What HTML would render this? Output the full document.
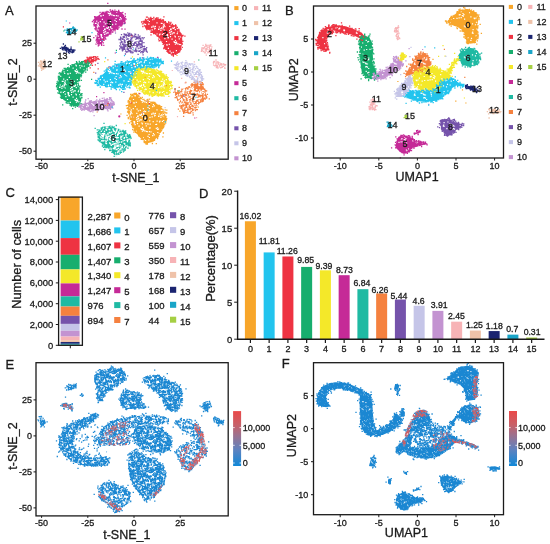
<!DOCTYPE html>
<html><head><meta charset="utf-8"><title>Figure</title><style>
html,body{margin:0;padding:0;background:#fff;width:550px;height:544px;overflow:hidden}
svg{display:block}
text{stroke:#1a1a1a;stroke-width:.3px}
</style></head><body><svg width="550" height="544" viewBox="0 0 550 544" font-family="Liberation Sans, Arial, sans-serif" fill="#1a1a1a"><defs><pattern id="wsp" patternUnits="userSpaceOnUse" width="29" height="31"><g fill="none" stroke-width="1.2" stroke-linecap="square"><path stroke="#fff" d="M6.9 16.9h0M10.7 18.7h0M18.1 2.0h0M0.4 26.0h0M29.4 26.0h0M7.5 7.3h0M-0.1 14.6h0M28.9 14.6h0M24.3 14.8h0M18.5 4.7h0M18.4 26.9h0M15.2 23.0h0M19.5 2.0h0M22.0 18.3h0M8.7 1.0h0M8.7 32.0h0M25.1 14.7h0M20.8 27.2h0M20.7 28.6h0M11.5 24.8h0M12.9 29.0h0M25.5 3.0h0M3.9 6.7h0M28.0 13.5h0M18.2 9.3h0M14.7 12.0h0M10.2 18.1h0M16.9 28.0h0M19.8 28.8h0M24.8 -0.3h0M24.8 30.7h0M19.5 5.1h0M25.0 29.9h0M26.2 17.6h0M20.7 6.5h0M24.1 17.8h0M8.3 2.0h0M24.8 -0.3h0M24.8 30.7h0M2.6 24.8h0M11.9 4.7h0M8.5 23.8h0M25.3 1.4h0M17.8 1.4h0M20.8 10.3h0M25.5 -0.6h0M25.5 30.4h0M14.7 -0.0h0M14.7 31.0h0M9.0 2.4h0M17.4 1.0h0M17.4 32.0h0M5.7 12.6h0M17.7 4.8h0M1.2 26.9h0M9.1 29.7h0M26.0 11.7h0M13.4 16.1h0M18.7 18.5h0M16.2 19.2h0M27.3 15.7h0M12.5 22.3h0M6.9 9.3h0M-0.6 16.2h0M28.4 16.2h0M15.9 0.4h0M15.9 31.4h0M12.0 18.0h0M0.6 19.1h0M29.6 19.1h0M18.3 1.9h0M18.2 14.5h0M19.7 10.9h0"/></g></pattern><pattern id="wsp2" patternUnits="userSpaceOnUse" width="31" height="29"><g fill="none" stroke-width="1.3" stroke-linecap="square"><path stroke="#fff" d="M21.9 21.4h0M0.7 1.8h0M31.7 1.8h0M21.0 27.9h0M7.8 13.2h0M18.4 9.3h0M11.3 9.1h0M11.4 17.3h0M9.3 10.9h0M23.9 0.8h0M23.9 29.8h0M17.6 21.3h0M9.6 6.5h0M24.9 6.9h0M5.8 12.6h0M21.6 3.0h0M10.0 9.7h0M25.8 12.7h0M26.5 4.9h0M10.4 18.9h0M27.4 13.1h0M7.0 3.5h0M16.4 5.5h0M25.0 24.3h0M5.7 8.1h0M25.0 18.6h0M25.0 10.0h0M4.0 8.5h0M24.6 7.9h0M10.7 12.1h0M13.0 11.9h0M28.5 4.5h0M0.1 27.4h0M31.1 27.4h0M27.3 -0.4h0M27.3 28.6h0M13.5 27.6h0M28.7 6.4h0M23.1 24.3h0M20.6 15.1h0M9.0 9.9h0M7.1 2.0h0M18.2 8.3h0M25.1 1.3h0M28.0 20.1h0M28.6 26.0h0M27.9 16.7h0M0.4 21.6h0M31.4 21.6h0M5.3 8.7h0M20.5 15.2h0M12.8 27.2h0M19.0 9.9h0M7.8 25.0h0M14.8 22.7h0M10.9 5.7h0M16.6 23.7h0M5.3 23.0h0M28.6 23.4h0M25.5 0.2h0M25.5 29.2h0M19.5 25.0h0M1.5 7.9h0M8.3 15.3h0M13.1 13.7h0M24.1 0.1h0M24.1 29.1h0M1.7 3.7h0M3.9 2.0h0M-0.8 24.8h0M30.2 24.8h0M2.7 14.6h0M9.8 9.1h0M10.9 18.8h0M18.2 10.5h0M5.9 9.5h0M3.8 16.1h0M22.2 11.0h0M2.5 5.2h0M11.6 17.5h0M24.3 11.0h0M24.8 18.1h0M13.4 10.8h0M15.4 20.4h0M13.0 20.1h0M14.3 7.1h0M16.6 20.2h0M2.2 12.3h0M13.2 25.5h0M29.0 10.9h0M27.8 22.9h0M8.1 13.5h0M3.8 23.6h0M20.5 25.7h0M24.6 19.4h0M22.7 16.4h0M3.2 17.0h0M0.2 4.2h0M31.2 4.2h0M24.0 1.3h0M2.8 2.9h0M27.3 5.2h0M0.7 24.4h0M31.7 24.4h0M3.8 24.5h0M20.9 24.2h0M29.5 16.8h0M24.8 1.1h0M23.8 14.8h0M22.2 3.1h0M23.2 27.1h0M1.9 9.4h0M17.5 24.0h0M7.5 5.2h0M7.7 17.9h0M23.4 11.4h0M11.4 11.5h0M10.9 12.1h0M2.6 14.5h0M-0.8 12.0h0M30.2 12.0h0M23.2 4.7h0M21.4 21.9h0M20.9 15.0h0M15.0 18.6h0M27.8 4.3h0M3.0 21.7h0M28.4 15.0h0M13.7 20.8h0M5.8 7.8h0M6.2 17.0h0M9.8 6.7h0M21.4 27.6h0M9.2 20.5h0M12.8 24.8h0M18.1 7.7h0M6.7 0.7h0M6.7 29.7h0M14.9 11.1h0M5.3 10.5h0M10.0 22.5h0M4.5 -0.3h0M4.5 28.7h0M14.9 17.4h0M14.5 24.2h0M25.5 16.2h0M14.9 20.9h0M26.6 11.6h0M22.7 27.8h0M14.5 6.7h0M7.3 20.8h0M20.9 27.8h0M26.5 7.0h0M5.9 7.5h0M5.8 20.4h0M26.6 26.1h0M7.9 25.1h0M9.7 12.3h0M22.6 2.5h0M2.9 24.2h0M9.0 10.3h0M18.0 19.6h0M0.2 9.7h0M31.2 9.7h0M13.5 14.1h0M6.5 17.0h0M29.6 11.3h0M16.9 3.5h0M8.5 19.3h0M3.5 25.7h0M28.2 2.8h0M29.2 10.9h0M23.9 22.0h0M9.2 19.6h0M20.3 23.4h0M8.2 21.9h0M29.8 19.5h0M16.6 3.3h0M15.3 10.2h0M22.3 19.7h0M17.6 5.3h0M20.0 18.3h0M5.6 25.8h0M20.3 3.6h0M28.9 4.1h0M10.3 20.9h0M18.5 16.1h0M20.1 13.3h0M9.7 5.1h0M2.1 20.8h0M23.4 15.8h0M22.9 10.4h0M8.2 11.1h0M27.0 1.2h0M15.6 7.2h0M23.8 10.3h0M10.3 11.7h0M16.8 22.4h0M10.9 24.6h0M3.5 7.8h0M3.1 3.3h0M24.1 21.1h0M5.7 5.5h0M12.9 21.6h0M25.3 21.7h0M18.3 4.2h0M12.4 5.6h0M16.4 16.5h0M6.3 7.3h0M24.2 0.9h0M24.2 29.9h0M24.9 25.8h0M29.4 11.1h0M17.1 16.9h0M19.6 -0.7h0M19.6 28.3h0M21.3 8.7h0M26.7 14.0h0M18.6 21.1h0M0.1 22.3h0M31.1 22.3h0M20.5 14.3h0M16.2 13.4h0M6.0 15.4h0M1.1 14.5h0M20.0 12.9h0M17.5 27.8h0M27.7 3.9h0M24.6 18.1h0M1.6 10.4h0M7.2 2.3h0M16.7 27.0h0M10.0 25.2h0M21.5 3.9h0M26.6 17.4h0M28.7 20.8h0M22.9 10.0h0M25.0 27.0h0M26.7 12.7h0M23.5 14.1h0M3.4 1.2h0M2.4 5.8h0M5.0 14.4h0M21.7 15.6h0M13.1 18.8h0M9.4 13.5h0M23.5 11.6h0M5.6 26.1h0M22.3 10.6h0M11.5 15.4h0M18.5 6.5h0M0.1 6.1h0M31.1 6.1h0M24.3 4.2h0M14.3 5.7h0M6.5 5.0h0M12.5 4.9h0M0.9 3.2h0M31.9 3.2h0M5.2 14.2h0M1.9 0.7h0M1.9 29.7h0M13.9 11.8h0M21.8 1.5h0M12.5 11.5h0M0.8 -1.0h0M0.8 28.0h0M31.8 -1.0h0M31.8 28.0h0M6.8 2.7h0M14.7 4.8h0M19.3 10.0h0M3.8 1.5h0M22.6 8.0h0M24.4 13.5h0M28.9 8.7h0M7.7 7.7h0M25.3 18.2h0M10.7 2.7h0M21.2 -0.9h0M21.2 28.1h0M18.4 0.1h0M18.4 29.1h0M0.9 2.6h0M31.9 2.6h0M5.3 1.1h0M1.7 19.0h0M27.9 5.8h0M-0.8 13.8h0M30.2 13.8h0M24.9 26.6h0M29.1 1.0h0M29.1 30.0h0M9.4 17.6h0M29.3 2.5h0M9.1 24.6h0M3.6 11.3h0M10.4 19.7h0M28.8 5.1h0M22.9 21.3h0M25.9 16.0h0M28.6 10.5h0M12.9 6.7h0M24.2 13.9h0M8.4 4.9h0M22.3 17.6h0M22.0 11.2h0M15.1 4.5h0M22.0 0.7h0M22.0 29.7h0M14.5 22.0h0M21.0 2.8h0M7.4 24.5h0M19.9 25.5h0M27.0 13.0h0M27.8 21.3h0M10.3 10.7h0M2.2 11.6h0M29.6 3.0h0M17.6 3.2h0M2.5 18.8h0M7.5 1.4h0M4.7 18.7h0M18.2 0.3h0M18.2 29.3h0M7.1 -0.9h0M7.1 28.1h0M6.8 16.3h0M13.0 22.7h0M18.7 22.9h0M16.6 5.5h0M5.5 2.3h0M25.6 3.3h0M0.7 -1.0h0M0.7 28.0h0M31.7 -1.0h0M31.7 28.0h0M6.2 25.9h0M2.7 13.5h0M6.9 24.1h0M19.1 18.6h0M23.6 25.3h0M10.7 17.5h0M13.8 3.2h0M25.9 17.2h0M25.3 6.0h0M16.7 13.5h0M22.6 2.2h0"/></g></pattern><pattern id="wspA" patternUnits="userSpaceOnUse" width="33" height="29"><g fill="none" stroke-width="1.2" stroke-linecap="square"><path stroke="#fff" d="M11.4 14.1h0M2.4 16.0h0M24.3 12.3h0M21.4 17.6h0M7.1 10.2h0M-0.1 9.7h0M32.9 9.7h0M14.2 2.4h0M7.2 4.8h0M30.7 21.1h0M28.9 -0.4h0M28.9 28.6h0M20.2 27.0h0M17.7 12.1h0M31.3 26.2h0M31.3 14.0h0M25.5 11.8h0M-0.1 26.7h0M32.9 26.7h0M9.6 27.1h0M6.1 2.8h0M23.8 8.5h0M17.1 18.5h0M1.3 21.6h0M9.1 12.5h0M11.4 21.5h0M24.6 8.3h0M3.4 8.7h0M13.6 2.2h0M5.1 22.1h0M23.1 -0.7h0M23.1 28.3h0M-0.7 25.4h0M32.3 25.4h0M12.3 4.7h0M10.3 13.4h0M17.4 15.7h0M11.9 24.7h0M9.4 13.4h0M29.3 23.4h0M9.8 7.0h0M26.6 0.3h0M26.6 29.3h0M4.3 15.4h0M17.7 4.8h0M1.7 5.9h0M25.4 13.5h0M-0.7 22.8h0M32.3 22.8h0M-0.7 1.0h0M32.3 1.0h0M6.1 0.4h0M6.1 29.4h0M14.3 9.8h0M1.7 15.8h0M3.1 9.0h0M8.2 23.3h0M13.8 7.6h0M1.5 12.5h0M20.7 19.6h0M30.1 23.4h0M8.2 3.9h0M25.0 22.9h0M16.8 24.1h0M18.2 8.1h0M5.6 0.5h0M5.6 29.5h0M21.2 26.0h0M29.9 13.6h0M22.0 26.9h0M26.9 17.5h0M13.7 15.0h0M5.6 5.3h0M22.6 -0.2h0M22.6 28.8h0M18.1 11.8h0M11.6 13.2h0M26.5 13.1h0M31.7 4.5h0M10.4 15.1h0M13.6 24.7h0M27.3 27.0h0M20.2 0.9h0M20.2 29.9h0M19.0 15.9h0M16.1 8.1h0M23.4 26.4h0M3.4 19.4h0M12.3 14.9h0M29.6 27.8h0M21.2 5.7h0M30.4 5.3h0M12.6 24.0h0M10.4 7.9h0M31.3 27.4h0M10.5 11.4h0M9.3 3.8h0M8.3 -0.6h0M8.3 28.4h0M2.6 6.7h0M6.6 2.3h0M17.4 21.5h0M27.7 18.3h0M27.0 0.2h0M27.0 29.2h0M9.3 27.9h0M2.3 7.8h0M15.9 7.8h0M18.0 1.4h0M7.8 27.8h0M4.8 26.3h0M5.9 -0.2h0M5.9 28.8h0M22.3 18.8h0M4.7 1.6h0M25.1 5.1h0M6.3 23.9h0M28.9 1.4h0M31.7 15.5h0M12.6 3.1h0M12.9 -0.4h0M12.9 28.6h0M9.3 3.8h0M4.8 3.7h0M11.6 26.5h0M2.5 5.6h0M31.0 -0.1h0M31.0 28.9h0M-0.7 7.1h0M32.3 7.1h0M11.7 27.6h0M16.0 20.4h0M10.3 0.6h0M10.3 29.6h0M11.4 21.7h0M25.8 16.5h0M15.3 15.6h0M14.6 15.5h0M27.5 5.8h0M19.6 27.1h0M28.0 5.2h0M31.8 24.4h0M5.5 7.7h0"/></g></pattern><pattern id="bdot" patternUnits="userSpaceOnUse" width="37" height="33"><g fill="none" stroke-width="1.3" stroke-linecap="square"><path stroke="#1B87D2" d="M7.5 1.8h0M-0.8 13.5h0M36.2 13.5h0M32.3 3.8h0M0.5 28.7h0M37.5 28.7h0M29.4 -0.3h0M29.4 32.7h0M25.4 17.3h0M28.3 3.1h0M20.0 14.6h0M5.4 19.8h0M12.0 16.7h0M13.8 10.5h0M13.3 19.8h0M-0.7 30.9h0M36.3 30.9h0M31.9 27.6h0M10.6 -0.8h0M10.6 32.2h0M10.0 4.1h0M18.5 24.2h0M12.6 21.3h0M10.4 31.9h0M16.8 15.8h0M19.7 28.9h0M-0.5 17.4h0M36.5 17.4h0M16.3 20.4h0M2.6 14.0h0M31.4 25.7h0M2.2 28.2h0M14.2 -0.6h0M14.2 32.4h0M13.6 7.1h0M20.3 29.2h0M16.0 28.6h0M26.3 11.9h0M11.1 16.7h0M14.8 12.3h0M24.1 28.9h0M21.6 4.8h0M8.1 12.2h0M22.7 4.6h0M3.0 10.6h0M10.5 1.0h0M10.5 34.0h0M19.9 30.4h0M19.8 24.3h0M30.7 27.6h0M33.8 14.6h0M25.3 4.0h0M32.6 12.5h0M17.6 29.4h0M10.6 6.3h0M30.5 19.8h0M3.1 0.9h0M3.1 33.9h0M13.0 0.2h0M13.0 33.2h0M30.8 6.1h0M10.1 12.8h0M18.9 14.3h0M23.3 21.8h0M16.1 3.2h0M-0.8 22.8h0M36.2 22.8h0M3.1 14.6h0M27.9 -0.3h0M27.9 32.7h0M2.4 0.3h0M2.4 33.3h0M17.8 13.9h0M33.1 27.3h0M12.3 13.8h0M21.6 29.2h0M7.5 12.9h0M3.3 21.2h0M1.0 30.9h0M38.0 30.9h0M19.4 18.9h0M3.2 7.7h0M17.3 28.3h0M19.9 9.4h0M-0.7 21.8h0M36.3 21.8h0M19.6 6.7h0M11.0 29.7h0M4.9 17.5h0M22.9 11.7h0M28.4 30.0h0M31.7 24.4h0M7.5 2.0h0M16.0 10.3h0M7.2 28.8h0M8.0 27.2h0M34.7 4.0h0M33.8 13.1h0M7.8 6.2h0M1.4 16.5h0M14.2 28.1h0M30.8 1.9h0M14.8 12.8h0M6.6 8.3h0M9.7 22.9h0M12.6 3.7h0M8.2 14.6h0M20.9 8.1h0M25.9 7.1h0M24.8 20.1h0M6.5 24.8h0M14.6 17.8h0M22.1 20.7h0M16.4 1.8h0M29.1 28.4h0M18.1 19.1h0M9.9 29.7h0M25.4 7.3h0M30.2 -0.5h0M30.2 32.5h0M12.8 -0.1h0M12.8 32.9h0M17.9 5.9h0M26.5 11.2h0M27.1 19.3h0M4.0 17.4h0M31.5 15.8h0M20.0 28.5h0M16.5 16.3h0M21.6 27.2h0M7.5 3.1h0M28.2 18.2h0M11.2 29.4h0M32.7 17.9h0M-0.4 27.6h0M36.6 27.6h0M27.7 9.6h0M0.4 22.4h0M37.4 22.4h0M27.2 11.6h0M17.7 18.7h0M9.2 23.0h0M20.8 12.7h0M4.1 18.3h0M11.8 23.9h0M6.4 13.0h0M7.3 13.5h0M21.3 3.5h0M2.0 15.9h0M7.5 16.7h0M6.2 3.3h0M19.9 30.5h0M32.1 17.0h0M14.7 2.2h0M10.2 10.4h0M34.8 3.9h0M35.1 15.7h0M16.1 8.7h0M35.6 6.1h0M21.1 16.9h0M7.4 7.4h0M-0.5 26.1h0M36.5 26.1h0M27.1 29.8h0M3.6 23.2h0M27.8 7.4h0M16.9 -0.8h0M16.9 32.2h0M12.1 25.2h0M6.1 22.0h0M10.0 16.8h0M13.8 28.7h0M27.6 16.6h0M25.4 14.1h0M29.8 8.5h0M20.1 19.3h0M14.4 1.5h0M6.3 21.1h0M7.8 25.0h0M18.7 31.5h0M31.4 24.0h0M13.8 1.4h0M20.6 24.6h0M34.1 6.7h0M5.9 -0.6h0M5.9 32.4h0M27.4 16.0h0M27.3 4.9h0M20.1 22.1h0M22.3 5.3h0M5.1 20.6h0M32.7 4.6h0M0.3 2.7h0M37.3 2.7h0M29.1 12.9h0M16.9 -0.2h0M16.9 32.8h0M22.6 8.7h0M25.9 0.1h0M25.9 33.1h0M10.4 23.1h0M6.3 1.1h0M19.2 10.8h0M35.9 3.4h0M29.7 12.8h0M29.8 14.7h0M24.7 10.8h0M8.3 14.9h0M29.6 11.4h0M8.5 13.7h0M3.5 10.4h0M21.2 18.0h0M22.1 9.6h0M0.9 0.9h0M0.9 33.9h0M37.9 0.9h0M37.9 33.9h0M12.5 6.5h0M21.1 8.8h0M28.2 19.8h0M24.5 24.3h0M19.3 14.1h0M11.4 2.1h0M29.4 16.5h0M3.7 30.6h0M21.5 20.6h0M16.2 4.2h0M-0.0 5.5h0M37.0 5.5h0M13.6 -0.0h0M13.6 33.0h0M4.5 16.5h0M17.7 8.2h0M34.2 13.7h0M0.4 15.6h0M37.4 15.6h0M0.2 23.4h0M37.2 23.4h0M32.2 29.9h0M1.8 22.3h0M11.3 15.6h0M11.1 10.1h0M4.9 20.6h0M3.3 31.8h0M1.6 31.8h0M7.1 2.8h0M27.6 17.5h0M28.5 16.8h0M23.3 2.7h0M24.9 16.9h0M35.6 0.2h0M35.6 33.2h0M2.5 22.3h0M34.3 13.9h0M26.3 18.5h0M14.5 15.4h0M22.3 1.0h0M22.3 34.0h0M11.3 24.4h0M9.6 15.6h0M9.5 11.8h0M24.1 24.5h0M35.4 15.7h0M7.5 11.1h0M2.2 7.9h0M21.6 20.2h0M8.9 6.0h0M3.6 5.9h0M18.6 8.4h0M32.7 18.6h0M12.6 14.2h0M1.5 24.2h0M27.8 12.0h0M26.8 9.0h0M8.1 7.5h0M7.3 20.0h0M23.8 24.0h0M3.8 25.3h0M17.7 12.5h0M18.6 14.3h0M7.4 13.0h0M23.9 23.6h0M33.9 6.4h0M33.0 26.4h0M26.4 -0.7h0M26.4 32.3h0M5.1 25.6h0M33.3 4.0h0M22.0 31.3h0M10.8 28.2h0M33.5 14.4h0M5.4 7.1h0M30.7 13.9h0M11.7 14.6h0M34.3 8.4h0M0.7 31.3h0M37.7 31.3h0M11.7 12.7h0M-0.9 9.3h0M36.1 9.3h0M3.2 29.3h0M9.0 7.3h0M34.7 7.6h0M33.3 11.0h0M11.2 7.1h0M20.1 18.5h0M14.7 16.7h0M11.0 27.6h0M34.6 24.9h0M30.3 2.3h0M9.3 6.7h0M5.7 32.0h0M33.5 30.2h0M20.6 3.8h0M15.8 1.9h0M33.5 8.8h0M10.7 31.2h0M7.4 30.4h0M11.5 21.9h0M3.9 29.6h0M14.7 11.4h0M24.2 19.6h0M9.3 4.1h0M21.3 0.8h0M21.3 33.8h0M32.2 11.3h0M6.3 10.8h0M4.2 10.4h0M20.1 13.4h0M12.4 9.6h0M18.0 25.7h0M16.2 25.3h0M17.9 4.0h0M6.3 28.0h0M17.7 12.6h0M19.1 27.9h0M13.9 11.9h0M13.5 0.4h0M13.5 33.4h0M20.2 15.8h0M18.3 14.9h0M17.5 23.6h0M6.9 -0.6h0M6.9 32.4h0M4.2 28.6h0M6.5 26.2h0M9.6 2.6h0M20.0 27.7h0M31.3 28.9h0M-0.8 1.8h0M36.2 1.8h0M14.0 3.5h0M27.9 14.9h0M27.5 26.3h0M-0.0 22.3h0M37.0 22.3h0M32.4 18.1h0M3.0 29.4h0M3.4 2.8h0M30.7 9.3h0M24.5 0.9h0M24.5 33.9h0M7.8 23.6h0M1.4 16.9h0M34.7 7.1h0M26.1 24.5h0M22.9 25.3h0M25.8 0.5h0M25.8 33.5h0M7.1 17.7h0M35.9 7.2h0M21.7 4.2h0M31.3 14.7h0M19.3 22.1h0M5.1 24.1h0M29.6 28.4h0M10.4 7.7h0M6.1 29.7h0M16.2 12.9h0M19.3 23.1h0M11.8 11.1h0M28.4 25.6h0M11.0 2.4h0M34.3 24.1h0M22.0 13.4h0M35.5 14.2h0M8.0 3.3h0M13.0 19.8h0M13.5 31.3h0M24.0 15.1h0M24.4 19.9h0M22.9 16.3h0M19.4 16.2h0M30.8 6.3h0M29.1 9.8h0M31.4 2.4h0M17.9 14.6h0M26.3 6.7h0M9.7 4.4h0M20.8 19.0h0M0.0 5.9h0M37.0 5.9h0M7.4 31.6h0M16.8 18.7h0M10.7 21.8h0M30.1 22.1h0M0.1 14.5h0M37.1 14.5h0M18.1 1.5h0M29.2 10.5h0M10.9 20.6h0M21.6 16.4h0M31.8 17.1h0M12.7 2.1h0M20.5 12.0h0M19.9 11.5h0M0.3 1.2h0M37.3 1.2h0M5.8 3.1h0M31.5 19.2h0M8.8 23.5h0M23.5 2.0h0M27.8 7.6h0M-0.1 4.7h0M36.9 4.7h0M10.6 8.2h0M31.9 27.0h0M21.4 4.9h0M15.9 23.2h0M2.1 30.4h0M31.1 30.7h0M25.8 20.4h0M-0.9 8.8h0M36.1 8.8h0M11.3 4.1h0M6.7 26.3h0M3.5 24.6h0M14.7 29.0h0M28.1 22.7h0M31.3 1.4h0M9.8 12.2h0M15.9 22.1h0M32.5 24.4h0M34.4 23.0h0M13.2 16.8h0M27.7 26.9h0M13.7 11.7h0M22.7 7.5h0M32.7 0.0h0M32.7 33.0h0M24.0 16.0h0M7.2 18.8h0M17.5 31.7h0M32.7 19.4h0M32.2 29.2h0M6.1 27.3h0M30.8 -0.3h0M30.8 32.7h0M28.1 12.9h0M7.6 21.5h0M7.8 25.0h0M21.3 27.3h0M13.2 10.0h0M33.5 21.9h0M14.0 18.5h0M16.1 21.2h0M19.1 9.4h0M-0.8 29.2h0M36.2 29.2h0M28.1 9.2h0M7.2 24.1h0M30.4 21.5h0M7.9 23.8h0M19.4 12.3h0M21.8 14.8h0M24.0 24.8h0M-0.6 3.7h0M36.4 3.7h0M21.1 31.2h0M24.3 19.1h0M31.6 1.0h0M29.3 20.6h0M21.6 10.3h0M22.9 4.1h0M19.4 8.5h0M34.5 26.6h0M17.5 24.9h0M14.2 17.3h0M6.0 28.3h0M28.3 25.1h0M3.1 27.0h0M0.4 18.6h0M37.4 18.6h0M18.0 2.0h0M15.6 29.3h0M23.1 10.4h0M30.1 11.7h0M33.2 13.2h0M2.9 -0.9h0M2.9 32.1h0M2.6 8.4h0M28.5 3.8h0M20.1 28.3h0M21.8 11.5h0M28.0 27.2h0M21.4 20.7h0M11.9 13.4h0M-0.3 -0.9h0M-0.3 32.1h0M36.7 -0.9h0M36.7 32.1h0M0.1 6.5h0M37.1 6.5h0M8.3 26.2h0M7.4 5.6h0M28.3 5.6h0M-0.8 15.0h0M36.2 15.0h0M33.2 27.1h0M7.7 25.9h0M15.4 7.3h0M1.7 23.2h0M20.8 10.0h0M30.8 6.5h0M16.5 2.9h0M13.0 29.2h0M18.5 5.1h0M8.8 21.3h0M10.3 29.3h0M2.2 28.7h0M23.0 27.1h0M13.1 2.3h0M6.4 20.7h0M1.0 3.6h0M38.0 3.6h0M28.9 29.0h0M31.7 27.6h0M20.5 28.9h0M25.8 18.4h0M15.8 0.8h0M15.8 33.8h0M3.3 8.2h0M17.1 4.0h0M35.9 19.0h0M27.4 29.5h0M8.4 29.2h0M35.4 8.8h0M4.6 26.4h0M32.9 26.4h0M15.1 19.9h0M4.2 7.7h0M15.5 24.6h0M3.3 30.6h0M1.1 32.0h0M8.8 27.0h0M30.3 31.5h0M17.4 23.1h0M10.8 27.5h0M4.0 29.2h0M21.9 2.0h0M34.8 10.4h0M2.5 8.5h0M1.0 9.3h0M26.3 -0.4h0M26.3 32.6h0M23.4 28.2h0M30.4 23.6h0M14.2 8.3h0M5.8 18.0h0M7.6 24.4h0M11.9 19.1h0M20.2 20.7h0M5.7 8.5h0M25.5 7.0h0M24.8 31.8h0M14.4 31.7h0M22.7 31.2h0M19.5 24.8h0M25.3 6.4h0M19.2 19.2h0M17.2 21.8h0M33.6 26.2h0M30.1 4.7h0M26.0 20.7h0M34.7 0.1h0M34.7 33.1h0M6.4 -0.8h0M6.4 32.2h0M13.8 23.3h0M21.9 13.1h0M16.2 18.6h0M-0.5 17.6h0M36.5 17.6h0M29.2 10.0h0M26.3 20.0h0M27.5 29.0h0M3.0 31.9h0M22.6 8.6h0M17.2 3.2h0M8.6 27.6h0M26.3 28.6h0M6.0 3.6h0M14.0 16.4h0M26.3 9.8h0M27.3 19.3h0M10.7 26.0h0M2.7 19.5h0M6.9 1.4h0M17.7 17.2h0M22.7 12.4h0M34.4 25.9h0M5.7 0.2h0M5.7 33.2h0M35.5 13.6h0M3.9 5.9h0M25.9 5.8h0M13.8 22.3h0M13.0 21.6h0M35.1 26.2h0M23.2 20.6h0M11.5 21.1h0M24.0 19.4h0M18.2 24.8h0M7.6 23.5h0M-0.8 1.2h0M36.2 1.2h0M9.3 -0.5h0M9.3 32.5h0M3.1 27.0h0M21.5 2.3h0M23.3 0.3h0M23.3 33.3h0M31.4 10.0h0M34.2 29.6h0M5.1 13.3h0M5.6 25.0h0M3.5 2.4h0M4.3 28.3h0M9.1 10.7h0M16.5 18.2h0M15.3 31.3h0M12.6 15.7h0M31.9 8.0h0M6.4 27.6h0M11.7 29.4h0M30.4 12.3h0M12.3 3.3h0M32.3 14.6h0M12.7 5.8h0M8.4 28.8h0M4.8 18.3h0M23.1 17.2h0M18.6 13.1h0M7.1 27.1h0M33.2 18.6h0M9.3 30.1h0M7.5 5.6h0M23.2 27.4h0M21.2 3.6h0M-0.8 5.2h0M36.2 5.2h0M12.7 -0.4h0M12.7 32.6h0M29.3 24.9h0M2.8 28.1h0M14.8 0.4h0M14.8 33.4h0M29.2 30.7h0M1.8 15.0h0M33.4 11.0h0M11.2 25.7h0M16.3 -0.1h0M16.3 32.9h0M31.7 28.3h0M26.2 6.4h0M25.4 19.1h0M17.9 18.7h0M11.3 6.5h0M33.8 12.1h0M3.9 -0.8h0M3.9 32.2h0M18.9 22.3h0M12.6 4.9h0M12.3 27.5h0M10.1 30.1h0M11.3 29.6h0M6.6 14.6h0M4.8 4.9h0M19.3 12.0h0M19.9 7.1h0M11.5 10.6h0M33.2 2.7h0M15.4 28.2h0M21.2 8.4h0M-0.1 3.6h0M36.9 3.6h0M5.1 0.6h0M5.1 33.6h0M16.2 28.3h0M10.4 9.4h0M29.5 2.6h0M0.6 21.9h0M37.6 21.9h0M3.3 17.4h0M5.4 19.9h0M31.5 15.0h0M10.1 20.6h0M25.9 1.9h0M8.9 12.4h0M18.7 9.0h0M24.4 8.4h0M33.5 11.6h0M8.2 2.6h0M4.7 7.1h0M32.7 13.7h0M16.4 31.7h0M35.8 25.3h0M8.9 10.8h0M18.7 8.5h0M12.8 7.0h0M8.9 24.7h0M22.3 14.7h0M17.5 20.2h0M25.3 0.8h0M25.3 33.8h0M31.2 15.3h0M12.7 31.6h0M28.0 11.6h0M0.9 14.4h0M37.9 14.4h0M16.3 12.4h0M3.6 19.0h0M9.4 25.1h0M19.6 9.7h0M30.6 14.8h0M3.1 9.2h0M1.9 14.2h0M33.6 31.0h0M24.1 5.1h0M8.9 6.7h0M13.8 21.1h0M0.8 16.2h0M37.8 16.2h0M15.7 21.8h0M30.6 13.1h0M22.3 9.0h0M16.8 21.0h0M1.9 17.0h0M18.6 6.1h0M9.2 27.2h0M12.9 6.4h0M10.5 17.2h0M14.8 11.6h0M11.9 7.1h0M18.7 19.8h0M3.3 19.5h0M11.4 -0.7h0M11.4 32.3h0M34.7 4.3h0M25.8 11.4h0M4.1 28.9h0M33.6 26.0h0M23.6 -0.7h0M23.6 32.3h0M20.6 22.3h0M24.1 28.4h0M31.7 10.0h0M7.7 18.0h0M21.8 11.7h0M31.8 28.0h0M25.4 17.7h0M25.7 6.4h0M29.9 4.2h0M33.4 20.6h0M10.3 6.3h0M22.2 15.3h0M25.8 3.2h0M32.4 14.2h0M16.3 24.4h0M22.4 14.7h0M10.8 15.4h0M1.2 8.4h0M30.6 4.0h0M3.2 28.0h0M13.8 17.5h0M21.7 23.7h0M11.8 25.4h0M0.0 28.0h0M37.0 28.0h0M11.5 20.6h0M11.2 24.7h0M13.9 19.9h0M11.9 27.5h0M28.7 6.6h0M28.0 31.1h0M8.8 6.3h0M34.4 31.8h0M4.8 25.6h0M34.4 8.7h0M28.9 9.8h0M29.1 16.8h0M17.5 4.1h0M24.1 23.1h0M10.8 1.5h0M3.4 8.6h0M-0.1 24.5h0M36.9 24.5h0M33.2 24.7h0M4.9 12.7h0M35.1 28.1h0M-0.3 27.1h0M36.7 27.1h0M26.3 25.2h0M33.9 14.2h0M1.2 10.3h0M0.5 9.0h0M37.5 9.0h0M21.8 9.1h0M9.2 3.1h0M13.3 17.0h0M21.9 31.1h0M2.6 8.4h0M2.8 30.7h0M23.4 21.7h0M30.1 0.1h0M30.1 33.1h0M33.4 11.0h0M23.3 13.3h0M27.6 10.0h0M10.3 8.2h0M26.8 15.0h0M5.7 11.7h0M21.0 12.3h0M21.9 27.8h0M23.7 26.4h0M11.2 28.7h0M34.8 17.5h0M0.9 2.8h0M37.9 2.8h0M28.0 28.6h0M26.8 16.8h0M20.0 3.8h0M22.1 -0.0h0M22.1 33.0h0M7.6 20.1h0M31.5 21.5h0M13.0 7.8h0M27.1 30.6h0M32.5 13.2h0M27.6 26.8h0M13.9 24.9h0M14.3 6.6h0M0.0 23.9h0M37.0 23.9h0M27.8 1.4h0M2.3 10.5h0M7.7 24.1h0M7.0 19.3h0M20.4 11.5h0M31.6 14.4h0M18.9 22.0h0M15.0 6.1h0M35.3 24.8h0M20.2 16.4h0M22.8 9.7h0M2.7 18.0h0M33.3 3.3h0M-0.7 12.3h0M36.3 12.3h0M-0.1 25.4h0M36.9 25.4h0M10.1 7.0h0M32.9 -0.7h0M32.9 32.3h0M29.8 19.3h0M20.1 25.8h0M30.4 27.5h0M10.7 27.3h0M35.3 19.0h0M0.3 6.2h0M37.3 6.2h0M24.1 14.0h0M34.0 21.2h0M25.9 5.0h0M19.4 23.4h0M33.9 29.8h0M9.8 16.6h0M-0.8 3.0h0M36.2 3.0h0M2.6 6.0h0M27.1 10.7h0M26.2 27.3h0M29.9 1.3h0M25.5 26.3h0M26.0 28.5h0M30.3 20.3h0M32.0 18.0h0M4.0 9.4h0M34.5 11.1h0M17.4 28.8h0M25.4 26.1h0M17.4 16.8h0M2.9 6.6h0M5.9 17.7h0M19.5 2.4h0M23.5 3.4h0M14.3 0.9h0M14.3 33.9h0M17.6 4.8h0M34.8 11.9h0M30.7 14.6h0M12.1 27.7h0M10.2 17.0h0M23.7 -0.2h0M23.7 32.8h0M26.0 1.7h0M16.9 31.4h0M31.6 12.2h0M4.8 8.9h0M28.0 6.0h0M33.0 8.8h0M25.5 22.9h0M9.0 17.1h0M23.2 8.9h0M19.7 20.7h0M35.4 9.4h0M6.4 16.7h0M22.1 16.1h0M33.8 6.7h0M18.8 15.6h0M7.3 15.0h0M16.7 12.4h0M28.6 -0.4h0M28.6 32.6h0M35.9 7.2h0M13.8 31.3h0M3.1 3.0h0M2.4 31.7h0M18.7 14.3h0M3.6 29.2h0M-0.3 22.7h0M36.7 22.7h0M33.8 18.7h0M11.5 5.9h0M11.2 4.9h0M13.6 1.6h0M1.5 29.6h0M31.4 26.9h0M13.0 14.9h0M20.1 26.0h0M11.2 16.9h0M20.3 27.8h0M12.9 0.1h0M12.9 33.1h0M14.9 29.2h0M6.5 20.7h0M4.9 8.9h0M23.1 3.4h0M16.8 19.4h0M14.4 25.0h0M31.3 9.2h0M28.1 24.9h0M22.0 19.5h0M21.0 24.4h0M25.6 8.9h0M24.1 23.5h0M17.1 29.6h0M11.6 18.2h0M21.0 19.9h0M6.8 22.1h0M4.3 17.6h0M16.7 22.9h0M31.7 -0.5h0M31.7 32.5h0M8.5 30.0h0M17.5 16.6h0M1.5 28.4h0M8.5 9.2h0M11.3 7.7h0M10.7 9.5h0M19.7 11.9h0M28.0 30.8h0M34.5 12.4h0M25.3 24.2h0M26.8 13.2h0M7.1 25.0h0M24.3 11.6h0M24.7 2.2h0M29.0 29.6h0M35.9 3.8h0M25.6 25.8h0M5.2 20.1h0M7.0 7.2h0M1.0 9.3h0M31.4 19.4h0M29.5 -1.0h0M29.5 32.0h0M5.6 28.0h0M33.1 21.4h0M12.4 5.8h0M16.2 12.3h0M9.6 22.3h0M23.5 8.5h0M6.4 16.5h0M26.3 22.0h0M23.7 29.6h0M28.0 14.6h0M27.6 21.9h0M12.6 5.5h0M14.0 23.7h0M27.8 10.0h0M20.0 2.5h0M22.1 14.8h0M28.4 28.4h0M1.9 31.8h0M6.3 31.8h0M-0.5 7.3h0M36.5 7.3h0M10.8 4.8h0M33.7 25.0h0M35.8 26.6h0M13.3 25.5h0M13.2 10.9h0M15.8 23.1h0M11.7 18.5h0M21.0 26.2h0M17.4 13.9h0M20.6 15.2h0M27.1 3.5h0M6.6 1.3h0M15.3 28.0h0M22.2 21.0h0M34.6 27.1h0M10.8 7.3h0M19.9 7.6h0M22.1 2.6h0M14.5 23.8h0M9.4 4.9h0M27.7 6.4h0M33.4 20.2h0M32.9 17.6h0M18.1 8.5h0M2.1 31.5h0M8.1 2.7h0M34.5 17.7h0M21.5 30.3h0M27.1 8.6h0M10.5 21.7h0M25.2 7.4h0M9.2 16.8h0M2.2 26.6h0M24.3 5.0h0M21.4 19.5h0M3.3 14.2h0M29.3 15.0h0M26.9 7.7h0M-0.1 22.1h0M36.9 22.1h0M20.7 0.4h0M20.7 33.4h0M13.2 0.1h0M13.2 33.1h0M16.2 5.8h0M9.0 10.1h0M5.3 9.4h0M18.6 4.4h0M20.7 31.3h0M26.7 31.5h0M4.0 21.8h0M8.9 30.9h0M18.3 23.8h0M28.7 4.4h0M3.7 26.8h0M30.3 14.3h0M0.9 0.8h0M0.9 33.8h0M37.9 0.8h0M37.9 33.8h0M29.6 22.9h0M13.8 22.4h0M29.9 0.2h0M29.9 33.2h0M27.6 -0.7h0M27.6 32.3h0M32.2 29.2h0M16.3 20.0h0M4.2 26.2h0M24.4 13.4h0M1.8 5.9h0M14.9 30.4h0M17.4 28.6h0M6.9 8.4h0M8.7 9.5h0M29.4 12.2h0M11.8 22.5h0M16.5 29.0h0M25.7 27.5h0M15.8 13.0h0M16.7 -0.4h0M16.7 32.6h0M34.9 18.7h0M18.3 2.4h0M31.7 20.1h0M15.2 5.5h0M17.4 23.4h0M9.9 8.8h0M18.9 16.4h0M0.3 2.1h0M37.3 2.1h0M13.8 23.4h0M14.1 0.5h0M14.1 33.5h0M9.0 6.4h0M28.3 7.5h0M-0.7 9.5h0M36.3 9.5h0M6.7 0.6h0M6.7 33.6h0M18.2 17.0h0M28.9 22.1h0M20.1 1.8h0M34.3 8.2h0M8.7 5.7h0M21.8 21.6h0M11.7 8.5h0M0.4 19.6h0M37.4 19.6h0M26.3 4.0h0M8.9 24.8h0M26.3 4.5h0M-0.4 23.6h0M36.6 23.6h0M26.5 10.6h0M35.8 14.6h0M23.6 -0.6h0M23.6 32.4h0M30.9 5.8h0M4.8 6.9h0M4.4 29.2h0M20.1 15.7h0M13.6 16.4h0M16.2 23.9h0M15.4 28.6h0M31.3 28.6h0M27.7 5.7h0M15.6 27.7h0M13.2 18.9h0M7.8 27.2h0M12.3 11.9h0M30.2 2.9h0M0.3 14.0h0M37.3 14.0h0M16.5 3.7h0M14.5 25.4h0M32.7 30.4h0M29.4 2.4h0M13.5 14.8h0M1.0 25.8h0"/></g></pattern><pattern id="bdot2" patternUnits="userSpaceOnUse" width="35" height="31"><g fill="none" stroke-width="1.3" stroke-linecap="square"><path stroke="#1B87D2" d="M9.7 24.2h0M23.6 8.3h0M12.0 13.9h0M6.8 0.4h0M6.8 31.4h0M14.8 7.1h0M8.9 24.4h0M26.0 12.7h0M0.9 23.7h0M35.9 23.7h0M9.2 3.1h0M26.3 28.1h0M9.0 16.9h0M31.1 16.1h0M12.2 4.8h0M1.0 27.6h0M36.0 27.6h0M28.4 5.6h0M22.6 6.0h0M26.2 11.7h0M24.4 16.6h0M2.9 17.6h0M22.9 1.4h0M1.3 8.4h0M25.3 -0.7h0M25.3 30.3h0M15.6 26.6h0M24.9 8.5h0M15.6 26.2h0M16.9 15.7h0M25.3 4.6h0M16.1 16.1h0M19.9 21.5h0M9.5 14.7h0M16.1 3.2h0M27.5 29.7h0M19.6 12.7h0M12.9 14.1h0M13.0 8.4h0M33.2 11.4h0M7.5 20.4h0M0.2 11.0h0M35.2 11.0h0M19.6 25.4h0M10.6 1.6h0M33.9 0.4h0M33.9 31.4h0M14.6 15.9h0M-0.4 11.0h0M34.6 11.0h0M8.5 8.8h0M13.1 4.5h0M31.5 15.9h0M25.7 8.6h0M23.3 28.3h0M8.1 29.6h0M10.0 22.2h0M33.0 14.4h0M32.6 12.3h0M15.3 28.7h0M21.1 1.6h0M5.2 16.6h0M11.9 1.8h0M28.5 10.1h0M31.6 11.4h0M6.4 13.1h0M28.9 28.0h0M19.7 7.8h0M18.5 8.1h0M12.6 0.2h0M12.6 31.2h0M0.6 28.9h0M35.6 28.9h0M26.9 7.6h0M21.5 1.3h0M29.0 19.0h0M25.2 13.3h0M15.2 25.3h0M11.1 2.4h0M4.0 28.4h0M9.7 2.0h0M19.8 4.0h0M14.9 24.0h0M8.2 13.1h0M32.6 26.9h0M30.4 1.1h0M-1.0 17.4h0M34.0 17.4h0M5.3 -0.4h0M5.3 30.6h0M4.3 -0.5h0M4.3 30.5h0M1.1 2.4h0M16.6 18.9h0M20.5 25.3h0M3.8 22.5h0M11.2 29.6h0M21.9 21.4h0M4.6 28.3h0M10.1 6.5h0M14.7 24.2h0M11.3 14.6h0M21.2 7.7h0M4.1 12.6h0M24.9 21.0h0M7.4 20.4h0M29.3 21.8h0M6.4 1.3h0M-0.5 22.0h0M34.5 22.0h0M9.6 23.0h0M20.3 19.5h0M12.6 20.7h0M13.4 11.9h0M11.4 22.8h0M30.1 9.0h0M2.6 7.8h0M26.5 11.0h0M0.4 26.2h0M35.4 26.2h0M15.2 2.1h0M26.2 15.7h0M29.7 25.9h0M28.8 27.3h0M13.4 25.1h0M17.3 20.2h0M7.6 19.4h0M2.6 26.7h0M6.2 17.7h0M29.5 25.6h0M29.9 13.2h0M2.5 -0.5h0M2.5 30.5h0M10.7 26.8h0M14.3 13.7h0M19.0 16.9h0M27.3 18.2h0M5.9 16.5h0M3.3 26.5h0M6.2 11.3h0M20.7 10.6h0M31.3 24.6h0M11.6 13.3h0M25.8 15.8h0M22.3 10.4h0M19.9 18.4h0M31.5 10.9h0M28.0 6.6h0M10.2 7.2h0M32.5 3.0h0M10.1 14.5h0M24.9 20.5h0M4.3 12.1h0M25.2 4.4h0M4.3 25.5h0M0.0 2.5h0M35.0 2.5h0M6.6 25.9h0M12.2 13.3h0M18.9 27.6h0M1.4 6.0h0M14.1 19.9h0M4.7 13.5h0M19.9 2.0h0M11.6 1.9h0M31.9 0.3h0M31.9 31.3h0M5.6 19.0h0M8.1 17.8h0M11.9 -0.3h0M11.9 30.7h0M19.9 10.9h0M6.3 14.9h0M27.1 22.2h0M24.7 16.0h0M32.7 12.4h0M19.1 29.6h0M27.6 14.7h0M27.8 23.9h0M10.3 12.4h0M26.5 11.6h0M12.3 16.6h0M2.7 8.1h0M-0.5 7.7h0M34.5 7.7h0M28.2 0.2h0M28.2 31.2h0M10.8 16.0h0M11.0 29.2h0M33.5 9.2h0M4.8 28.5h0M27.8 16.1h0M2.1 0.3h0M2.1 31.3h0M24.1 21.2h0M16.3 10.3h0M9.7 11.5h0M14.6 19.0h0M14.5 10.5h0M7.9 20.5h0M32.8 5.7h0M27.0 20.0h0M8.1 4.2h0M29.3 4.6h0M4.2 2.8h0M28.5 11.7h0M0.0 8.7h0M35.0 8.7h0M18.2 14.7h0M5.2 26.3h0M24.4 8.5h0M11.2 7.9h0M0.8 18.9h0M35.8 18.9h0M9.6 20.5h0M29.3 9.9h0M10.0 11.3h0M16.7 1.5h0M13.6 9.7h0M3.9 25.9h0M24.4 15.1h0M2.6 22.6h0M13.3 27.3h0M22.6 7.4h0M26.3 18.3h0M12.4 24.7h0M11.5 4.5h0M1.5 19.0h0M9.6 4.9h0M1.7 24.0h0M9.8 26.6h0M31.3 25.4h0M7.8 29.2h0M21.8 26.2h0M31.8 9.9h0M13.1 27.8h0M10.2 3.1h0M1.3 17.2h0M10.7 29.3h0M0.4 12.3h0M35.4 12.3h0M24.9 18.8h0M29.2 20.1h0M30.5 -1.0h0M30.5 30.0h0M30.2 18.7h0M14.0 16.4h0M7.7 7.9h0M18.2 13.6h0M13.6 2.6h0M-0.7 10.3h0M34.3 10.3h0M16.8 10.8h0M19.4 24.2h0M32.8 18.7h0M32.8 11.4h0M16.6 10.5h0M33.8 4.0h0M7.9 23.8h0M8.3 2.0h0M12.9 14.4h0M15.9 7.2h0M12.2 8.9h0M6.1 15.7h0M8.0 6.0h0M32.5 27.5h0M13.3 16.4h0M3.4 0.6h0M3.4 31.6h0M18.0 29.3h0M2.7 14.1h0M27.8 0.3h0M27.8 31.3h0M20.5 8.1h0M26.4 25.5h0M30.9 24.2h0M3.1 20.4h0M19.6 9.3h0M7.0 14.6h0M14.8 12.6h0M33.4 7.1h0M30.0 4.5h0M24.1 13.7h0M13.8 14.8h0M4.7 6.8h0M14.4 6.0h0M29.6 21.4h0M22.0 21.5h0M5.7 0.3h0M5.7 31.3h0M2.8 27.4h0M17.1 -0.8h0M17.1 30.2h0M11.3 11.9h0M22.7 26.3h0M15.0 15.0h0M12.4 7.4h0M31.7 28.1h0M15.3 4.3h0M30.5 14.4h0M26.1 12.9h0M2.8 23.1h0M3.7 29.1h0M5.9 10.6h0M0.1 6.8h0M35.1 6.8h0M22.7 2.8h0M4.0 1.9h0M0.5 16.0h0M35.5 16.0h0M7.9 23.3h0M23.7 15.7h0M32.5 -0.9h0M32.5 30.1h0M10.8 24.0h0M24.3 5.8h0M27.5 1.1h0M23.6 28.1h0M22.8 21.6h0M23.1 12.7h0M3.9 11.7h0M10.9 25.2h0M30.8 -1.0h0M30.8 30.0h0M11.7 27.7h0M31.6 0.6h0M31.6 31.6h0M19.2 3.0h0M2.8 13.7h0M24.7 5.6h0M11.3 15.0h0M19.1 3.8h0M6.1 0.4h0M6.1 31.4h0M11.3 -0.4h0M11.3 30.6h0M6.5 23.4h0M22.7 26.7h0M28.1 1.9h0M11.5 25.8h0M22.6 26.5h0M1.1 26.0h0M13.9 24.4h0M20.4 11.0h0M18.4 0.8h0M18.4 31.8h0M32.7 27.1h0M22.7 20.1h0M25.8 13.6h0M8.5 20.1h0M-0.6 26.9h0M34.4 26.9h0M27.9 5.1h0M10.9 8.7h0M19.8 27.9h0M21.7 18.1h0M14.9 5.5h0M9.3 -0.5h0M9.3 30.5h0M31.8 20.2h0M24.0 7.0h0M0.8 0.8h0M0.8 31.8h0M35.8 0.8h0M35.8 31.8h0M0.6 6.3h0M35.6 6.3h0M-0.7 17.9h0M34.3 17.9h0M7.7 2.8h0M0.6 0.4h0M0.6 31.4h0M35.6 0.4h0M35.6 31.4h0M4.7 10.4h0M5.5 7.1h0M21.9 4.0h0M4.8 23.9h0M9.8 19.5h0M10.0 21.6h0M0.3 8.4h0M35.3 8.4h0M30.2 9.1h0M22.3 6.5h0M3.7 13.2h0M16.0 1.1h0M18.5 13.1h0M12.6 23.5h0M31.1 12.6h0M10.7 23.9h0M26.5 15.9h0M21.5 10.6h0M25.4 17.9h0M30.1 9.3h0M2.3 26.8h0M20.5 24.9h0M26.1 23.9h0M12.6 26.8h0M21.6 12.6h0M5.9 3.0h0M8.1 9.9h0M11.6 19.2h0M33.6 17.5h0M23.3 0.3h0M23.3 31.3h0M24.4 16.6h0M27.2 10.8h0M22.5 15.9h0M27.3 13.5h0M28.9 26.9h0M18.5 15.6h0M24.7 16.1h0M34.0 29.0h0M17.4 21.3h0M3.7 28.0h0M21.7 0.8h0M21.7 31.8h0M0.4 26.2h0M35.4 26.2h0M27.4 19.1h0M14.2 7.5h0M16.9 28.1h0M22.1 1.4h0M7.2 2.6h0M30.3 26.3h0M32.4 13.3h0M11.1 1.9h0M8.9 10.7h0M13.6 10.5h0M25.5 26.6h0M13.3 25.3h0M10.2 8.3h0M27.9 2.8h0M2.6 -0.2h0M2.6 30.8h0M16.5 12.7h0M27.0 27.6h0M13.0 25.0h0M4.5 27.5h0M14.5 12.0h0M0.5 2.1h0M35.5 2.1h0M13.7 3.6h0M23.1 -0.1h0M23.1 30.9h0M10.1 23.4h0M20.5 19.2h0M27.2 15.0h0M29.0 4.9h0M23.9 16.4h0M6.9 7.1h0M33.2 19.7h0M17.4 15.5h0M29.7 19.6h0M7.8 29.1h0M29.7 24.2h0M24.8 20.9h0M11.3 -0.7h0M11.3 30.3h0M24.9 5.1h0M28.3 13.2h0M2.1 27.4h0M7.9 13.1h0M3.3 16.2h0M18.8 25.5h0M33.4 27.5h0M23.4 12.4h0M32.9 7.1h0M11.1 17.5h0M12.9 17.6h0M4.1 7.6h0M0.7 13.3h0M35.7 13.3h0M8.4 25.3h0M8.9 5.9h0M25.1 6.0h0M29.4 16.4h0M5.0 21.7h0M-0.1 9.5h0M34.9 9.5h0M19.4 16.9h0M33.3 -0.4h0M33.3 30.6h0M2.1 11.8h0M28.3 13.0h0M17.8 17.6h0M0.4 1.2h0M35.4 1.2h0M31.4 12.3h0M15.5 17.3h0M26.3 27.7h0M2.9 19.6h0M0.1 16.9h0M35.1 16.9h0M28.6 14.8h0M12.9 26.5h0M24.3 28.4h0M19.0 9.6h0M24.3 15.1h0M0.0 4.0h0M35.0 4.0h0M33.6 20.0h0M1.2 23.3h0M26.5 1.5h0M-0.4 5.4h0M34.6 5.4h0M17.7 22.1h0M17.1 10.8h0M16.7 19.6h0M33.3 27.3h0M-0.4 25.0h0M34.6 25.0h0M16.7 11.0h0M31.9 28.6h0M10.5 24.4h0M12.2 1.7h0M16.5 27.9h0M18.7 25.3h0M29.5 24.7h0M10.4 28.2h0M3.0 15.7h0M2.9 11.9h0M31.0 25.2h0M-0.3 17.4h0M34.7 17.4h0M18.2 5.1h0M17.0 28.1h0M11.9 26.5h0M10.6 24.9h0M6.7 29.9h0M4.1 2.5h0M20.1 24.1h0M24.9 12.6h0M25.0 6.3h0M11.5 8.9h0M7.9 1.3h0M7.5 16.8h0M21.3 10.4h0M21.4 10.3h0M28.3 0.4h0M28.3 31.4h0M27.0 27.9h0M20.3 19.8h0M-0.6 4.5h0M34.4 4.5h0M3.3 15.7h0M25.3 16.6h0M17.0 13.4h0M16.1 27.2h0M2.4 20.3h0M3.2 26.1h0M9.2 24.8h0M11.2 19.7h0M17.8 29.6h0M16.5 15.9h0M17.6 7.8h0M32.9 10.6h0M5.3 6.5h0M25.2 28.0h0M20.7 29.6h0M7.8 27.5h0M26.9 6.6h0M3.2 13.1h0M14.6 15.2h0M25.2 7.1h0M8.9 10.3h0M5.6 13.7h0M21.0 8.4h0M4.8 22.6h0M3.0 26.6h0M21.5 7.0h0M0.3 26.2h0M35.3 26.2h0M0.8 23.4h0M35.8 23.4h0M18.7 21.4h0M7.0 22.7h0M8.9 18.3h0M33.8 18.5h0M5.6 7.5h0M14.3 25.7h0M27.9 12.1h0M20.5 11.0h0M17.2 9.8h0M33.1 11.6h0M11.1 19.3h0M7.7 3.5h0M15.6 25.6h0M12.8 8.8h0M10.2 18.7h0M9.4 16.5h0M17.9 1.2h0M11.3 25.5h0M7.4 23.3h0M2.6 15.1h0M14.8 20.2h0M0.2 3.8h0M35.2 3.8h0M14.1 28.5h0M17.6 26.7h0M18.6 -0.4h0M18.6 30.6h0M2.7 26.9h0M9.0 6.8h0M18.4 13.0h0M-0.2 29.0h0M34.8 29.0h0M25.3 7.6h0M8.2 13.7h0M11.2 6.8h0M7.2 8.2h0M10.4 3.4h0M10.8 29.5h0M29.3 19.1h0M33.5 29.1h0M3.2 1.5h0M11.7 16.5h0M-0.1 0.8h0M-0.1 31.8h0M34.9 0.8h0M34.9 31.8h0M24.5 24.6h0M9.2 23.8h0M30.4 2.9h0M23.0 14.7h0M27.0 4.6h0M23.2 0.4h0M23.2 31.4h0M1.2 13.4h0M12.1 13.4h0M7.4 -0.1h0M7.4 30.9h0M14.5 15.4h0M12.5 27.3h0M5.8 28.9h0M6.7 27.1h0M15.0 18.6h0M8.3 25.4h0M7.7 24.4h0M23.1 27.8h0M-0.4 24.9h0M34.6 24.9h0M6.0 25.3h0M3.6 25.1h0M32.3 4.3h0M1.4 25.1h0M12.3 21.0h0M28.7 29.2h0M18.1 26.1h0M31.9 23.9h0M12.9 28.4h0M14.7 27.9h0M13.4 15.0h0M1.2 3.3h0M32.5 14.1h0M25.5 14.7h0M25.4 16.2h0M5.0 9.8h0M22.2 4.9h0M33.0 1.9h0M19.7 27.0h0M25.6 4.5h0M3.7 21.9h0M14.3 3.0h0M4.4 20.6h0M0.9 9.0h0M35.9 9.0h0M32.9 7.8h0M29.8 0.8h0M29.8 31.8h0M7.0 1.5h0M25.6 17.6h0M26.9 25.3h0M25.3 3.3h0M16.0 1.0h0M27.9 11.7h0M16.2 27.7h0M-0.3 18.7h0M34.7 18.7h0M13.5 27.1h0M29.6 6.7h0M15.9 29.4h0M-0.6 28.3h0M34.4 28.3h0M17.0 5.1h0M31.2 6.4h0M21.1 12.1h0M29.7 11.4h0M13.2 26.3h0M25.4 -0.1h0M25.4 30.9h0M4.2 4.1h0M23.7 15.4h0M31.3 14.4h0M1.7 14.8h0M8.7 24.8h0M28.3 26.8h0M3.8 17.5h0M6.9 -0.7h0M6.9 30.3h0M5.2 20.2h0M25.1 6.2h0M20.4 3.8h0M1.9 8.8h0M2.7 13.6h0M23.8 28.7h0M9.1 14.8h0M24.1 9.8h0M10.8 11.5h0M29.2 11.2h0M26.9 4.5h0M10.8 9.0h0M8.0 4.9h0M13.8 25.2h0M23.1 -0.2h0M23.1 30.8h0M11.1 9.4h0M8.5 15.3h0M4.3 24.9h0M14.8 1.3h0M17.7 13.3h0M6.8 9.4h0M23.4 -0.0h0M23.4 31.0h0M21.1 8.0h0M1.1 10.1h0M8.4 13.1h0M15.7 8.7h0M5.7 28.8h0M33.2 22.5h0M32.5 17.6h0M25.9 13.7h0M23.2 26.3h0M24.7 24.7h0M21.4 10.7h0M28.1 27.8h0M8.2 5.1h0M0.3 7.6h0M35.3 7.6h0M6.3 6.2h0M5.8 9.8h0M5.9 29.8h0M2.5 0.4h0M2.5 31.4h0M32.3 11.9h0M26.2 9.9h0M0.5 1.2h0M35.5 1.2h0M32.3 1.5h0M15.6 8.1h0M22.5 11.7h0M28.3 6.6h0M18.9 -0.6h0M18.9 30.4h0M18.6 29.6h0M1.7 27.3h0M13.7 -0.1h0M13.7 30.9h0M24.5 7.9h0M26.9 5.2h0M18.5 23.0h0M5.8 1.8h0M29.4 5.8h0M26.6 14.6h0M6.8 26.7h0M13.0 8.1h0M31.4 -0.3h0M31.4 30.7h0M11.6 -0.8h0M11.6 30.2h0M3.8 24.6h0M20.5 7.6h0M13.9 9.9h0M23.6 13.1h0M15.0 20.7h0M12.2 2.6h0M17.3 26.8h0M8.4 8.4h0M32.0 5.0h0M33.6 9.4h0M7.3 22.4h0M31.2 14.5h0M9.5 4.0h0M0.3 21.8h0M35.3 21.8h0M25.9 9.8h0M16.6 23.7h0M24.4 21.1h0M32.1 7.5h0M-0.9 19.4h0M34.1 19.4h0M11.2 21.1h0M10.7 12.7h0M28.8 25.0h0M20.9 25.0h0M30.3 12.1h0M2.6 29.2h0M2.1 13.8h0M3.6 16.7h0M27.3 1.1h0M17.4 12.5h0M23.4 27.9h0M23.6 1.9h0M12.4 14.4h0M5.7 26.6h0M12.6 11.1h0M7.5 16.6h0M28.2 3.4h0M17.5 9.2h0M2.2 12.3h0M22.3 19.0h0M-0.2 21.8h0M34.8 21.8h0M32.5 22.5h0M24.0 27.9h0M30.3 23.4h0M11.4 8.7h0M30.3 0.8h0M30.3 31.8h0M13.6 26.0h0M10.3 15.4h0M12.2 19.8h0M29.0 1.8h0M14.3 26.5h0M14.4 -0.7h0M14.4 30.3h0M9.5 15.6h0M6.1 26.9h0M16.8 25.6h0M24.1 8.2h0M29.9 2.1h0M32.4 24.3h0M8.6 17.8h0M12.2 14.5h0M33.2 14.1h0M20.3 1.4h0M2.0 14.8h0M14.7 29.0h0M20.0 27.5h0M20.1 28.9h0M11.2 0.8h0M11.2 31.8h0M26.3 20.3h0M6.9 6.7h0M16.5 27.9h0M23.4 13.4h0M20.0 10.8h0M13.8 5.7h0M24.3 0.7h0M24.3 31.7h0M18.4 2.7h0M5.0 23.5h0M30.2 15.8h0M33.7 22.0h0M18.9 18.8h0M0.3 3.0h0M35.3 3.0h0M26.2 11.6h0M33.8 8.0h0M9.9 6.6h0M32.6 16.9h0M9.0 2.0h0M20.4 0.5h0M20.4 31.5h0M30.2 4.9h0M26.7 26.7h0M10.1 18.1h0M24.1 14.1h0M14.4 27.4h0M9.0 17.5h0M0.3 17.6h0M35.3 17.6h0M34.0 12.3h0M25.7 10.1h0M13.2 12.2h0M30.8 10.1h0M1.6 16.9h0M20.4 18.8h0M16.4 9.2h0M25.1 7.7h0M9.1 5.5h0M2.0 6.4h0M23.6 12.3h0M16.0 7.2h0M9.0 21.3h0M32.9 4.3h0M24.1 29.8h0M19.1 27.7h0M6.3 24.3h0M3.8 6.7h0M3.4 0.1h0M3.4 31.1h0M26.5 10.8h0M12.7 22.7h0M8.8 26.6h0M6.5 -0.8h0M6.5 30.2h0M30.5 15.5h0M32.8 26.2h0M33.3 9.2h0M14.5 9.4h0M15.6 17.2h0M30.1 10.2h0M19.4 8.6h0M15.6 1.6h0M19.0 19.1h0M20.7 26.9h0M18.2 8.6h0M33.2 12.5h0M6.8 15.8h0M24.5 8.3h0M8.2 2.6h0M19.5 11.6h0M27.9 5.0h0M21.4 4.7h0M6.9 3.5h0M22.6 22.7h0M15.2 25.6h0M28.1 26.8h0M22.5 13.9h0M14.6 24.7h0M10.3 7.6h0M-0.1 29.0h0M34.9 29.0h0M22.9 25.8h0M1.9 24.0h0M20.8 9.2h0M9.7 21.0h0M32.0 23.1h0M1.5 18.1h0M11.8 7.0h0M1.9 17.9h0M9.4 10.4h0M17.5 27.8h0M9.7 17.8h0M22.6 23.4h0M29.7 7.0h0M30.2 2.3h0M16.1 22.8h0M31.5 10.8h0M23.7 21.7h0M1.7 23.3h0M29.3 4.3h0M11.2 13.4h0M32.8 29.7h0M6.4 12.3h0M4.3 1.6h0M7.5 29.0h0M31.7 6.2h0M21.8 19.8h0M15.7 26.2h0M3.2 8.4h0M4.0 28.2h0M27.9 14.0h0M3.1 26.4h0M27.3 26.9h0M33.0 20.6h0M17.2 24.9h0M4.8 26.0h0M10.7 13.6h0M30.6 0.2h0M30.6 31.2h0M11.8 25.2h0M14.1 28.0h0M25.1 7.1h0M17.2 11.0h0M23.2 22.1h0M17.6 2.3h0M30.1 5.5h0M22.2 25.5h0M16.0 1.6h0M19.2 3.1h0M6.0 6.4h0M6.0 17.9h0M26.3 13.7h0M33.3 2.3h0M11.5 10.0h0M18.8 20.8h0M9.7 13.2h0M13.4 10.6h0M2.0 23.2h0M1.0 13.1h0M36.0 13.1h0M7.9 13.0h0M24.6 24.7h0M30.4 19.4h0M9.9 0.3h0M9.9 31.3h0M5.2 27.4h0M13.3 11.7h0M12.4 10.4h0M6.7 8.7h0M16.5 14.1h0M2.1 3.5h0M0.9 14.5h0M35.9 14.5h0M22.6 27.3h0M14.0 18.8h0M27.5 16.6h0M18.9 4.6h0M23.9 22.5h0M10.6 20.5h0M7.3 3.4h0M11.6 17.0h0M13.6 7.8h0M33.7 21.7h0M9.8 2.2h0M25.0 28.6h0M25.2 21.2h0M33.9 21.5h0M4.3 14.6h0M13.8 17.9h0M5.5 19.4h0M24.7 8.4h0M21.8 10.7h0M23.6 14.5h0M33.6 14.4h0M1.5 2.1h0M24.1 2.9h0M26.7 15.3h0M12.1 12.7h0M29.5 16.7h0M14.6 14.6h0M20.3 14.1h0M24.8 12.7h0M9.9 3.7h0M15.9 5.6h0M6.8 5.4h0M12.5 28.2h0M17.9 8.6h0M16.6 14.2h0M1.8 25.1h0M17.8 -0.3h0M17.8 30.7h0M22.2 7.6h0M-0.6 3.4h0M34.4 3.4h0M5.8 4.5h0M5.4 4.1h0M31.5 4.4h0M17.1 4.5h0M10.9 2.8h0M12.9 8.7h0M25.4 -0.3h0M25.4 30.7h0M6.7 14.4h0M21.6 -0.4h0M21.6 30.6h0M2.3 20.3h0M14.1 15.6h0M24.5 21.5h0M13.5 25.2h0M20.3 7.2h0M6.8 6.2h0M28.4 26.7h0M5.7 18.3h0M2.6 1.9h0M23.8 17.2h0M15.0 13.5h0M15.9 11.7h0M10.0 29.0h0M2.4 18.3h0M6.2 11.3h0M1.5 4.4h0M21.4 1.0h0M21.4 32.0h0M14.6 19.0h0M20.0 3.2h0M14.8 10.1h0M28.1 26.8h0M20.7 24.3h0M14.5 -0.7h0M14.5 30.3h0M25.1 27.6h0M5.7 21.5h0M23.4 21.5h0M31.3 7.1h0M4.2 17.4h0M7.8 -1.0h0M7.8 30.0h0M31.9 14.9h0M28.3 19.0h0M32.0 17.1h0M7.2 -0.2h0M7.2 30.8h0M9.3 3.5h0M27.3 20.2h0M30.3 6.9h0M32.3 25.7h0M22.5 0.5h0M22.5 31.5h0M26.8 11.5h0M4.8 10.1h0M33.2 9.8h0M16.2 28.0h0M24.9 11.5h0M11.7 17.0h0M18.8 22.5h0M22.6 5.7h0M30.6 24.8h0M17.5 4.5h0M15.9 26.7h0M9.5 9.9h0M24.2 23.0h0M29.1 12.3h0M25.6 7.1h0M1.7 21.4h0M8.3 27.2h0M11.4 10.6h0M29.6 0.9h0M29.6 31.9h0M34.0 10.2h0M1.4 10.4h0M4.4 7.8h0M17.6 17.4h0M6.6 -0.1h0M6.6 30.9h0M5.1 3.3h0M9.4 0.0h0M9.4 31.0h0M30.7 4.8h0M0.6 19.2h0M35.6 19.2h0M11.9 3.7h0M16.4 5.7h0M2.7 15.7h0M8.4 10.7h0M17.3 -0.2h0M17.3 30.8h0M21.3 17.6h0M10.6 14.3h0M9.3 26.2h0M32.5 25.9h0M14.4 22.3h0M10.3 24.6h0M33.3 5.4h0M3.0 -0.2h0M3.0 30.8h0M20.0 24.3h0M29.7 24.9h0M3.6 7.8h0M12.9 27.0h0M25.6 6.8h0M4.9 24.7h0M30.6 0.7h0M30.6 31.7h0M11.5 3.5h0M15.1 0.5h0M15.1 31.5h0M13.5 5.3h0M2.0 -0.9h0M2.0 30.1h0M5.3 28.7h0M25.4 10.8h0M13.2 11.6h0M9.6 17.8h0M4.7 18.3h0M17.2 5.8h0M33.5 8.9h0M22.0 22.3h0M25.8 18.0h0M16.1 13.2h0M25.8 1.9h0M19.7 26.0h0M15.8 15.0h0M24.2 24.3h0M11.4 18.6h0M28.5 19.1h0M7.3 -0.1h0M7.3 30.9h0M12.0 20.1h0M1.9 21.1h0M19.4 28.1h0M8.1 0.7h0M8.1 31.7h0M11.5 13.3h0M24.0 9.6h0M27.0 26.4h0M1.1 -0.4h0M1.1 30.6h0M2.3 8.1h0M2.9 24.8h0M33.3 8.3h0M19.9 29.9h0M27.0 8.0h0M16.2 28.4h0M30.5 15.0h0M20.3 2.2h0M13.8 25.0h0M1.4 6.1h0M19.8 0.6h0M19.8 31.6h0M6.3 23.3h0M6.5 15.4h0M32.8 16.3h0M24.1 2.0h0M18.5 16.5h0M16.9 14.9h0M2.3 19.1h0M12.2 21.8h0M8.9 28.3h0M16.2 25.8h0M18.3 8.8h0M15.2 8.7h0M18.6 11.2h0M9.4 -0.1h0M9.4 30.9h0M33.9 15.8h0M19.8 25.5h0M22.1 12.9h0M17.6 24.8h0M2.3 12.7h0M2.9 17.5h0M0.9 13.6h0M35.9 13.6h0M4.6 10.6h0M-0.9 7.3h0M34.1 7.3h0M13.0 24.9h0M7.2 7.0h0M14.7 19.0h0M7.2 7.9h0M2.2 8.3h0M13.7 18.4h0M10.3 16.3h0M27.5 8.7h0M25.1 23.5h0M32.4 22.9h0M22.3 19.8h0M13.3 27.7h0M6.6 11.2h0M4.4 15.8h0M31.6 19.9h0M0.6 27.3h0M35.6 27.3h0M1.9 6.0h0M16.8 0.7h0M16.8 31.7h0M27.7 21.3h0M33.7 20.0h0M15.0 7.1h0M11.1 19.5h0M29.1 5.8h0M18.4 20.1h0M8.1 22.0h0M9.8 10.8h0M7.2 29.5h0M1.4 9.5h0M21.4 15.7h0M7.8 15.7h0M16.5 16.9h0M15.5 5.1h0M24.4 10.2h0M28.2 10.4h0M30.3 7.7h0M22.6 -0.9h0M22.6 30.1h0M10.5 25.0h0M19.3 0.1h0M19.3 31.1h0M20.7 11.7h0M2.4 24.9h0M24.4 29.1h0M4.6 11.2h0M20.1 10.7h0M4.4 11.5h0M15.1 15.3h0M15.5 13.0h0M17.5 21.2h0M8.7 14.9h0M29.5 24.1h0M27.5 28.7h0M17.1 26.0h0M27.7 11.0h0M26.8 15.0h0M19.8 5.0h0M25.8 10.3h0M15.0 16.3h0M26.6 -0.7h0M26.6 30.3h0M30.4 20.7h0M10.2 16.8h0M21.9 10.9h0M31.8 9.6h0M18.4 -0.8h0M18.4 30.2h0M7.4 13.1h0M32.2 29.0h0M15.6 21.7h0M20.0 2.7h0M32.0 27.1h0M32.1 6.6h0M19.1 25.4h0M30.1 26.6h0M1.8 21.2h0M12.1 4.4h0M17.7 2.5h0M10.6 13.4h0M14.0 10.0h0M17.0 15.7h0M5.3 7.2h0M11.6 0.6h0M11.6 31.6h0M18.3 28.0h0M8.6 27.4h0M12.9 14.0h0M27.3 13.7h0M17.4 28.5h0M2.4 13.7h0M10.6 15.4h0M19.3 21.4h0M10.3 28.8h0M33.3 24.1h0M21.2 24.7h0M1.9 19.2h0M15.7 10.1h0M23.9 11.6h0M31.3 3.3h0M9.2 14.7h0M4.8 3.6h0M23.7 8.1h0M4.7 21.8h0M30.0 19.0h0M21.8 8.8h0M31.9 24.3h0M28.2 16.7h0M8.0 14.6h0M13.5 19.3h0M4.9 6.2h0M19.3 4.3h0M5.7 16.8h0M15.6 25.5h0M-0.6 17.2h0M34.4 17.2h0M22.5 13.2h0M21.2 11.6h0M30.5 15.8h0M8.5 13.0h0M29.6 1.0h0M29.6 32.0h0M-0.2 23.2h0M34.8 23.2h0M17.6 8.7h0M8.8 10.7h0M25.4 19.5h0M17.5 11.8h0M14.7 4.4h0M13.2 21.4h0M0.6 29.3h0M35.6 29.3h0M0.6 13.9h0M35.6 13.9h0M10.3 16.6h0M9.2 18.7h0M1.5 27.8h0M32.2 27.0h0M24.4 4.2h0M21.9 17.9h0M27.9 14.3h0M27.5 9.6h0M1.1 4.8h0M-0.3 10.1h0M34.7 10.1h0M4.7 5.1h0M33.4 25.1h0M15.3 1.6h0M28.0 0.1h0M28.0 31.1h0M26.2 13.2h0M12.6 0.5h0M12.6 31.5h0M23.1 27.1h0M15.7 27.2h0M6.5 10.1h0M15.0 5.8h0M-0.4 16.0h0M34.6 16.0h0M0.0 19.7h0M35.0 19.7h0M5.2 10.9h0M28.6 10.5h0M9.3 26.7h0M9.2 29.4h0M1.2 2.1h0M-0.2 19.1h0M34.8 19.1h0M19.4 24.6h0M10.4 26.9h0M9.8 26.8h0M17.4 27.9h0M33.7 24.8h0M5.0 14.3h0M31.9 13.7h0M7.3 14.5h0M4.6 2.4h0M20.6 0.3h0M20.6 31.3h0M14.2 9.8h0M27.9 11.2h0M15.4 19.7h0M5.9 14.8h0M6.8 12.4h0M28.3 29.2h0M33.3 24.8h0M1.5 13.2h0M12.8 11.7h0M16.2 21.0h0M0.2 18.3h0M35.2 18.3h0M2.0 23.2h0M32.7 20.7h0M27.1 -0.6h0M27.1 30.4h0M32.0 8.9h0M21.4 14.9h0M18.2 13.2h0M0.6 10.3h0M35.6 10.3h0M1.0 27.5h0M36.0 27.5h0M27.6 1.8h0M22.4 27.3h0M22.1 20.4h0M16.9 12.0h0M11.7 2.7h0M10.7 6.5h0M15.0 11.6h0M10.8 -0.2h0M10.8 30.8h0M8.0 12.1h0M28.8 11.3h0M1.7 17.4h0M12.0 24.7h0M11.6 10.3h0M17.9 19.4h0M4.5 2.0h0M26.7 7.8h0M32.7 25.1h0M18.6 2.4h0M9.0 0.6h0M9.0 31.6h0M20.4 17.4h0M25.4 11.1h0M31.7 27.1h0M24.1 15.6h0M32.5 15.7h0M0.1 27.6h0M35.1 27.6h0M3.1 11.3h0M12.9 26.6h0M21.0 17.0h0M-0.4 27.5h0M34.6 27.5h0M22.5 13.4h0M8.0 27.3h0M24.7 28.2h0M14.3 29.6h0M2.6 8.9h0M33.0 24.0h0M6.2 10.9h0M7.7 19.6h0M24.2 18.7h0M14.0 2.0h0M11.6 28.7h0M25.8 18.5h0M20.5 12.3h0M0.7 6.4h0M35.7 6.4h0M10.9 0.4h0M10.9 31.4h0M12.4 9.9h0M14.3 12.8h0M27.3 16.2h0M31.4 17.5h0M11.3 13.9h0M23.9 4.7h0M24.8 29.9h0M25.5 21.3h0M29.2 0.4h0M29.2 31.4h0M19.6 11.9h0M6.4 12.1h0M1.6 21.5h0M3.4 11.7h0M3.3 -0.2h0M3.3 30.8h0M8.2 16.9h0M0.7 9.0h0M35.7 9.0h0M14.4 0.6h0M14.4 31.6h0M30.9 20.0h0M1.2 13.9h0M4.3 13.1h0M27.0 6.4h0M29.1 15.1h0M21.9 -0.7h0M21.9 30.3h0M6.1 22.6h0M32.1 15.5h0M8.1 24.1h0M16.0 1.1h0M31.6 4.4h0M26.0 5.4h0M15.9 16.1h0M9.5 17.6h0M-0.4 9.9h0M34.6 9.9h0M21.4 29.1h0M5.1 27.3h0M32.2 19.5h0M1.6 8.3h0M8.0 15.9h0M7.1 29.0h0M33.9 2.5h0M28.7 13.2h0M18.1 14.0h0M12.6 15.7h0M20.5 9.8h0M8.0 11.5h0M6.5 19.5h0M19.3 22.8h0M22.4 19.3h0M8.0 12.9h0M3.6 24.7h0M32.1 20.6h0M17.7 9.8h0M19.0 23.9h0M17.4 18.2h0M2.8 6.8h0M19.3 27.1h0M9.9 15.7h0M11.5 3.5h0M10.2 21.2h0M13.0 13.9h0M18.4 18.6h0M21.6 21.4h0M31.1 20.0h0M19.8 28.1h0M15.5 16.5h0M2.9 19.6h0M20.5 28.8h0M2.5 7.5h0M26.6 24.4h0M23.5 7.3h0M32.3 17.2h0M29.5 25.6h0M23.2 15.8h0M23.1 3.8h0M26.3 28.9h0M21.4 20.0h0M26.0 20.6h0M4.9 25.9h0M27.7 7.4h0M19.4 3.3h0M8.6 11.5h0M17.3 24.2h0M33.0 23.5h0M11.1 10.0h0M3.3 17.0h0M13.3 17.5h0M14.7 20.5h0M26.6 13.0h0M17.3 20.9h0M6.9 19.5h0M3.8 9.5h0M15.5 15.3h0M13.6 27.0h0M9.5 25.0h0M25.4 6.4h0M9.9 22.2h0M19.9 18.8h0M30.1 4.8h0M6.3 -0.3h0M6.3 30.7h0M10.8 19.0h0M9.9 3.9h0M28.5 23.4h0M10.2 2.9h0M26.9 8.6h0M26.7 7.6h0M-0.4 4.3h0M34.6 4.3h0M11.7 6.9h0M21.8 24.3h0M4.4 16.9h0M32.6 12.2h0M25.3 22.1h0M10.3 27.6h0M28.0 14.4h0M7.3 3.6h0M30.1 17.7h0M18.2 12.9h0M0.3 5.6h0M35.3 5.6h0M2.3 27.6h0M32.8 12.9h0M21.8 18.4h0M-0.9 -0.7h0M-0.9 30.3h0M34.1 -0.7h0M34.1 30.3h0M4.7 29.0h0M21.5 11.1h0M27.6 1.2h0M28.4 27.1h0M3.0 8.3h0M-0.6 29.2h0M34.4 29.2h0M21.6 29.7h0M2.9 12.8h0M29.8 1.5h0M11.6 4.5h0M20.6 -0.4h0M20.6 30.6h0M17.2 25.7h0M2.3 13.1h0M33.8 29.9h0M8.7 5.0h0M9.4 29.0h0M4.2 8.1h0M11.0 13.9h0M27.4 16.0h0M27.8 14.8h0M28.9 10.9h0M21.1 11.6h0M14.4 5.6h0M30.1 10.8h0M32.9 20.3h0M3.7 27.7h0M29.6 18.5h0M9.4 26.3h0M10.1 28.1h0M30.7 2.3h0M12.0 -0.5h0M12.0 30.5h0M28.0 7.2h0M14.7 27.9h0M0.5 4.6h0M35.5 4.6h0M24.8 12.0h0M22.6 12.9h0M17.5 20.5h0M25.7 3.5h0M20.5 -0.7h0M20.5 30.3h0M33.5 2.7h0M18.4 6.2h0M-0.3 8.2h0M34.7 8.2h0M31.7 12.5h0M32.2 2.6h0M18.5 18.5h0M14.5 9.1h0M28.8 2.9h0M29.3 27.4h0M28.8 19.9h0M14.3 14.6h0M8.6 8.2h0M18.3 1.7h0M0.0 20.7h0M35.0 20.7h0M33.7 21.9h0M2.9 3.5h0M2.2 18.4h0M26.3 14.2h0M1.8 29.2h0M27.3 5.4h0M30.2 28.6h0M10.5 17.3h0M0.2 10.8h0M35.2 10.8h0M7.0 29.1h0M25.6 7.8h0M26.0 3.8h0M2.2 12.8h0M28.9 28.7h0M10.5 8.8h0M15.4 12.1h0M24.3 14.7h0M8.5 8.6h0M19.5 2.3h0M6.1 5.9h0M6.9 1.3h0M18.4 19.5h0M10.3 29.1h0M10.6 15.4h0M22.5 19.8h0M32.7 1.4h0M2.9 2.1h0M3.6 11.5h0M19.1 23.8h0M30.0 18.4h0M18.7 13.9h0M7.5 6.7h0M12.5 3.7h0M21.9 7.6h0M33.8 10.3h0M26.5 8.1h0M8.0 13.6h0M18.8 -1.0h0M18.8 30.0h0M6.0 0.8h0M6.0 31.8h0M2.9 26.6h0M2.4 29.1h0M6.4 28.3h0M12.1 28.1h0M15.9 11.4h0M0.4 12.4h0M35.4 12.4h0M15.9 28.9h0M18.1 26.2h0M15.7 19.4h0M21.2 3.8h0M20.6 22.1h0M14.6 5.7h0M5.8 13.0h0M33.4 14.4h0M8.4 15.0h0M26.0 26.4h0M4.3 14.4h0M1.8 9.6h0M16.1 5.7h0M4.5 24.6h0M7.5 23.5h0M4.9 5.1h0M6.8 25.1h0M3.1 6.6h0M21.4 13.7h0M30.9 9.0h0M1.6 21.9h0M14.2 16.3h0M6.7 29.0h0M27.3 7.7h0M12.7 3.8h0M-0.9 4.1h0M34.1 4.1h0M14.2 6.5h0M16.9 18.8h0M9.0 18.1h0M23.4 7.2h0M-0.7 11.9h0M34.3 11.9h0M19.8 29.6h0M10.8 0.1h0M10.8 31.1h0M8.6 3.1h0M3.0 28.1h0M22.5 5.3h0M13.5 11.5h0M4.0 8.2h0M0.6 28.7h0M35.6 28.7h0M15.9 16.3h0M29.1 17.5h0M16.5 22.4h0M18.5 10.2h0M26.7 2.8h0M20.3 5.0h0M17.9 5.6h0M18.3 10.8h0M24.0 9.9h0M3.7 18.7h0M14.3 22.6h0M22.3 0.5h0M22.3 31.5h0M20.6 0.6h0M20.6 31.6h0M31.8 17.7h0M20.3 11.2h0M1.8 9.5h0M10.4 5.4h0M-0.8 8.0h0M34.2 8.0h0M17.8 7.3h0M29.5 3.2h0M-0.9 5.1h0M34.1 5.1h0M9.0 13.7h0M10.9 2.7h0M27.7 1.6h0M10.0 0.4h0M10.0 31.4h0M1.8 11.6h0M19.7 0.1h0M19.7 31.1h0M15.6 10.8h0M-0.8 -0.8h0M-0.8 30.2h0M34.2 -0.8h0M34.2 30.2h0M20.8 22.0h0M1.4 16.8h0M31.4 26.9h0M24.9 23.7h0M33.0 18.4h0M6.1 21.1h0M8.5 27.6h0M7.3 26.7h0M22.9 20.2h0M7.5 14.5h0M18.3 -0.3h0M18.3 30.7h0M24.4 23.1h0M-0.3 13.4h0M34.7 13.4h0M22.0 17.2h0M15.1 9.9h0M12.3 2.7h0M33.0 7.8h0M29.6 10.8h0M11.4 1.3h0M17.3 6.5h0M13.0 23.8h0M32.8 1.9h0M25.0 27.7h0M29.8 25.3h0M27.2 15.4h0M1.7 6.2h0M27.9 12.1h0M16.6 21.5h0M14.2 8.2h0M10.0 28.6h0M16.0 23.1h0M23.9 10.8h0M14.1 15.6h0M18.1 18.4h0M7.4 13.7h0M26.1 8.6h0M15.1 23.9h0M22.9 18.0h0M3.4 20.9h0M26.1 3.6h0M6.3 27.7h0M16.1 24.8h0M2.2 27.8h0M20.7 7.0h0M24.2 16.2h0M8.1 -0.3h0M8.1 30.7h0M1.1 10.1h0M29.6 27.4h0M6.3 29.6h0M3.4 11.0h0M27.8 4.5h0M12.1 12.5h0M17.7 11.7h0M8.9 14.1h0M15.8 20.1h0M4.0 1.2h0M27.0 19.6h0M24.8 19.9h0M2.1 4.3h0M32.2 16.0h0M12.4 23.3h0M7.8 30.0h0M24.4 7.3h0M26.4 15.8h0M9.7 4.3h0M5.7 16.1h0M15.0 28.4h0M11.8 17.9h0M29.9 23.8h0M22.9 27.3h0M22.8 25.7h0M23.6 6.5h0M21.3 23.1h0M24.2 13.3h0M0.9 18.1h0M35.9 18.1h0M28.5 27.4h0M21.1 15.2h0M7.7 6.0h0M28.5 0.8h0M28.5 31.8h0M15.3 8.9h0M14.1 -0.1h0M14.1 30.9h0M2.3 22.8h0M25.4 1.8h0M7.0 8.8h0M6.1 12.0h0M28.2 -0.6h0M28.2 30.4h0M19.8 13.9h0M20.8 9.6h0M19.4 9.4h0M17.4 13.5h0M19.4 17.6h0M21.3 12.7h0M12.4 12.2h0M18.4 1.5h0M22.4 20.1h0M7.5 28.0h0M23.4 26.1h0M15.0 29.6h0M8.9 16.5h0M18.7 9.4h0M16.7 29.5h0M0.7 22.9h0M35.7 22.9h0M5.5 16.7h0M24.5 16.0h0M29.0 24.7h0M0.9 7.4h0M35.9 7.4h0M25.7 21.9h0M17.9 1.5h0M6.3 9.9h0M18.1 22.5h0M8.8 20.0h0M22.5 11.5h0M29.9 7.1h0M27.1 7.3h0M26.7 13.9h0M11.4 25.8h0M13.2 24.3h0M17.4 2.0h0M10.6 6.9h0M4.7 0.5h0M4.7 31.5h0M20.4 15.5h0M24.1 11.2h0M1.0 26.6h0M26.2 26.0h0M15.1 8.0h0M32.6 2.5h0M19.2 3.6h0M10.6 29.0h0M30.9 15.7h0M2.8 15.9h0M31.7 26.6h0M2.2 8.1h0M17.1 1.7h0M13.2 17.5h0M9.2 23.6h0M33.3 8.2h0M18.0 22.2h0M5.8 16.2h0M20.0 25.9h0M20.3 27.4h0M25.1 4.2h0M26.5 15.3h0M19.5 15.0h0M20.3 12.9h0M14.8 26.8h0M7.1 11.4h0M12.9 0.1h0M12.9 31.1h0M3.2 14.4h0M-0.4 17.5h0M34.6 17.5h0M8.6 1.2h0M9.9 29.4h0M10.6 26.2h0M21.2 3.0h0M31.8 13.8h0M1.2 27.5h0M21.6 2.8h0M14.1 13.2h0M7.6 19.3h0M29.9 20.5h0M6.8 -0.7h0M6.8 30.3h0M21.6 4.9h0M29.7 29.1h0M29.0 -0.5h0M29.0 30.5h0M18.6 1.8h0M31.8 21.0h0M-0.2 -0.3h0M-0.2 30.7h0M34.8 -0.3h0M34.8 30.7h0M23.3 3.2h0M31.2 2.6h0M14.5 13.2h0M5.8 10.0h0M25.3 4.7h0M23.7 6.2h0M5.0 28.8h0M8.6 0.2h0M8.6 31.2h0M21.6 16.0h0M19.7 29.9h0M10.2 17.4h0M28.4 6.4h0M21.5 9.5h0M33.2 1.4h0M6.8 22.8h0M3.1 20.4h0M12.0 20.1h0M22.5 21.8h0M32.6 5.2h0M2.0 9.6h0M1.7 11.6h0M-0.8 6.8h0M34.2 6.8h0M13.2 1.1h0M25.1 13.0h0M18.5 29.0h0M9.6 19.4h0M8.6 28.9h0M-0.4 11.4h0M34.6 11.4h0M32.7 5.4h0M1.4 12.3h0M10.9 6.2h0M11.0 6.8h0M12.0 22.0h0M8.0 17.9h0M29.6 15.8h0M3.4 7.7h0M4.4 8.8h0M25.3 21.6h0M15.9 1.4h0M20.1 29.4h0M15.7 17.0h0M19.3 14.3h0M33.1 2.2h0M14.8 29.0h0M3.5 28.7h0M19.5 13.9h0M32.1 -1.0h0M32.1 30.0h0M5.0 7.1h0M2.1 10.6h0M19.0 10.8h0M22.8 0.8h0M22.8 31.8h0M1.1 13.8h0M10.9 12.9h0M22.3 17.6h0M1.6 2.4h0M0.8 23.3h0M35.8 23.3h0M32.9 26.0h0M15.7 23.9h0M20.2 2.3h0M2.7 23.5h0M18.1 20.0h0M13.4 8.5h0M7.6 15.6h0M16.3 16.9h0M16.6 22.9h0M3.0 27.8h0M6.8 12.8h0M9.3 0.3h0M9.3 31.3h0M2.3 0.0h0M2.3 31.0h0M17.5 4.2h0M22.5 17.7h0M30.8 7.4h0M10.0 21.8h0M27.7 25.8h0M32.1 26.4h0M0.4 15.6h0M35.4 15.6h0M23.4 28.3h0M16.3 9.1h0M2.7 6.2h0M3.7 14.1h0M4.9 26.0h0M5.1 18.9h0M10.6 9.1h0M6.6 13.1h0M27.5 16.6h0M17.1 6.8h0"/></g></pattern><pattern id="bdot_m" patternUnits="userSpaceOnUse" width="34" height="29"><g fill="none" stroke-width="1.3" stroke-linecap="square"><path stroke="#1B87D2" d="M10.8 24.4h0M2.6 18.8h0M27.0 15.6h0M11.4 6.7h0M23.4 18.8h0M5.6 9.6h0M27.7 1.5h0M30.3 17.8h0M6.9 27.0h0M11.5 18.6h0M16.0 4.0h0M11.8 4.3h0M24.3 27.3h0M2.0 5.8h0M15.0 16.6h0M14.3 19.5h0M-0.3 3.7h0M33.7 3.7h0M5.5 14.0h0M21.9 21.9h0M17.0 25.6h0M-0.4 25.9h0M33.6 25.9h0M12.7 -0.4h0M12.7 28.6h0M19.6 23.0h0M27.8 0.5h0M27.8 29.5h0M-0.1 23.3h0M33.9 23.3h0M22.3 20.2h0M12.4 16.1h0M12.5 8.6h0M14.1 11.6h0M27.6 12.7h0M4.8 22.1h0M24.1 26.5h0M22.6 0.1h0M22.6 29.1h0M4.2 27.3h0M22.6 12.4h0M30.1 2.4h0M28.0 6.2h0M0.9 24.3h0M34.9 24.3h0M28.9 0.2h0M28.9 29.2h0M23.1 27.6h0M29.8 16.4h0M28.5 23.4h0M17.8 26.3h0M6.0 5.7h0M13.0 25.2h0M3.5 9.0h0M16.8 -0.6h0M16.8 28.4h0M17.5 -0.6h0M17.5 28.4h0M3.3 10.7h0M4.6 5.0h0M29.7 9.9h0M15.3 14.1h0M0.9 -0.6h0M0.9 28.4h0M34.9 -0.6h0M34.9 28.4h0M20.9 27.1h0M4.5 17.9h0M26.6 21.4h0M13.9 23.5h0M30.8 19.9h0M25.6 5.5h0M20.3 19.4h0M6.9 20.6h0M4.1 21.9h0M13.2 0.4h0M13.2 29.4h0M10.9 22.4h0M13.1 14.9h0M15.6 1.8h0M16.1 13.0h0M25.1 7.0h0M0.8 23.9h0M34.8 23.9h0M24.4 0.6h0M24.4 29.6h0M6.5 23.4h0M11.0 8.9h0M20.3 25.8h0M22.7 0.8h0M22.7 29.8h0M13.7 -0.5h0M13.7 28.5h0M21.7 17.3h0M23.0 21.2h0M1.3 24.9h0M6.3 13.3h0M8.0 0.7h0M8.0 29.7h0M5.4 13.9h0M24.5 11.5h0M14.3 24.5h0M20.8 19.3h0M20.4 7.8h0M32.2 8.7h0M7.1 26.3h0M15.3 21.7h0M17.0 6.5h0M13.0 10.2h0M14.8 11.8h0M0.3 5.7h0M34.3 5.7h0M23.7 14.3h0M8.3 22.3h0M7.9 25.8h0M-0.6 16.3h0M33.4 16.3h0M14.3 25.9h0M21.8 1.8h0M18.6 24.6h0M25.6 22.9h0M9.2 26.0h0M25.8 10.5h0M27.1 12.2h0M7.4 17.7h0M27.5 22.2h0M27.2 -0.9h0M27.2 28.1h0M26.4 27.5h0M14.6 8.8h0M11.5 10.4h0M12.9 13.8h0M2.8 16.2h0M20.1 10.0h0M8.8 -0.4h0M8.8 28.6h0M26.9 23.3h0M24.0 2.2h0M10.0 21.0h0M26.6 5.0h0M20.3 21.7h0M28.3 3.3h0M26.2 16.6h0M32.6 1.4h0M24.8 27.5h0M27.9 6.8h0M14.6 27.9h0M19.5 13.3h0M13.4 14.2h0M2.7 10.7h0M30.3 25.0h0M6.2 19.7h0M30.7 5.7h0M11.2 16.2h0M9.4 19.5h0M26.3 11.0h0M28.9 -0.2h0M28.9 28.8h0M6.9 19.7h0M3.9 20.4h0M1.7 10.7h0M25.5 18.9h0M13.6 4.7h0M27.5 16.5h0M7.2 24.8h0M24.8 19.6h0M14.6 21.4h0M4.3 6.6h0M22.8 12.6h0M10.0 0.3h0M10.0 29.3h0M6.8 22.2h0M1.6 17.9h0M13.3 11.5h0M12.2 27.3h0M32.8 14.0h0M27.5 14.9h0M28.0 27.9h0M11.0 17.0h0M9.9 20.9h0M8.4 24.5h0M31.9 4.6h0M22.7 1.3h0M0.8 2.5h0M34.8 2.5h0M16.4 24.6h0M2.9 26.1h0M14.9 5.9h0M22.4 23.2h0M15.8 13.3h0M29.0 26.2h0M4.6 18.0h0M32.5 25.9h0M4.5 28.0h0M22.5 26.4h0M13.0 -0.1h0M13.0 28.9h0M25.8 6.5h0M18.1 1.1h0M24.4 16.9h0M9.7 16.4h0M30.6 6.8h0M15.1 8.9h0M28.1 5.5h0M-0.8 19.0h0M33.2 19.0h0M-0.1 7.7h0M33.9 7.7h0M12.2 7.1h0M25.4 2.4h0M3.1 24.5h0M27.4 25.3h0M21.4 7.2h0M8.7 23.6h0M6.3 6.3h0M27.5 24.8h0M8.2 6.1h0M-1.0 6.7h0M33.0 6.7h0M22.7 27.2h0M2.8 4.8h0M18.8 5.9h0M-0.3 14.4h0M33.7 14.4h0M31.4 20.2h0M9.2 6.8h0M17.9 13.2h0M31.9 7.6h0M10.5 9.4h0M25.7 20.2h0M20.1 5.3h0M21.2 16.2h0M27.4 10.1h0M10.6 24.2h0M0.3 26.7h0M34.3 26.7h0M26.2 22.6h0M15.2 8.1h0M10.6 17.5h0M5.0 27.0h0M29.8 10.8h0M27.6 24.9h0M29.9 27.7h0M0.1 24.1h0M34.1 24.1h0M28.8 27.3h0M23.5 5.4h0M21.3 17.1h0M8.0 4.9h0M27.6 19.4h0M5.4 12.0h0M11.4 -0.3h0M11.4 28.7h0M22.3 7.8h0M9.4 26.0h0M19.2 16.3h0M18.3 5.6h0M0.8 15.1h0M34.8 15.1h0M7.5 25.8h0M16.3 10.4h0M31.4 19.0h0M27.3 22.1h0M23.7 23.4h0M12.4 15.4h0M9.7 24.4h0M13.9 11.3h0M23.0 1.4h0M0.8 25.4h0M34.8 25.4h0M5.7 17.4h0M13.5 13.4h0M8.1 18.5h0M1.4 6.9h0M27.5 20.8h0M19.1 7.5h0M0.2 3.7h0M34.2 3.7h0M32.2 -0.9h0M32.2 28.1h0M12.3 19.4h0M14.8 24.1h0M14.5 25.1h0M1.1 22.7h0M13.1 -0.7h0M13.1 28.3h0M7.1 3.8h0M20.4 13.9h0M6.1 4.4h0M13.5 22.6h0M19.2 19.7h0M6.4 17.5h0M0.4 0.1h0M0.4 29.1h0M34.4 0.1h0M34.4 29.1h0M1.6 3.3h0M29.7 27.1h0M18.4 9.0h0M13.1 22.4h0M20.7 13.6h0M22.0 15.3h0M32.2 5.2h0M25.7 1.8h0M31.2 23.9h0M31.5 5.1h0M24.1 9.0h0M15.3 20.0h0M13.6 -0.9h0M13.6 28.1h0M3.0 10.8h0M4.9 26.7h0M20.5 18.6h0M16.1 9.3h0M0.3 11.8h0M34.3 11.8h0M12.6 12.7h0M22.5 6.9h0M7.0 3.6h0M26.7 -0.3h0M26.7 28.7h0M6.1 7.3h0M6.2 11.4h0M18.3 26.3h0M6.4 8.2h0M30.7 3.6h0M31.2 27.7h0M27.0 5.6h0M18.5 22.7h0M17.1 7.4h0M21.4 21.6h0M22.6 5.4h0M2.4 9.0h0M24.2 14.4h0M-0.4 7.9h0M33.6 7.9h0M28.2 1.4h0M7.6 1.7h0M24.0 27.5h0M12.0 8.4h0M3.8 6.4h0M11.8 4.0h0M19.7 11.9h0M2.3 20.5h0M14.6 11.5h0M29.6 8.9h0M27.5 4.1h0M32.2 2.8h0M29.6 -0.3h0M29.6 28.7h0M11.8 16.6h0M21.9 24.5h0M9.6 20.3h0M14.5 0.5h0M14.5 29.5h0M23.1 26.4h0M15.3 11.8h0M18.5 -0.8h0M18.5 28.2h0M21.6 23.5h0M26.3 0.6h0M26.3 29.6h0M22.1 -0.6h0M22.1 28.4h0M21.8 6.2h0M19.4 -0.7h0M19.4 28.3h0M13.9 8.0h0M32.4 21.1h0M12.1 11.8h0M2.0 3.0h0M28.3 22.3h0M23.2 -0.6h0M23.2 28.4h0M11.6 27.6h0M24.3 0.5h0M24.3 29.5h0M16.4 21.9h0M18.0 8.5h0M32.8 13.1h0M12.0 16.0h0M10.5 9.9h0M23.0 0.6h0M23.0 29.6h0M4.8 5.2h0M10.6 13.3h0M3.6 25.9h0M2.9 2.5h0M24.6 10.3h0M8.5 16.7h0M0.4 6.7h0M34.4 6.7h0M16.6 -0.8h0M16.6 28.2h0M14.1 21.4h0M21.6 2.0h0M20.5 23.2h0M31.2 16.8h0M18.0 18.3h0M29.3 24.1h0M30.0 -0.7h0M30.0 28.3h0M13.3 26.8h0M21.5 27.1h0M23.3 19.1h0M25.3 13.8h0M24.2 27.2h0M6.0 17.6h0M20.7 19.0h0M27.3 10.7h0M2.1 8.9h0M31.6 22.0h0M32.5 17.0h0M31.6 10.9h0M19.2 21.8h0M12.3 4.7h0M5.1 15.9h0M9.7 11.4h0M30.0 23.1h0M2.1 16.3h0M17.2 7.2h0M7.1 4.2h0M26.3 26.5h0M14.5 25.0h0M11.1 1.9h0M28.7 11.4h0M12.1 11.8h0M-0.7 4.9h0M33.3 4.9h0M3.2 15.6h0M26.8 0.5h0M26.8 29.5h0M17.0 27.7h0M16.5 5.1h0M11.1 22.7h0M13.8 15.2h0M8.9 26.0h0M18.8 21.4h0M9.4 16.6h0M0.5 16.7h0M34.5 16.7h0M16.6 7.6h0M5.8 19.0h0M23.3 25.3h0M24.3 27.9h0M12.9 0.2h0M12.9 29.2h0M17.7 9.7h0M20.4 15.1h0M-0.9 -0.1h0M-0.9 28.9h0M33.1 -0.1h0M33.1 28.9h0M25.1 9.9h0M11.2 6.8h0M5.7 14.3h0M23.2 13.3h0M16.7 9.9h0M12.1 26.7h0M12.8 0.6h0M12.8 29.6h0M20.6 16.4h0M2.4 15.0h0M27.1 7.7h0M11.5 18.8h0M20.6 26.1h0M9.2 12.4h0M5.9 -0.1h0M5.9 28.9h0M12.7 23.2h0M18.7 2.8h0M30.7 6.7h0M0.8 27.2h0M34.8 27.2h0M9.3 1.5h0M4.4 19.5h0M24.0 13.7h0M15.8 7.9h0M30.8 2.5h0M3.1 24.5h0M29.7 21.3h0M-0.1 26.4h0M33.9 26.4h0M11.6 4.0h0M20.4 1.6h0M15.6 2.1h0M27.2 1.0h0M27.2 30.0h0M27.6 26.8h0M4.2 14.0h0M2.6 7.2h0M2.8 12.4h0M5.2 14.4h0M26.9 16.1h0M-0.6 23.6h0M33.4 23.6h0M31.0 9.0h0M24.9 24.5h0M-0.0 25.5h0M34.0 25.5h0M12.9 -0.8h0M12.9 28.2h0M17.4 24.7h0M2.0 17.1h0M23.9 27.2h0M24.5 10.0h0M15.7 18.1h0M4.5 9.5h0M-0.1 6.8h0M33.9 6.8h0M24.8 1.6h0M8.0 2.5h0M14.0 5.4h0M0.2 27.3h0M34.2 27.3h0M12.3 6.1h0M4.8 4.3h0M11.2 13.5h0M3.0 17.9h0M4.5 20.2h0M7.7 17.3h0M23.6 5.6h0M29.8 18.6h0M10.9 11.4h0M14.8 -0.2h0M14.8 28.8h0M26.6 1.2h0M28.5 15.6h0M27.7 4.4h0M11.0 27.9h0M29.5 17.7h0M17.3 7.2h0M12.6 14.7h0M15.0 14.3h0M23.0 26.6h0M23.5 23.3h0M4.5 15.7h0M12.3 3.6h0M9.9 25.2h0M-0.0 12.8h0M34.0 12.8h0M3.0 15.8h0M5.2 12.5h0M3.7 17.3h0M9.8 8.7h0M7.3 7.3h0M25.7 24.9h0M7.4 3.3h0M19.2 8.8h0M4.3 21.7h0M21.1 10.9h0M31.1 15.1h0M20.8 15.7h0M26.8 27.7h0M5.9 15.5h0M23.6 24.2h0M27.7 1.4h0M5.0 23.5h0M10.6 26.3h0M17.7 15.3h0M11.9 1.0h0M14.4 18.2h0M6.2 7.3h0M19.2 16.9h0M21.0 4.0h0M26.9 12.8h0M-0.6 4.5h0M33.4 4.5h0M1.7 24.0h0M31.5 7.5h0M14.6 18.2h0M20.8 19.1h0M-0.4 -0.3h0M-0.4 28.7h0M33.6 -0.3h0M33.6 28.7h0M0.3 2.6h0M34.3 2.6h0M18.0 9.8h0M6.0 15.3h0M12.1 -0.6h0M12.1 28.4h0M-0.4 26.6h0M33.6 26.6h0M13.4 24.7h0M16.7 0.9h0M16.7 29.9h0M24.3 22.9h0M6.5 18.9h0M26.3 6.6h0M12.2 24.2h0M31.8 5.2h0M16.9 9.6h0M28.8 24.6h0M9.2 15.2h0M13.2 10.1h0M26.7 3.2h0M7.4 20.5h0M17.2 13.2h0M8.0 10.0h0M17.2 25.9h0M29.7 21.7h0M18.5 19.4h0M20.2 27.2h0M26.8 24.2h0M26.0 16.3h0M14.7 13.0h0M31.0 24.8h0M5.7 26.8h0M4.1 11.9h0M1.7 0.7h0M1.7 29.7h0M15.3 23.8h0M7.0 4.5h0M27.0 22.9h0M32.2 24.0h0M9.1 7.0h0M10.5 21.9h0M30.4 11.3h0M-0.3 23.3h0M33.7 23.3h0M11.1 21.6h0M12.6 25.7h0M22.3 19.0h0M19.6 11.0h0M21.1 25.8h0M6.9 20.9h0M23.4 15.5h0M12.8 11.2h0M9.9 26.9h0M4.6 4.1h0M23.2 23.7h0M1.9 8.9h0M30.0 27.4h0M22.8 13.8h0M16.1 23.9h0M-0.9 15.5h0M33.1 15.5h0M23.3 23.6h0M28.1 13.0h0M1.6 28.0h0M14.6 19.9h0M21.3 3.1h0M1.3 14.0h0M31.4 16.5h0M28.2 9.6h0M18.9 23.2h0M10.0 11.4h0M31.3 6.7h0M5.2 12.4h0M10.9 20.1h0M13.7 18.9h0M6.9 22.0h0M31.1 8.2h0M17.1 27.4h0M2.0 3.8h0M10.1 12.5h0M14.2 0.3h0M14.2 29.3h0M10.1 0.8h0M10.1 29.8h0M13.1 9.2h0M14.1 17.4h0M0.2 21.3h0M34.2 21.3h0M20.7 1.9h0M16.6 27.6h0M32.3 26.2h0M6.5 23.9h0M18.5 20.8h0M22.5 22.5h0M15.8 4.9h0M27.8 1.9h0M10.1 24.2h0M10.8 13.5h0M32.3 24.2h0M21.1 21.1h0M10.7 18.3h0M28.9 4.6h0M13.0 15.0h0M6.6 26.9h0M28.9 1.2h0"/></g></pattern><pattern id="bdot_s" patternUnits="userSpaceOnUse" width="31" height="35"><g fill="none" stroke-width="1.3" stroke-linecap="square"><path stroke="#1B87D2" d="M13.9 17.6h0M0.6 28.7h0M31.6 28.7h0M12.7 7.9h0M9.6 5.3h0M18.7 -0.6h0M18.7 34.4h0M14.1 2.0h0M26.3 28.1h0M13.8 23.9h0M6.6 28.2h0M-0.3 6.3h0M30.7 6.3h0M12.5 11.5h0M3.8 3.5h0M11.0 0.3h0M11.0 35.3h0M17.7 6.8h0M16.0 32.6h0M24.4 7.0h0M1.9 22.3h0M0.3 16.3h0M31.3 16.3h0M3.3 20.9h0M14.5 18.0h0M22.3 12.4h0M11.0 11.8h0M3.2 6.6h0M7.5 14.7h0M0.7 30.2h0M31.7 30.2h0M25.0 -0.9h0M25.0 34.1h0M26.5 0.7h0M26.5 35.7h0M22.0 29.9h0M27.7 27.2h0M28.5 21.1h0M10.6 14.5h0M20.5 21.2h0M21.9 2.3h0M10.8 27.5h0M20.6 14.6h0M15.6 6.7h0M21.7 27.1h0M8.0 10.8h0M12.8 26.6h0M0.7 32.9h0M31.7 32.9h0M-0.5 28.3h0M30.5 28.3h0M19.6 13.8h0M26.3 0.5h0M26.3 35.5h0M3.4 22.2h0M7.8 8.3h0M2.6 27.1h0M26.4 19.4h0M1.3 25.7h0M22.6 12.3h0M5.3 11.7h0M8.4 5.6h0M29.5 26.5h0M15.2 11.5h0M3.6 19.8h0M10.8 26.1h0M4.5 15.3h0M16.4 20.9h0M9.7 10.8h0M24.7 24.0h0M17.2 18.7h0M7.7 -0.7h0M7.7 34.3h0M2.6 17.5h0M1.4 1.2h0M23.9 19.7h0M11.4 28.6h0M0.8 12.2h0M31.8 12.2h0M-1.0 28.4h0M30.0 28.4h0M15.7 26.1h0M28.9 13.5h0M2.8 29.0h0M16.4 30.7h0M20.5 9.0h0M0.7 20.3h0M31.7 20.3h0M14.1 12.2h0M21.5 13.4h0M25.2 2.2h0M0.6 12.9h0M31.6 12.9h0M5.3 31.6h0M19.8 33.7h0M9.1 29.7h0M-0.7 30.3h0M30.3 30.3h0M23.7 4.6h0M27.9 3.3h0M11.0 6.3h0M3.8 33.8h0M19.2 31.2h0M11.6 13.4h0M25.7 33.9h0M23.8 30.7h0M26.3 26.7h0M28.2 26.8h0M0.2 6.5h0M31.2 6.5h0M10.4 8.4h0M29.9 30.4h0M16.8 8.4h0M3.2 1.8h0M5.8 9.0h0M26.5 10.8h0M15.2 21.0h0M-0.8 24.7h0M30.2 24.7h0M8.4 16.4h0M10.3 7.9h0M23.6 19.9h0M10.9 22.4h0M3.8 20.8h0M25.3 32.4h0M16.6 8.6h0M23.1 -0.3h0M23.1 34.7h0M10.3 11.3h0M5.4 11.8h0M23.7 19.7h0M5.9 7.4h0M5.3 22.2h0M3.6 8.0h0M12.1 27.8h0M27.6 14.5h0M25.0 7.0h0M7.6 13.1h0M18.6 24.1h0M22.8 8.0h0M3.3 6.5h0M4.6 20.6h0M28.9 29.5h0M23.8 19.4h0M7.9 32.4h0M19.9 -0.2h0M19.9 34.8h0M18.2 6.2h0M5.8 30.6h0M4.7 15.7h0M13.8 12.5h0M29.9 31.5h0M3.7 -0.9h0M3.7 34.1h0M17.3 5.0h0M26.6 13.1h0M14.2 8.7h0M15.8 9.8h0M-0.8 4.0h0M30.2 4.0h0M11.6 15.0h0M25.6 17.4h0M21.9 7.5h0M23.3 19.7h0M27.2 31.3h0M12.0 20.5h0M21.7 32.3h0M4.8 18.1h0M25.6 5.2h0M-0.3 21.1h0M30.7 21.1h0M20.2 1.1h0M14.0 17.5h0M6.9 -0.2h0M6.9 34.8h0M17.5 13.7h0M25.5 32.1h0M8.7 1.0h0M9.5 8.7h0M13.0 -0.0h0M13.0 35.0h0M2.4 14.3h0M2.2 12.3h0M25.9 19.5h0M26.9 10.1h0M20.3 4.5h0M15.9 3.5h0M22.0 16.9h0M17.5 22.5h0M15.9 3.0h0M13.5 30.7h0M20.3 20.6h0M27.7 22.6h0M7.8 23.4h0M25.7 7.9h0M7.4 7.4h0M29.8 10.1h0M23.8 2.2h0M1.1 25.5h0M6.1 16.4h0M19.6 9.6h0M19.0 3.5h0M3.4 1.9h0M20.8 24.8h0M14.8 13.2h0M-1.0 10.8h0M30.0 10.8h0M26.0 33.8h0M24.1 31.4h0M13.1 22.5h0M28.3 5.0h0M17.0 24.4h0M24.5 20.1h0M29.9 28.6h0M-0.1 32.1h0M30.9 32.1h0M16.6 -0.6h0M16.6 34.4h0M18.8 3.9h0M19.4 21.3h0M8.3 27.2h0M21.7 32.9h0M14.4 18.3h0M18.5 26.6h0M22.1 2.6h0M23.9 5.2h0M9.2 3.8h0M23.2 0.8h0M23.2 35.8h0M29.1 11.4h0M6.0 22.7h0M29.6 25.1h0M12.4 12.3h0M20.2 9.0h0M8.4 23.2h0M3.5 21.9h0M23.9 30.7h0M12.3 22.5h0M13.4 21.6h0M12.1 14.5h0M24.8 9.6h0M29.6 17.8h0M7.1 11.4h0M5.5 25.6h0M10.9 2.5h0M12.5 28.4h0M12.2 0.2h0M12.2 35.2h0M12.6 18.4h0M21.9 7.9h0M7.9 17.1h0M21.1 -0.3h0M21.1 34.7h0M15.6 4.8h0M14.1 2.2h0M16.2 23.9h0M5.7 11.3h0M18.5 3.1h0M10.8 14.4h0M24.4 22.8h0M0.4 14.2h0M31.4 14.2h0M17.4 16.2h0M9.8 15.1h0M-0.8 17.9h0M30.2 17.9h0M27.0 11.4h0M13.8 26.3h0M13.3 33.0h0M11.5 29.1h0M28.4 2.7h0M9.9 8.1h0M16.0 33.6h0M19.6 18.5h0M7.8 12.0h0M0.2 30.1h0M31.2 30.1h0M1.1 24.4h0M3.0 18.8h0M25.7 19.6h0M28.4 6.1h0M29.3 -0.4h0M29.3 34.6h0M-0.6 11.4h0M30.4 11.4h0M15.5 -0.8h0M15.5 34.2h0M20.0 23.8h0M1.2 8.9h0M6.5 8.7h0M19.9 7.6h0M21.9 -0.0h0M21.9 35.0h0M15.2 2.8h0M21.5 33.9h0M9.1 33.7h0M28.7 17.5h0M9.9 18.8h0M19.9 8.6h0M29.0 22.9h0M19.7 -0.0h0M19.7 35.0h0M7.2 15.8h0M12.1 26.0h0M-0.1 2.4h0M30.9 2.4h0M3.1 7.9h0M17.8 28.1h0M29.5 21.8h0M12.1 22.2h0M12.2 1.1h0M5.5 15.8h0M19.1 24.7h0M23.1 1.9h0M7.0 5.3h0M14.1 27.9h0M21.6 18.6h0M2.4 14.2h0M20.7 5.7h0M13.7 14.6h0M8.7 14.8h0M16.5 31.7h0M26.0 17.5h0M28.5 21.5h0M21.2 21.4h0M28.9 18.5h0M11.9 27.2h0M15.3 12.2h0M26.2 23.6h0M1.9 18.6h0M18.1 13.3h0M-0.3 2.0h0M30.7 2.0h0M13.9 29.1h0M14.1 15.5h0M27.4 23.6h0M21.3 27.2h0M5.7 23.3h0M1.1 6.1h0M23.4 28.9h0M28.8 6.7h0M15.6 3.8h0M2.5 22.4h0M0.4 0.8h0M0.4 35.8h0M31.4 0.8h0M31.4 35.8h0M22.9 11.0h0M13.9 12.1h0M8.5 17.8h0M28.7 27.7h0M2.2 12.1h0M10.7 24.3h0M28.7 -0.3h0M28.7 34.7h0M1.5 8.0h0M29.2 27.5h0M26.3 10.6h0M1.0 23.1h0M0.2 7.7h0M31.2 7.7h0M7.5 6.5h0M9.9 25.2h0M10.9 28.0h0M13.5 12.9h0M13.6 20.5h0M28.3 7.8h0M7.8 26.3h0M-0.1 32.9h0M30.9 32.9h0M3.5 17.4h0M1.4 11.3h0M6.7 8.8h0M2.8 7.8h0M-0.3 23.7h0M30.7 23.7h0M21.4 8.8h0M10.2 29.7h0M28.6 16.9h0M3.0 17.4h0M20.8 26.3h0M25.1 -0.8h0M25.1 34.2h0M3.7 32.4h0M14.6 20.1h0M17.2 20.9h0M13.6 28.8h0M11.1 8.4h0M7.7 10.8h0M10.5 -0.5h0M10.5 34.5h0M14.6 11.2h0M13.3 20.9h0M10.9 12.3h0M20.9 24.0h0M21.8 26.2h0M12.2 8.2h0M17.9 3.8h0M21.8 30.6h0M22.7 3.7h0M22.0 12.3h0M2.7 33.3h0M12.6 2.7h0M13.4 22.1h0M29.5 3.1h0M25.3 4.8h0M4.0 3.8h0M21.3 26.5h0M23.7 7.2h0M19.9 17.0h0M11.8 16.3h0M28.2 7.3h0M7.5 4.6h0M18.8 1.1h0M16.7 24.1h0M14.0 1.8h0M11.5 25.0h0M20.7 26.1h0M12.0 33.9h0M0.0 20.4h0M31.0 20.4h0M9.7 3.6h0M16.0 22.3h0M6.0 30.3h0M18.2 9.2h0M10.5 21.8h0M24.1 1.1h0M8.0 15.2h0M27.6 19.2h0M13.1 19.1h0M12.0 8.4h0M6.2 4.4h0M-0.7 7.9h0M30.3 7.9h0M17.1 21.2h0M4.9 6.8h0M2.7 18.6h0M4.7 24.8h0M28.9 0.7h0M28.9 35.7h0M27.4 25.7h0M4.9 20.5h0M11.3 10.1h0M10.7 33.4h0M12.3 15.7h0M4.2 30.8h0M9.9 9.4h0M8.1 29.7h0M4.3 13.4h0M19.2 10.0h0M20.4 33.2h0M4.7 30.6h0M16.3 31.0h0M5.3 3.2h0M28.1 7.4h0M27.5 6.9h0M26.8 29.7h0M5.5 31.4h0M16.9 27.9h0M6.8 20.5h0M14.8 6.6h0M10.3 -0.2h0M10.3 34.8h0M8.1 33.3h0M12.8 11.4h0M20.5 23.0h0M12.8 10.8h0M20.8 5.0h0M8.4 32.6h0M9.8 18.6h0M29.6 8.0h0M1.8 22.2h0M20.4 26.9h0M-0.5 20.0h0M30.5 20.0h0M21.4 25.5h0M1.1 33.3h0M4.2 7.9h0M4.5 28.9h0M29.3 19.7h0M2.2 2.9h0M4.4 8.5h0M6.1 33.1h0M15.6 4.9h0M-0.2 12.2h0M30.8 12.2h0M2.5 1.7h0M11.1 22.0h0M24.1 19.4h0M29.7 24.5h0M28.1 16.4h0"/></g></pattern><pattern id="bdot_xs" patternUnits="userSpaceOnUse" width="37" height="31"><g fill="none" stroke-width="1.3" stroke-linecap="square"><path stroke="#1B87D2" d="M12.9 5.9h0M27.8 3.4h0M14.3 12.4h0M12.0 19.0h0M14.3 3.3h0M13.2 2.5h0M20.3 3.1h0M9.7 14.1h0M2.4 5.6h0M14.7 10.2h0M20.5 14.4h0M23.7 5.6h0M20.9 2.6h0M34.4 5.4h0M5.0 29.8h0M18.2 2.4h0M6.2 4.7h0M20.7 7.6h0M20.7 28.5h0M30.8 9.4h0M22.1 21.4h0M33.3 22.7h0M-0.0 28.6h0M37.0 28.6h0M24.4 13.3h0M30.9 25.7h0M13.9 23.0h0M33.1 18.0h0M13.4 3.8h0M25.5 8.6h0M8.0 2.9h0M31.0 25.2h0M7.6 8.2h0M13.0 17.5h0M2.8 4.6h0M26.9 28.8h0M1.3 15.1h0M23.8 10.9h0M30.6 1.3h0M25.1 8.6h0M24.8 20.4h0M-0.1 22.4h0M36.9 22.4h0M11.8 3.8h0M29.0 26.4h0M19.7 11.3h0M21.0 9.4h0M33.4 23.3h0M8.1 1.2h0M7.2 15.6h0M23.5 23.8h0M23.1 14.9h0M11.8 23.9h0M28.7 1.9h0M35.7 13.1h0M9.4 6.6h0M25.4 19.1h0M33.9 5.6h0M17.2 24.0h0M11.1 20.1h0M-0.6 5.2h0M36.4 5.2h0M26.8 28.4h0M20.8 22.1h0M9.8 25.7h0M11.3 0.3h0M11.3 31.3h0M34.5 22.7h0M-0.4 5.0h0M36.6 5.0h0M19.5 29.3h0M15.7 20.3h0M27.0 28.3h0M-0.8 3.0h0M36.2 3.0h0M10.1 20.2h0M26.5 21.3h0M32.9 22.8h0M26.2 11.2h0M13.1 19.5h0M15.0 21.1h0M5.2 15.5h0M10.6 23.1h0M27.2 0.7h0M27.2 31.7h0M23.9 24.7h0M-0.0 14.1h0M37.0 14.1h0M25.8 8.3h0M5.2 6.8h0M33.9 24.8h0M8.2 15.1h0M10.9 6.1h0M23.1 16.8h0M32.2 0.3h0M32.2 31.3h0M0.5 18.8h0M37.5 18.8h0M23.3 10.7h0M27.7 26.9h0M-0.8 1.5h0M36.2 1.5h0"/></g></pattern><pattern id="rdot" patternUnits="userSpaceOnUse" width="33" height="31"><g fill="none" stroke-width="1.3" stroke-linecap="square"><path stroke="#A87A92" d="M3.3 4.6h0M7.2 17.7h0M-0.7 29.2h0M32.3 29.2h0M31.2 2.1h0M2.8 16.5h0M29.2 26.7h0M29.0 22.7h0M16.3 29.3h0M20.5 18.8h0M19.8 13.0h0M3.0 -0.8h0M3.0 30.2h0M21.1 8.0h0M15.9 1.8h0M13.8 29.7h0M4.5 12.9h0M6.4 22.4h0M3.0 16.6h0M22.5 9.9h0M24.3 27.3h0M3.3 20.5h0M23.7 25.6h0M27.1 27.2h0M7.2 24.9h0M13.3 9.9h0M21.9 7.7h0M26.2 19.2h0M27.1 0.6h0M27.1 31.6h0M31.4 23.2h0M1.0 13.9h0M34.0 13.9h0M11.8 6.5h0M5.0 -0.6h0M5.0 30.4h0M18.6 0.1h0M18.6 31.1h0M0.2 23.0h0M33.2 23.0h0M27.3 14.3h0M24.7 7.7h0M6.7 -0.2h0M6.7 30.8h0M12.4 28.0h0M25.5 27.9h0M16.2 12.9h0M1.7 9.0h0M25.4 12.5h0M17.0 12.7h0M10.2 -0.8h0M10.2 30.2h0M31.1 1.8h0M-0.7 19.6h0M32.3 19.6h0M19.0 13.2h0M13.3 13.1h0M15.4 13.7h0M23.9 25.1h0M30.4 9.4h0M4.1 21.7h0M21.8 5.7h0M17.4 26.3h0M7.4 0.4h0M7.4 31.4h0M24.3 17.1h0M31.9 17.7h0M6.8 29.4h0M-0.8 -0.5h0M-0.8 30.5h0M32.2 -0.5h0M32.2 30.5h0M19.2 25.3h0M5.3 6.8h0M17.2 5.8h0M26.4 14.3h0M15.5 28.7h0M14.4 12.5h0M21.4 12.2h0M26.6 3.5h0M18.6 4.9h0M23.6 0.3h0M23.6 31.3h0M11.8 19.0h0M17.1 5.6h0M29.5 -1.0h0M29.5 30.0h0M1.0 17.3h0M34.0 17.3h0M11.7 28.9h0M12.0 29.2h0M23.2 4.8h0M31.7 5.0h0M21.0 27.4h0M-0.2 2.5h0M32.8 2.5h0M12.5 16.5h0M6.8 -0.5h0M6.8 30.5h0M-0.7 0.3h0M-0.7 31.3h0M32.3 0.3h0M32.3 31.3h0M13.4 15.8h0M24.0 4.8h0M28.5 15.0h0M14.8 24.8h0M7.7 15.9h0M4.7 27.5h0M5.8 5.4h0M24.3 11.8h0M-0.5 5.4h0M32.5 5.4h0M22.0 13.3h0M4.6 15.0h0M1.6 -0.6h0M1.6 30.4h0M18.9 4.7h0M14.7 20.9h0M24.2 4.2h0M15.4 29.5h0M27.1 11.1h0M3.9 7.7h0M24.9 3.1h0M6.8 0.2h0M6.8 31.2h0M12.7 29.1h0M18.7 7.2h0M0.7 -0.6h0M0.7 30.4h0M33.7 -0.6h0M33.7 30.4h0M13.6 16.4h0M8.1 19.3h0M30.8 16.6h0M12.3 28.6h0M2.2 14.8h0M29.6 12.7h0M11.1 26.8h0M21.4 22.3h0M14.6 8.1h0M19.0 28.1h0M12.7 12.5h0M29.3 7.6h0M5.5 13.4h0M30.1 15.9h0M9.7 9.2h0M15.2 28.6h0M5.5 19.3h0M-0.7 27.0h0M32.3 27.0h0M17.9 -0.2h0M17.9 30.8h0M11.0 2.3h0M11.0 10.8h0M30.4 6.8h0M3.8 10.4h0M15.1 28.5h0M9.4 10.1h0M8.2 6.3h0M0.7 20.3h0M33.7 20.3h0M9.6 10.7h0M22.6 4.9h0M5.0 2.5h0M29.8 19.5h0M14.3 0.6h0M14.3 31.6h0M18.5 3.0h0M27.7 -0.7h0M27.7 30.3h0M12.5 10.6h0M5.5 27.8h0M5.3 13.7h0M3.9 8.3h0M30.9 14.5h0M3.7 5.5h0M2.3 16.2h0M23.1 7.2h0M2.6 7.0h0M-0.5 24.9h0M32.5 24.9h0M16.8 3.3h0M8.2 0.1h0M8.2 31.1h0M11.1 2.0h0M20.3 22.2h0M8.6 10.9h0M7.0 9.4h0M31.1 3.3h0M3.6 28.9h0M26.5 25.8h0M2.0 15.6h0M4.7 17.7h0M31.4 15.6h0M31.9 13.0h0M19.1 7.2h0M4.4 0.0h0M4.4 31.0h0M1.0 9.0h0M30.8 19.9h0M20.0 3.5h0M6.1 23.1h0M27.1 0.9h0M27.1 31.9h0M31.7 18.7h0M9.1 -0.5h0M9.1 30.5h0M20.5 21.8h0M20.2 9.2h0M28.7 23.7h0M4.3 13.5h0M20.0 23.6h0M29.1 28.8h0M10.1 2.9h0M11.4 4.1h0M30.4 8.1h0M12.9 11.3h0M8.6 12.4h0M4.0 1.2h0M31.9 29.5h0M7.6 11.0h0M17.8 8.4h0M20.8 2.6h0M30.8 26.8h0M10.6 7.5h0M30.9 29.9h0M4.5 3.5h0M12.4 18.1h0M24.5 19.5h0M22.1 24.9h0M28.1 1.6h0M16.2 0.6h0M16.2 31.6h0M14.5 24.6h0M0.4 3.3h0M33.4 3.3h0M10.2 1.4h0M12.6 8.5h0M6.8 0.6h0M6.8 31.6h0M10.5 7.6h0M15.5 4.3h0M-0.9 24.6h0M32.1 24.6h0M11.6 18.3h0M4.9 27.3h0M27.8 26.5h0M5.1 11.8h0M8.7 15.5h0M12.6 28.6h0M13.4 25.0h0M26.2 15.1h0M2.1 17.9h0M0.6 -0.7h0M0.6 30.3h0M33.6 -0.7h0M33.6 30.3h0M0.1 1.1h0M33.1 1.1h0M8.6 20.7h0M27.3 0.1h0M27.3 31.1h0M13.1 18.1h0M9.8 -0.5h0M9.8 30.5h0M11.9 10.2h0M28.8 28.5h0M27.7 7.0h0M28.8 10.9h0M7.4 11.6h0M26.8 21.5h0M25.7 15.7h0M15.3 25.5h0M2.9 8.7h0M24.2 26.7h0M21.4 18.7h0M5.6 17.0h0M30.3 5.7h0M22.8 28.7h0M19.4 9.8h0M24.8 0.1h0M24.8 31.1h0M29.2 20.4h0M0.8 15.9h0M33.8 15.9h0M8.5 18.7h0M2.8 3.8h0M29.5 4.2h0M12.0 6.0h0M21.2 15.3h0M20.4 25.7h0M6.4 18.1h0M27.3 10.8h0M12.2 7.3h0M11.1 18.5h0M30.2 28.8h0M7.3 26.8h0M23.8 10.0h0M20.4 7.8h0M28.1 28.8h0M22.9 17.9h0M19.4 7.4h0M6.9 15.3h0M6.3 22.2h0"/><path stroke="#D85A5C" d="M20.5 10.6h0M23.7 6.6h0M25.8 2.8h0M3.8 16.0h0M5.5 29.1h0M12.1 -0.2h0M12.1 30.8h0M0.6 20.5h0M33.6 20.5h0M0.9 19.3h0M33.9 19.3h0M22.4 22.4h0M25.1 14.5h0M17.4 11.7h0M0.5 9.1h0M33.5 9.1h0M4.8 0.3h0M4.8 31.3h0M11.5 8.4h0M26.6 19.5h0M18.8 8.3h0M-0.5 2.3h0M32.5 2.3h0M8.2 24.5h0M10.0 29.3h0M1.6 25.1h0M25.6 -0.6h0M25.6 30.4h0M23.1 6.9h0M17.1 8.9h0M-0.9 21.4h0M32.1 21.4h0M16.1 24.6h0M31.5 21.7h0M23.9 4.4h0M15.5 9.6h0M11.4 23.1h0M26.0 23.5h0M23.8 22.6h0M5.2 2.2h0M-0.5 15.7h0M32.5 15.7h0M13.5 -0.6h0M13.5 30.4h0M21.1 5.6h0M24.8 1.8h0M16.3 10.2h0M25.2 -0.9h0M25.2 30.1h0M17.0 24.2h0M18.1 1.2h0M11.8 22.6h0M5.8 0.1h0M5.8 31.1h0M17.6 12.7h0M19.2 27.2h0M26.2 3.2h0M12.6 18.9h0M13.3 30.0h0M11.8 25.0h0M19.4 19.8h0M27.8 11.9h0M31.2 7.3h0M15.5 6.7h0M-0.7 21.6h0M32.3 21.6h0M24.5 20.1h0M21.7 16.1h0M20.0 5.1h0M19.1 22.2h0M17.5 26.9h0M26.6 11.4h0M8.4 18.9h0M30.0 17.2h0M5.7 26.8h0M21.5 3.0h0M2.3 18.3h0M25.0 28.8h0M31.2 26.5h0M29.3 18.1h0M29.3 21.5h0M16.1 2.5h0M15.0 30.0h0M25.7 18.1h0M22.1 25.4h0M8.9 21.0h0M10.4 17.7h0M0.9 20.1h0M33.9 20.1h0M28.3 19.0h0M20.7 21.4h0M13.2 0.3h0M13.2 31.3h0M10.6 20.7h0M13.2 10.4h0M26.8 8.5h0M28.7 -0.2h0M28.7 30.8h0M3.9 14.2h0M14.0 7.6h0M24.6 10.9h0M11.4 10.7h0M18.2 16.0h0M8.5 13.8h0M25.6 24.6h0M10.5 14.3h0M19.0 29.4h0M30.7 20.9h0M9.1 9.3h0M3.9 0.0h0M3.9 31.0h0M21.3 13.2h0M7.2 1.2h0M5.1 18.1h0M21.1 10.8h0M27.8 16.0h0M2.8 0.3h0M2.8 31.3h0M-0.8 28.0h0M32.2 28.0h0M15.2 1.4h0M22.2 23.8h0M7.5 7.5h0M26.2 7.3h0M26.1 8.8h0M7.7 20.0h0M1.3 22.7h0M30.5 3.1h0M13.5 0.3h0M13.5 31.3h0M27.0 23.0h0M30.5 26.8h0M0.4 21.5h0M33.4 21.5h0M27.5 17.7h0M7.0 6.7h0M22.1 5.3h0M1.4 27.5h0M13.7 20.1h0M3.8 14.4h0M12.2 28.6h0M4.9 26.9h0M5.1 24.2h0M13.7 2.8h0M25.5 9.1h0M31.2 25.5h0M23.7 25.6h0M17.9 1.0h0M17.9 32.0h0M2.3 2.0h0M8.5 25.5h0M23.2 13.8h0M12.9 22.6h0M11.9 26.9h0M20.5 6.3h0M26.6 3.4h0M21.2 17.9h0M4.0 15.3h0M25.6 17.7h0M3.5 8.5h0M10.9 24.5h0M0.0 26.8h0M33.0 26.8h0M28.3 23.3h0M28.7 1.0h0M16.9 27.2h0M29.3 27.3h0M17.3 6.5h0M4.2 15.6h0M11.2 29.4h0M25.6 8.8h0M21.3 12.4h0M1.7 5.9h0M30.2 17.2h0M22.4 8.7h0M20.9 2.8h0M12.1 1.7h0M29.9 28.3h0M16.5 16.7h0M28.2 19.4h0M10.4 -0.1h0M10.4 30.9h0M3.0 18.3h0M13.1 14.7h0M19.8 13.9h0M8.5 16.6h0M30.5 21.2h0M25.5 29.6h0M24.5 24.6h0M26.7 -0.2h0M26.7 30.8h0M20.6 1.8h0M14.4 4.8h0M20.5 25.5h0M26.2 2.9h0M1.3 26.3h0M29.1 8.6h0M21.7 -0.5h0M21.7 30.5h0M27.2 0.2h0M27.2 31.2h0M16.0 -0.4h0M16.0 30.6h0M14.3 12.3h0M26.0 13.2h0M14.9 18.7h0M26.1 11.9h0M21.4 7.3h0M9.3 1.7h0M16.0 7.1h0M17.9 25.9h0M25.9 4.3h0M21.0 10.5h0M17.8 13.1h0M12.6 0.6h0M12.6 31.6h0M21.7 19.9h0M15.0 24.5h0M25.0 28.9h0M4.3 1.7h0M12.3 21.2h0M23.6 22.2h0M14.3 11.5h0M17.9 27.6h0M25.1 4.8h0M0.9 6.6h0M33.9 6.6h0M14.2 22.8h0M13.5 28.0h0M26.5 16.8h0M10.8 8.9h0M18.6 25.6h0M13.1 25.5h0M6.2 23.0h0M19.8 5.2h0M25.4 8.0h0M0.2 9.2h0M33.2 9.2h0M28.3 8.7h0M10.9 14.3h0M26.3 11.4h0M28.6 12.2h0M13.2 14.0h0M25.1 7.6h0M10.0 19.4h0M24.8 27.8h0M12.6 18.4h0M30.9 1.4h0M26.2 14.2h0M25.6 0.1h0M25.6 31.1h0M3.5 5.7h0M11.4 19.2h0M21.4 13.4h0M23.1 20.1h0M15.7 27.2h0M26.4 13.2h0M19.7 25.9h0M15.6 10.3h0M0.8 7.9h0M33.8 7.9h0M8.5 8.1h0M0.0 4.1h0M33.0 4.1h0M31.8 7.2h0M16.5 0.1h0M16.5 31.1h0M29.1 27.5h0M14.6 1.4h0M4.4 23.3h0M6.0 7.5h0M23.3 28.0h0M-0.1 16.1h0M32.9 16.1h0M31.0 16.0h0M16.4 21.0h0M24.0 11.2h0M17.6 26.2h0M17.3 8.8h0M27.0 19.0h0M6.8 16.2h0M4.4 14.9h0M20.9 1.8h0M18.4 1.4h0M25.6 2.3h0M6.1 0.1h0M6.1 31.1h0M19.8 13.6h0M11.4 28.8h0M0.5 21.4h0M33.5 21.4h0M24.3 22.5h0M16.7 27.4h0M3.4 14.9h0M23.7 30.0h0M4.7 26.2h0M28.5 4.9h0M22.1 11.6h0M29.7 14.1h0M21.1 4.5h0M7.7 9.3h0M30.3 24.2h0M24.1 12.1h0M23.8 14.1h0M26.8 25.4h0M28.8 16.2h0M0.6 -0.8h0M0.6 30.2h0M33.6 -0.8h0M33.6 30.2h0M13.6 5.3h0M29.4 25.1h0M-0.6 28.6h0M32.4 28.6h0M2.1 24.3h0M7.1 19.4h0M23.6 19.2h0M6.9 15.9h0M-0.0 22.0h0M33.0 22.0h0M-0.2 0.8h0M-0.2 31.8h0M32.8 0.8h0M32.8 31.8h0M1.8 24.1h0M8.8 7.8h0M23.8 14.5h0M9.4 0.9h0M9.4 31.9h0M4.3 5.2h0M14.0 16.6h0M0.2 2.2h0M33.2 2.2h0M19.1 7.6h0M2.8 1.4h0M14.7 0.8h0M14.7 31.8h0M13.4 3.9h0M20.5 27.5h0M12.9 9.1h0M14.9 5.3h0M11.1 17.3h0M17.9 3.4h0M3.2 23.0h0M27.1 12.2h0M0.6 9.0h0M33.6 9.0h0M19.1 14.2h0M6.2 2.6h0M16.1 21.6h0M3.0 6.1h0M31.6 26.2h0M24.2 15.1h0M16.2 5.6h0M22.6 6.1h0M9.6 15.8h0"/></g></pattern><pattern id="mdot" patternUnits="userSpaceOnUse" width="31" height="33"><g fill="none" stroke-width="1.3" stroke-linecap="square"><path stroke="#9E7C9E" d="M6.5 17.3h0M13.5 29.6h0M7.2 5.1h0M0.1 19.0h0M31.1 19.0h0M15.3 0.2h0M15.3 33.2h0M12.9 20.7h0M17.7 2.8h0M24.2 20.6h0M8.2 11.0h0M12.6 3.8h0M9.5 20.6h0M1.8 27.0h0M10.0 23.1h0M1.0 25.8h0M16.7 26.3h0M25.7 22.4h0M15.0 5.3h0M23.1 20.2h0M18.4 5.7h0M11.7 23.1h0M3.9 30.9h0M15.4 3.0h0M5.7 -0.3h0M5.7 32.7h0M5.9 24.8h0M12.9 26.7h0M8.0 29.0h0M3.2 6.3h0M3.8 25.3h0M3.6 29.2h0M28.8 12.1h0M17.6 28.1h0M26.8 5.9h0M26.6 22.6h0M11.3 14.7h0M23.1 20.1h0M6.2 31.1h0M25.9 19.5h0M26.7 9.9h0M23.8 13.0h0M-0.5 4.2h0M30.5 4.2h0M15.8 23.1h0M2.5 15.9h0M9.0 18.2h0M20.8 7.8h0M10.1 12.0h0M18.8 21.4h0M10.2 8.4h0M9.2 20.1h0M16.6 15.2h0M8.6 25.9h0M16.6 5.2h0M15.0 31.7h0M24.2 0.3h0M24.2 33.3h0M22.8 4.3h0M11.1 0.1h0M11.1 33.1h0M12.4 5.0h0M18.2 21.5h0M4.8 9.3h0M-0.2 1.6h0M30.8 1.6h0M19.8 22.9h0M17.9 14.6h0M22.4 17.0h0M8.2 29.3h0M9.5 22.0h0M20.9 30.4h0M16.3 18.3h0M13.5 -0.3h0M13.5 32.7h0M14.3 30.7h0M8.9 6.1h0M5.8 0.5h0M5.8 33.5h0M7.6 21.3h0M9.0 11.6h0M16.6 13.2h0M3.4 0.2h0M3.4 33.2h0M17.1 25.3h0M8.5 17.8h0M7.2 14.9h0M19.2 11.8h0M26.9 31.8h0M2.8 22.5h0M8.9 29.7h0M28.8 25.8h0M13.3 30.7h0M2.1 4.6h0M5.4 18.2h0M10.5 14.7h0M19.3 30.8h0M28.0 12.7h0M25.7 22.6h0M23.4 4.4h0M19.4 9.0h0M2.1 24.8h0M6.3 1.3h0M-0.7 16.4h0M30.3 16.4h0M14.5 21.8h0M0.9 4.7h0M31.9 4.7h0M5.9 15.3h0M1.8 4.1h0M0.0 23.3h0M31.0 23.3h0M7.4 0.1h0M7.4 33.1h0M4.5 24.5h0M19.1 10.7h0M0.8 24.7h0M31.8 24.7h0M25.0 11.0h0M27.8 26.2h0M0.4 17.1h0M31.4 17.1h0M24.9 7.8h0M20.4 31.7h0M25.5 14.9h0M4.2 11.3h0M27.3 10.4h0M18.5 28.2h0M15.0 22.2h0M8.6 0.8h0M8.6 33.8h0M-0.4 31.6h0M30.6 31.6h0M16.2 10.4h0M19.8 30.4h0M13.9 8.4h0M19.8 8.8h0M10.6 29.5h0M4.5 28.9h0M7.4 22.2h0M8.4 13.0h0M21.2 4.4h0M15.8 1.6h0M21.7 8.7h0M18.3 14.5h0M17.6 -0.4h0M17.6 32.6h0M0.0 24.7h0M31.0 24.7h0M27.0 26.2h0M6.3 1.7h0M0.2 11.5h0M31.2 11.5h0M14.8 23.3h0M26.5 15.9h0M11.1 21.4h0M20.2 19.0h0M1.9 15.7h0M19.6 2.2h0M-0.7 10.6h0M30.3 10.6h0M15.9 13.8h0M24.6 18.2h0M4.8 1.1h0M18.2 12.9h0M20.6 30.2h0M13.4 -0.1h0M13.4 32.9h0M20.4 16.9h0M16.8 26.8h0M25.8 9.7h0M6.9 9.1h0M11.9 11.0h0M26.8 30.6h0M21.5 28.3h0M15.4 0.2h0M15.4 33.2h0M17.4 3.4h0M5.9 31.0h0M27.5 10.3h0M13.1 6.6h0M5.7 27.7h0M27.1 -0.2h0M27.1 32.8h0M14.5 20.9h0M0.6 12.1h0M31.6 12.1h0M20.5 9.0h0M7.8 1.9h0M16.4 14.9h0M18.1 10.4h0M17.4 20.4h0M20.8 25.2h0M15.1 17.0h0M2.5 23.9h0M14.2 27.1h0M22.1 18.5h0M0.3 17.4h0M31.3 17.4h0M-0.3 31.0h0M30.7 31.0h0M8.7 28.5h0M29.1 26.1h0M25.8 7.5h0M13.2 1.4h0M18.5 15.4h0M6.5 22.7h0M1.3 28.1h0M13.3 6.6h0M7.1 3.9h0M9.4 19.6h0M4.5 31.3h0M27.1 27.5h0M0.4 16.9h0M31.4 16.9h0M1.7 15.4h0M14.8 9.9h0M27.2 5.2h0M22.5 26.1h0M23.7 31.8h0M11.1 17.6h0M6.2 21.9h0M2.3 14.8h0M29.1 18.0h0M4.6 16.3h0M7.1 13.5h0M19.5 23.2h0M26.7 10.5h0M18.2 28.4h0M-0.6 19.9h0M30.4 19.9h0M18.7 5.9h0M28.8 29.1h0M18.0 19.3h0M9.1 30.9h0M19.1 7.9h0M21.3 30.1h0M-0.4 10.5h0M30.6 10.5h0M3.5 31.2h0M9.3 6.9h0M-0.1 31.6h0M30.9 31.6h0M14.4 23.8h0M1.8 9.6h0M9.9 20.3h0M2.2 -0.7h0M2.2 32.3h0M23.4 14.5h0M18.7 3.6h0M13.5 24.9h0M17.2 17.7h0M9.5 29.5h0M20.8 17.4h0M24.0 7.1h0M3.1 24.5h0M26.8 25.2h0M21.1 18.6h0"/><path stroke="#D0605F" d="M12.9 4.2h0M25.5 20.5h0M13.8 18.5h0M21.9 18.1h0M9.3 12.0h0M18.0 22.7h0M24.5 23.0h0M25.4 27.8h0M5.0 21.1h0M1.8 16.1h0M2.2 14.8h0M6.3 2.1h0M19.1 8.7h0M27.3 2.6h0M-0.8 6.3h0M30.2 6.3h0M20.8 7.3h0M20.6 16.1h0M10.3 20.2h0M19.1 27.2h0M9.7 5.0h0M21.5 1.6h0M7.8 15.4h0M18.4 2.3h0M21.4 31.8h0M24.0 2.3h0M29.2 21.4h0M16.5 15.4h0M3.3 22.8h0M11.8 13.5h0M19.5 30.5h0M16.3 1.7h0M17.3 23.9h0M20.9 8.9h0M20.4 4.8h0M13.5 20.2h0M16.8 4.1h0M25.4 25.2h0M26.5 2.3h0M30.0 10.5h0M8.1 22.2h0M20.4 22.1h0M13.7 28.4h0M6.6 19.6h0M21.3 15.5h0M1.4 27.6h0M18.8 8.8h0M20.3 0.1h0M20.3 33.1h0M-0.0 5.9h0M31.0 5.9h0M-0.2 19.1h0M30.8 19.1h0M27.1 16.1h0M19.3 8.1h0M13.0 -0.3h0M13.0 32.7h0M29.4 21.2h0M26.1 3.6h0M8.8 22.4h0M17.6 25.1h0M23.3 29.8h0M29.8 22.1h0M3.6 19.1h0M23.1 0.7h0M23.1 33.7h0M-0.8 16.2h0M30.2 16.2h0M6.0 16.4h0M22.6 31.3h0M11.3 23.7h0M30.0 29.5h0M8.0 8.4h0M10.1 25.1h0M24.1 8.0h0M11.0 31.1h0M20.3 8.6h0M24.0 11.8h0M-0.8 27.0h0M30.2 27.0h0M26.1 28.1h0M3.1 1.5h0M1.2 29.9h0M5.7 12.4h0M25.5 5.3h0M18.7 -0.3h0M18.7 32.7h0M16.7 27.1h0M18.4 -0.7h0M18.4 32.3h0M29.0 30.9h0M-0.5 0.1h0M-0.5 33.1h0M30.5 0.1h0M30.5 33.1h0M11.8 32.0h0M-0.5 17.0h0M30.5 17.0h0M12.0 1.0h0M12.0 34.0h0M18.6 26.1h0M24.7 10.0h0M10.0 4.9h0M29.9 1.7h0M7.4 22.6h0M-0.6 4.2h0M30.4 4.2h0M29.8 19.9h0M14.7 11.0h0M8.2 27.0h0M18.9 -0.2h0M18.9 32.8h0M-0.5 31.4h0M30.5 31.4h0M17.3 20.0h0M0.4 23.0h0M31.4 23.0h0M27.0 29.7h0M22.1 0.1h0M22.1 33.1h0M1.7 22.6h0M25.4 4.8h0"/></g></pattern></defs><path d="M131.6 94.5 135.3 92.7 144.4 100.0 155.3 102.7 163.5 109.1 166.2 118.2 164.4 127.3 158.9 134.5 153.5 141.8 146.2 143.6 138.9 136.4 133.5 129.1 129.8 120.0 128.0 107.3 128.9 98.2Z" fill="#F8A62A"/><path d="M95.1 82.1 101.5 75.7 108.7 68.5 116.0 63.9 125.1 62.1 139.1 59.2 150.9 58.0 160.4 59.2 163.9 62.7 158.0 66.3 148.6 67.5 136.7 69.8 132.0 80.5 129.6 87.6 123.3 88.5 112.4 87.5 103.3 85.7 96.0 83.9Z" fill="#22C4EE"/><path d="M142.5 21.4 149.8 17.7 158.9 18.6 168.0 23.2 177.1 26.8 181.6 34.1 182.5 41.4 180.7 48.6 177.1 54.1 171.6 55.0 167.1 52.3 164.4 46.8 162.5 41.4 157.1 35.9 149.8 30.5 144.4 26.8Z" fill="#EE3342"/><path d="M84.0 60.2 89.8 57.3 95.6 56.5 97.8 58.7 94.2 61.6 88.4 63.1 84.7 62.4Z" fill="#EE3342"/><path d="M56.9 84.8 58.7 75.7 63.3 70.3 69.6 65.7 76.0 63.0 84.2 61.2 88.7 62.5 88.7 65.7 84.2 70.3 80.5 75.7 78.7 82.1 79.6 90.3 81.5 97.5 80.5 103.9 76.0 106.6 70.5 104.8 63.3 99.4 58.7 93.0Z" fill="#17AE6E"/><path d="M136.7 69.8 143.8 68.6 150.9 68.6 160.4 71.0 167.5 78.1 172.2 85.2 169.8 93.5 162.7 95.8 150.9 95.8 141.5 92.3 134.4 85.2 132.0 78.1Z" fill="#F4E829"/><path d="M94.2 18.6 101.5 13.2 112.4 10.5 121.5 12.3 126.0 17.7 125.1 23.2 117.8 27.7 112.4 32.3 105.1 37.7 101.5 44.1 97.8 45.0 96.9 39.5 97.8 32.3 94.2 25.0Z" fill="#C52A97"/><path d="M97.8 132.7 103.3 127.3 110.5 125.5 117.8 129.0 125.0 131.0 130.5 136.4 129.6 145.5 125.0 149.0 119.6 152.7 116.0 156.4 108.7 149.0 99.6 141.8Z" fill="#1FBAA3"/><path d="M175.3 92.7 182.5 89.1 191.6 85.5 197.1 81.8 202.5 82.7 204.4 89.1 207.1 97.3 200.7 101.8 195.3 109.1 189.8 113.6 182.5 111.8 180.7 105.5 177.1 100.0Z" fill="#F5813F"/><path d="M120.9 37.7 124.5 35.0 130.9 34.5 137.3 35.9 141.8 38.6 140.9 43.2 144.5 47.7 147.3 50.5 143.6 52.3 137.3 51.4 131.8 52.3 126.4 52.3 121.8 49.5 120.0 45.0 120.0 41.4Z" fill="#7553AB"/><path d="M174.6 65.1 181.7 62.0 191.1 63.9 198.2 68.6 202.9 78.1 200.6 82.8 193.5 79.3 186.4 75.7 179.3 71.0Z" fill="#C5C5E8"/><path d="M78.2 106.7 82.5 103.8 94.2 100.9 105.8 99.5 111.6 98.7 114.5 103.8 111.6 108.2 102.9 109.6 91.3 110.4 82.5 109.6Z" fill="#C393D1"/><path d="M201.8 49.7 204.7 46.0 207.6 44.2 210.6 45.7 211.3 48.2 209.9 51.9 207.6 53.4 204.7 53.4 202.5 51.9Z" fill="#F7B3B6"/><path d="M212.8 62.2 215.7 61.1 219.4 62.2 223.1 63.7 224.6 65.1 222.4 67.4 217.9 67.7 215.0 65.9 213.2 64.0Z" fill="#F7B3B6"/><path d="M39.6 61.6 43.3 60.9 45.5 64.5 44.0 68.9 41.1 69.6 39.6 66.0Z" fill="#EFC2A9"/><path d="M61.5 47.7 65.1 46.5 70.5 48.6 74.2 50.5 72.4 53.2 67.8 51.4 62.4 50.1Z" fill="#1B2470"/><path d="M66.0 30.0 70.0 28.0 76.0 28.5 77.0 31.0 72.0 32.5 68.0 34.0Z" fill="#19A5C8"/><path d="M81.5 37.5 83.5 37.5 83.5 40.0 81.5 40.0Z" fill="#A5CF43"/><path d="M131.6 94.5 135.3 92.7 144.4 100.0 155.3 102.7 163.5 109.1 166.2 118.2 164.4 127.3 158.9 134.5 153.5 141.8 146.2 143.6 138.9 136.4 133.5 129.1 129.8 120.0 128.0 107.3 128.9 98.2ZM95.1 82.1 101.5 75.7 108.7 68.5 116.0 63.9 125.1 62.1 139.1 59.2 150.9 58.0 160.4 59.2 163.9 62.7 158.0 66.3 148.6 67.5 136.7 69.8 132.0 80.5 129.6 87.6 123.3 88.5 112.4 87.5 103.3 85.7 96.0 83.9ZM142.5 21.4 149.8 17.7 158.9 18.6 168.0 23.2 177.1 26.8 181.6 34.1 182.5 41.4 180.7 48.6 177.1 54.1 171.6 55.0 167.1 52.3 164.4 46.8 162.5 41.4 157.1 35.9 149.8 30.5 144.4 26.8ZM84.0 60.2 89.8 57.3 95.6 56.5 97.8 58.7 94.2 61.6 88.4 63.1 84.7 62.4ZM56.9 84.8 58.7 75.7 63.3 70.3 69.6 65.7 76.0 63.0 84.2 61.2 88.7 62.5 88.7 65.7 84.2 70.3 80.5 75.7 78.7 82.1 79.6 90.3 81.5 97.5 80.5 103.9 76.0 106.6 70.5 104.8 63.3 99.4 58.7 93.0ZM136.7 69.8 143.8 68.6 150.9 68.6 160.4 71.0 167.5 78.1 172.2 85.2 169.8 93.5 162.7 95.8 150.9 95.8 141.5 92.3 134.4 85.2 132.0 78.1ZM94.2 18.6 101.5 13.2 112.4 10.5 121.5 12.3 126.0 17.7 125.1 23.2 117.8 27.7 112.4 32.3 105.1 37.7 101.5 44.1 97.8 45.0 96.9 39.5 97.8 32.3 94.2 25.0ZM78.2 106.7 82.5 103.8 94.2 100.9 105.8 99.5 111.6 98.7 114.5 103.8 111.6 108.2 102.9 109.6 91.3 110.4 82.5 109.6ZM39.6 61.6 43.3 60.9 45.5 64.5 44.0 68.9 41.1 69.6 39.6 66.0ZM61.5 47.7 65.1 46.5 70.5 48.6 74.2 50.5 72.4 53.2 67.8 51.4 62.4 50.1ZM66.0 30.0 70.0 28.0 76.0 28.5 77.0 31.0 72.0 32.5 68.0 34.0ZM81.5 37.5 83.5 37.5 83.5 40.0 81.5 40.0Z" fill="url(#wspA)"/><path d="M97.8 132.7 103.3 127.3 110.5 125.5 117.8 129.0 125.0 131.0 130.5 136.4 129.6 145.5 125.0 149.0 119.6 152.7 116.0 156.4 108.7 149.0 99.6 141.8ZM175.3 92.7 182.5 89.1 191.6 85.5 197.1 81.8 202.5 82.7 204.4 89.1 207.1 97.3 200.7 101.8 195.3 109.1 189.8 113.6 182.5 111.8 180.7 105.5 177.1 100.0ZM120.9 37.7 124.5 35.0 130.9 34.5 137.3 35.9 141.8 38.6 140.9 43.2 144.5 47.7 147.3 50.5 143.6 52.3 137.3 51.4 131.8 52.3 126.4 52.3 121.8 49.5 120.0 45.0 120.0 41.4ZM174.6 65.1 181.7 62.0 191.1 63.9 198.2 68.6 202.9 78.1 200.6 82.8 193.5 79.3 186.4 75.7 179.3 71.0ZM201.8 49.7 204.7 46.0 207.6 44.2 210.6 45.7 211.3 48.2 209.9 51.9 207.6 53.4 204.7 53.4 202.5 51.9ZM212.8 62.2 215.7 61.1 219.4 62.2 223.1 63.7 224.6 65.1 222.4 67.4 217.9 67.7 215.0 65.9 213.2 64.0Z" fill="url(#wsp2)"/><g fill="none" stroke-width="1.3" stroke-linecap="square"><path stroke="#F8A62A" d="M131.4 95.8h0M128.1 102.0h0M137.7 94.9h0M156.2 105.5h0M165.2 109.9h0M147.6 100.9h0M165.7 117.6h0M133.9 132.2h0M147.9 99.4h0M157.9 134.9h0M165.5 119.9h0M128.6 112.4h0M135.0 130.7h0M163.6 113.3h0M158.2 134.0h0M136.4 93.3h0M161.7 129.8h0M147.4 144.0h0M157.7 137.8h0M160.2 106.1h0M128.3 118.7h0M138.9 93.5h0M133.0 125.5h0M152.4 102.4h0M161.2 106.6h0M134.9 129.5h0M165.0 116.7h0M128.1 112.1h0M166.0 116.5h0M136.5 132.8h0M134.8 94.6h0M141.3 139.3h0M127.8 112.0h0M135.6 132.4h0M154.0 102.4h0M147.7 142.0h0M129.2 108.8h0M142.6 137.6h0M153.0 102.2h0M138.9 135.9h0M132.7 125.4h0M146.2 144.0h0M136.0 94.2h0M166.6 118.7h0M130.6 118.9h0M132.4 126.1h0M165.9 121.2h0M161.1 106.6h0M129.2 101.4h0M134.2 93.8h0M158.1 105.4h0M159.2 134.4h0M132.3 94.3h0M138.8 95.8h0M166.4 119.8h0M143.1 138.9h0M138.8 134.9h0M164.7 124.7h0M136.4 132.2h0M159.6 131.6h0M142.3 97.3h0M160.2 132.0h0M135.1 93.7h0M127.1 115.4h0M164.9 112.1h0M134.1 93.7h0M145.6 142.2h0M148.4 100.9h0M158.5 134.0h0M139.6 135.7h0M129.7 116.2h0M133.0 127.6h0M147.4 142.8h0M157.0 106.2h0M165.3 123.2h0M128.1 109.1h0M164.6 121.3h0M134.7 93.3h0M128.3 110.9h0M137.4 95.2h0M129.5 109.9h0M166.7 113.0h0M152.4 143.5h0M129.0 112.6h0M132.7 129.6h0M160.5 130.6h0M144.5 141.0h0M135.2 131.1h0M128.8 113.9h0M154.5 139.3h0M150.6 103.1h0M151.6 102.4h0M130.7 94.3h0M148.8 141.4h0M127.6 105.3h0M127.4 107.8h0M157.5 138.7h0M161.4 130.0h0M147.1 99.8h0M129.4 101.7h0M145.9 143.5h0M136.5 95.0h0M136.6 132.6h0M127.1 108.3h0M159.3 105.6h0M144.0 141.9h0M166.7 118.7h0M154.5 140.4h0M159.4 105.4h0M127.6 112.0h0M165.7 112.8h0M138.0 96.7h0M154.5 102.7h0M128.6 111.5h0M134.1 130.3h0M163.8 123.6h0M154.8 102.6h0M159.5 105.8h0M128.3 117.4h0M128.3 100.7h0M143.9 99.5h0M164.0 115.6h0M131.6 124.5h0M145.3 141.8h0M164.8 118.0h0M139.8 135.9h0M161.2 130.9h0M128.6 105.4h0M165.7 123.0h0M156.5 137.4h0M155.5 103.3h0M158.5 136.0h0M126.4 105.7h0M153.1 139.5h0M163.6 111.9h0M129.6 122.9h0M144.5 142.7h0M162.9 136.9h0M157.6 136.5h0M163.4 133.0h0M147.7 102.7h0M135.1 126.0h0M154.7 102.5h0M136.2 132.3h0M166.8 110.2h0M165.6 117.4h0M163.8 124.9h0M156.3 143.6h0M141.4 137.3h0M152.8 140.6h0M149.6 99.1h0M161.6 106.6h0M134.4 126.8h0"/><path stroke="#22C4EE" d="M156.0 58.4h0M154.4 59.1h0M137.3 69.9h0M163.3 63.6h0M133.6 60.5h0M106.7 70.2h0M139.9 58.0h0M154.8 67.1h0M145.9 67.8h0M157.5 64.5h0M121.1 63.5h0M125.1 89.0h0M112.8 66.2h0M98.3 78.3h0M140.7 58.0h0M131.3 81.3h0M101.2 84.5h0M106.4 69.8h0M107.0 68.1h0M160.5 60.1h0M107.0 69.4h0M123.6 89.4h0M156.0 58.5h0M100.4 76.7h0M96.7 80.8h0M147.7 59.6h0M148.8 59.3h0M137.4 70.0h0M98.4 78.3h0M137.5 59.6h0M115.7 87.3h0M121.8 63.6h0M127.3 60.8h0M137.7 58.8h0M116.4 86.7h0M100.6 75.9h0M130.7 84.0h0M148.3 66.4h0M153.5 57.6h0M130.6 83.9h0M121.6 87.9h0M159.7 65.4h0M136.6 69.7h0M114.4 66.1h0M143.7 59.2h0M101.3 77.8h0M121.1 61.8h0M107.0 85.3h0M122.5 86.5h0M97.3 81.5h0M112.7 87.2h0M135.8 75.2h0M129.5 87.8h0M116.4 89.5h0M134.2 59.2h0M120.5 63.4h0M122.9 87.5h0M143.5 58.1h0M135.7 70.1h0M110.9 86.7h0M132.1 79.4h0M101.4 84.2h0M162.4 63.4h0M97.3 85.2h0M119.7 89.9h0M105.6 86.5h0M122.6 89.4h0M153.4 58.3h0M111.2 89.0h0M131.2 84.9h0M147.0 66.5h0M131.6 82.9h0M115.0 64.0h0M135.5 74.1h0M149.9 67.6h0M97.5 83.3h0M147.1 68.0h0M146.5 59.2h0M139.0 60.0h0M99.0 78.3h0M107.2 69.0h0M131.1 62.0h0M102.0 85.3h0M145.6 69.5h0M123.7 63.7h0M132.2 77.5h0M124.3 88.9h0M155.5 59.3h0M116.7 64.8h0M150.1 67.9h0M107.5 86.7h0M143.8 67.1h0M129.6 87.4h0M114.2 88.0h0M158.1 59.2h0M95.5 83.3h0M133.1 61.6h0M105.9 70.2h0M110.5 67.3h0M125.8 61.9h0M132.5 60.9h0M115.3 88.3h0M130.7 82.8h0M98.6 84.6h0M158.9 66.3h0M97.1 80.6h0M129.6 87.7h0M97.8 85.6h0M140.1 58.7h0M94.8 82.8h0M98.3 84.1h0M95.7 80.3h0M149.0 58.8h0M156.1 66.5h0M163.3 61.3h0M156.8 65.3h0M150.9 58.4h0M128.5 61.6h0M150.5 67.1h0M150.1 66.6h0M157.1 60.0h0M160.8 59.2h0M130.8 84.0h0M150.0 57.8h0M133.0 60.1h0M104.3 71.2h0M121.9 61.6h0M134.5 73.8h0M153.8 67.8h0M135.6 72.9h0M130.1 87.8h0M102.0 75.3h0M111.6 87.0h0M106.1 70.8h0M132.7 77.0h0M152.7 67.7h0M115.4 87.3h0M151.0 57.8h0M141.9 69.0h0M106.7 86.9h0M134.5 75.6h0M98.9 85.4h0M129.2 61.4h0M130.5 85.0h0M158.7 67.5h0M106.8 71.8h0M152.1 57.9h0M139.2 59.4h0M106.5 86.5h0M115.5 88.7h0M156.3 65.7h0M139.6 60.8h0M151.3 67.9h0M131.2 79.2h0M150.3 67.5h0M143.8 57.8h0M149.4 67.6h0M105.4 84.2h0M130.8 79.7h0M158.3 58.1h0M108.8 66.8h0M150.7 57.5h0M147.5 57.1h0M146.7 66.5h0M126.8 76.9h0M163.0 63.0h0M162.5 62.1h0M156.7 65.1h0M146.8 68.2h0M113.8 70.6h0M134.0 58.6h0M130.2 82.3h0M136.2 72.2h0M121.7 91.6h0M158.0 58.8h0M100.3 87.2h0M131.1 58.4h0M129.6 82.5h0M115.2 61.3h0M126.9 65.5h0"/><path stroke="#EE3342" d="M182.8 41.3h0M149.1 28.7h0M153.5 32.9h0M146.9 29.7h0M178.5 52.0h0M168.6 24.7h0M147.8 28.1h0M159.1 36.9h0M147.0 29.1h0M180.8 33.9h0M175.8 54.2h0M180.8 33.8h0M153.8 17.5h0M165.4 21.7h0M148.7 18.1h0M156.1 18.7h0M181.2 49.1h0M165.1 22.6h0M153.7 33.5h0M163.3 42.6h0M173.8 25.6h0M156.5 17.8h0M171.9 55.2h0M146.5 17.1h0M160.7 19.2h0M159.4 40.6h0M180.6 48.7h0M145.5 19.3h0M176.2 27.1h0M142.4 23.9h0M180.1 50.3h0M157.1 34.9h0M179.6 51.5h0M157.3 36.0h0M160.6 19.7h0M173.4 55.0h0M141.6 22.0h0M178.9 29.4h0M175.6 25.0h0M176.0 53.6h0M163.1 44.3h0M176.0 25.7h0M180.2 46.7h0M181.7 36.5h0M182.0 36.3h0M177.3 27.3h0M172.9 26.7h0M173.5 54.3h0M167.1 51.3h0M170.9 22.4h0M176.9 53.1h0M177.9 51.2h0M178.7 30.5h0M172.5 24.3h0M163.3 41.3h0M181.0 45.9h0M179.9 47.9h0M158.7 39.1h0M181.2 42.5h0M175.1 26.2h0M164.9 45.9h0M182.4 44.1h0M163.4 19.8h0M163.3 20.8h0M146.9 27.8h0M182.0 43.4h0M163.7 43.4h0M163.6 21.2h0M180.4 49.0h0M168.7 21.8h0M149.7 19.2h0M178.5 52.3h0M162.6 40.4h0M165.4 45.9h0M180.7 34.2h0M152.5 32.0h0M179.0 31.4h0M177.5 53.1h0M168.8 23.0h0M142.9 26.5h0M154.3 32.9h0M164.1 47.3h0M156.7 18.5h0M150.9 32.2h0M168.7 23.0h0M177.8 52.1h0M183.0 35.5h0M146.9 28.4h0M150.8 17.3h0M179.8 48.5h0M181.6 37.1h0M175.7 54.4h0M181.7 43.6h0M163.9 22.5h0M162.9 22.1h0M169.5 53.4h0M151.3 32.3h0M162.9 21.3h0M143.3 21.5h0M168.9 53.1h0M152.4 18.6h0M179.9 50.7h0M164.3 48.2h0M145.7 27.9h0M165.1 47.0h0M162.5 20.0h0M158.0 17.9h0M164.3 47.4h0M168.1 51.8h0M162.5 42.4h0M181.7 35.5h0M165.6 49.0h0M180.3 34.2h0M148.4 29.2h0M170.6 23.6h0M179.5 51.9h0M160.8 40.0h0M173.4 56.0h0M169.2 23.0h0M159.1 40.8h0M146.7 28.8h0M151.0 34.9h0M168.8 23.0h0M182.2 47.4h0M161.7 38.1h0M178.2 32.2h0M161.4 40.9h0M163.9 16.8h0M184.9 36.1h0M161.0 38.0h0M163.8 48.6h0M147.3 17.2h0M91.6 63.5h0M93.5 56.6h0M95.2 59.9h0M95.7 57.0h0M88.1 58.2h0M84.8 60.7h0M87.1 57.5h0M85.8 62.9h0M87.8 62.2h0M89.6 57.9h0M95.0 56.7h0M86.5 62.7h0M93.4 57.8h0M90.7 62.5h0M96.5 59.8h0M92.7 57.3h0M86.7 63.2h0M95.6 60.9h0M97.5 58.8h0M93.5 60.7h0M96.2 57.5h0M92.4 61.8h0M92.4 61.6h0M89.9 57.2h0M91.3 57.1h0M97.7 56.9h0M88.9 58.1h0M99.0 59.4h0M84.9 61.6h0M93.1 61.8h0M98.3 58.7h0M91.0 61.6h0M90.2 67.8h0M86.5 63.5h0M92.4 65.3h0"/><path stroke="#17AE6E" d="M90.8 65.0h0M79.7 104.8h0M73.0 105.2h0M57.4 89.3h0M87.8 62.0h0M81.0 76.8h0M80.0 86.1h0M71.9 66.7h0M86.9 65.4h0M60.3 93.4h0M60.5 97.1h0M70.6 103.6h0M83.0 72.9h0M59.9 72.6h0M74.2 105.0h0M61.6 97.0h0M83.9 70.2h0M64.9 98.6h0M67.0 103.2h0M59.0 93.4h0M66.2 102.5h0M78.5 85.8h0M62.6 72.9h0M56.8 85.6h0M61.2 97.4h0M79.1 103.5h0M73.0 105.5h0M83.4 61.3h0M79.6 86.7h0M81.5 75.7h0M81.9 97.5h0M73.6 104.9h0M87.7 66.4h0M62.7 98.0h0M79.8 103.0h0M82.7 62.1h0M87.4 67.9h0M82.9 72.1h0M81.7 73.5h0M64.3 98.1h0M58.3 77.9h0M62.9 70.2h0M58.4 76.4h0M59.5 76.6h0M73.8 106.0h0M81.4 93.9h0M78.8 80.4h0M60.6 74.8h0M88.5 65.7h0M79.5 80.7h0M81.3 73.6h0M78.2 85.1h0M59.1 73.5h0M78.2 89.2h0M61.0 97.2h0M67.6 68.0h0M79.3 61.5h0M61.4 98.4h0M63.8 98.7h0M57.4 87.9h0M85.6 69.5h0M73.0 104.3h0M62.2 95.5h0M88.7 66.3h0M81.5 61.6h0M59.1 93.3h0M78.9 88.7h0M81.0 94.5h0M82.0 93.6h0M79.5 103.9h0M62.8 98.3h0M81.7 97.9h0M64.5 99.6h0M79.8 90.2h0M62.7 71.7h0M82.2 71.7h0M78.2 105.3h0M80.2 75.9h0M77.1 63.1h0M77.7 106.4h0M85.5 68.1h0M88.9 66.0h0M72.1 64.7h0M61.8 97.0h0M56.8 83.7h0M77.9 81.1h0M73.5 104.9h0M56.5 86.5h0M76.5 61.6h0M81.2 75.1h0M71.4 106.2h0M70.8 65.6h0M60.7 73.7h0M65.3 68.3h0M87.7 63.0h0M57.9 92.9h0M78.2 88.5h0M79.7 104.2h0M67.9 101.4h0M79.6 78.9h0M81.8 95.4h0M75.4 107.1h0M71.3 105.5h0M62.3 71.6h0M89.4 63.0h0M71.3 105.0h0M87.8 63.0h0M81.4 80.4h0M78.9 88.7h0M76.7 62.3h0M85.6 67.5h0M83.9 71.5h0M72.8 64.8h0M83.0 71.1h0M62.8 97.6h0M68.1 103.1h0M87.8 60.9h0M80.7 94.3h0M70.0 105.1h0M77.2 105.9h0M85.1 70.2h0M57.2 81.9h0M88.5 63.9h0M82.3 72.4h0M81.6 103.8h0M64.2 68.4h0M68.1 64.4h0M80.5 100.6h0M85.7 72.2h0M82.3 61.6h0M77.6 75.4h0M83.8 67.9h0M62.7 104.9h0M83.3 65.5h0M67.6 71.3h0M72.7 108.6h0M86.3 63.3h0M87.3 70.0h0M78.9 88.2h0M62.9 71.0h0"/><path stroke="#F4E829" d="M159.9 72.0h0M139.3 70.5h0M130.2 79.3h0M135.1 75.1h0M143.9 92.4h0M142.3 69.1h0M157.9 94.6h0M143.6 93.1h0M136.1 86.6h0M166.4 74.9h0M136.6 69.3h0M136.4 71.5h0M171.0 81.3h0M153.9 69.9h0M133.7 84.9h0M161.9 96.1h0M140.5 69.9h0M135.4 85.4h0M152.8 96.2h0M137.6 90.3h0M149.7 68.8h0M170.2 81.8h0M144.7 94.1h0M166.1 76.5h0M132.2 76.8h0M158.6 71.1h0M134.9 72.7h0M157.6 70.9h0M166.4 94.3h0M169.7 82.6h0M157.2 95.7h0M168.5 92.8h0M153.3 95.4h0M133.3 81.8h0M167.4 94.3h0M149.3 68.4h0M167.9 92.9h0M169.3 82.2h0M145.2 94.2h0M166.9 76.6h0M161.6 71.6h0M146.1 93.7h0M148.1 70.4h0M156.9 70.2h0M136.7 88.0h0M159.0 71.6h0M168.2 77.7h0M132.6 79.6h0M171.6 86.1h0M149.3 95.5h0M131.2 75.9h0M149.9 69.3h0M135.0 72.2h0M172.5 85.3h0M171.8 88.7h0M138.1 69.7h0M144.9 66.8h0M170.2 83.7h0M172.1 88.1h0M133.8 83.7h0M135.1 73.4h0M138.9 68.8h0M158.4 95.1h0M132.3 81.9h0M134.9 72.3h0M142.8 68.9h0M144.2 93.6h0M145.1 67.7h0M168.4 94.1h0M149.0 68.8h0M135.6 73.8h0M171.4 82.7h0M161.6 95.3h0M150.9 68.8h0M146.8 93.6h0M135.2 75.0h0M169.5 89.1h0M138.1 69.0h0M139.1 68.4h0M170.1 92.7h0M154.5 95.4h0M163.5 73.9h0M169.4 92.2h0M139.0 69.5h0M162.9 95.6h0M133.1 80.8h0M149.7 94.6h0M142.7 69.7h0M147.8 68.2h0M132.5 82.9h0M164.7 75.2h0M160.3 95.6h0M152.1 96.3h0M164.1 96.2h0M154.6 70.2h0M135.1 86.3h0M136.4 85.8h0M156.8 69.5h0M167.2 78.4h0M139.8 69.3h0M148.2 69.2h0M170.4 82.2h0M136.0 71.3h0M159.0 94.8h0M158.5 96.2h0M168.4 93.5h0M141.7 68.8h0M168.8 96.4h0M156.1 91.8h0M144.5 90.9h0M160.8 71.1h0M166.2 94.3h0M145.0 69.1h0M139.6 90.1h0M136.8 87.8h0M136.8 64.6h0M160.8 88.6h0M134.2 75.1h0M157.4 95.7h0"/><path stroke="#C52A97" d="M112.5 10.5h0M120.2 25.3h0M106.9 34.8h0M107.5 35.8h0M125.3 13.9h0M118.7 10.5h0M103.1 12.6h0M117.9 12.2h0M96.0 44.1h0M120.3 13.2h0M94.2 25.9h0M97.8 43.4h0M101.6 44.1h0M114.9 10.1h0M96.4 39.4h0M101.7 42.4h0M112.8 32.0h0M95.0 28.7h0M125.1 23.2h0M112.9 12.4h0M105.3 38.1h0M118.2 11.7h0M117.7 29.4h0M111.9 32.0h0M94.6 25.3h0M108.2 12.2h0M105.2 12.2h0M99.1 42.2h0M102.3 12.5h0M117.0 28.1h0M115.7 28.5h0M93.9 24.5h0M99.1 18.2h0M116.1 11.7h0M95.2 17.8h0M101.7 45.3h0M98.3 45.8h0M110.4 10.0h0M124.3 18.7h0M94.9 17.5h0M103.1 12.3h0M92.4 21.7h0M101.4 43.8h0M115.2 30.9h0M110.9 33.8h0M97.5 37.6h0M95.9 27.6h0M97.3 31.4h0M96.6 42.1h0M96.1 30.0h0M116.5 11.4h0M113.6 11.9h0M123.2 16.2h0M99.4 32.8h0M98.9 45.2h0M93.4 20.3h0M116.7 28.7h0M103.4 12.5h0M121.8 25.5h0M108.0 35.6h0M98.1 31.7h0M105.8 39.2h0M94.2 22.8h0M95.2 17.0h0M104.3 40.0h0M109.4 33.2h0M98.8 45.3h0M94.3 25.4h0M95.3 17.0h0M122.8 12.3h0M97.7 33.9h0M95.3 25.9h0M104.1 37.2h0M98.0 43.5h0M94.3 19.6h0M118.2 25.8h0M96.5 17.1h0M110.2 10.1h0M118.6 12.4h0M97.2 38.5h0M103.4 42.9h0M117.9 28.7h0M121.5 13.1h0M102.2 13.2h0M97.1 37.4h0M97.0 37.9h0M120.9 26.2h0M103.8 40.1h0M109.9 34.0h0M119.2 11.8h0M106.5 12.1h0M107.0 11.4h0M100.1 12.5h0M115.9 29.1h0M100.4 43.3h0M118.9 27.6h0M96.5 19.5h0M125.4 16.3h0M95.0 25.9h0M95.4 29.1h0M98.1 39.2h0M124.9 22.7h0M96.2 40.6h0M126.1 19.1h0M94.2 21.9h0M122.0 29.0h0M94.6 16.6h0M93.8 37.7h0M96.5 28.2h0M98.0 41.6h0M95.9 35.8h0M105.3 14.5h0M107.8 3.4h0M125.0 29.1h0M104.2 35.8h0M101.2 43.1h0M101.9 13.5h0"/><path stroke="#1FBAA3" d="M106.5 147.5h0M99.2 131.4h0M102.2 127.6h0M112.1 126.3h0M102.5 143.9h0M99.0 132.5h0M114.1 126.9h0M99.1 137.9h0M107.0 146.8h0M129.9 137.7h0M99.8 130.4h0M130.1 135.9h0M118.6 129.5h0M122.2 149.0h0M101.3 128.7h0M109.0 126.6h0M127.8 148.2h0M98.3 137.7h0M112.7 151.5h0M121.3 152.3h0M104.7 146.7h0M98.6 140.0h0M102.4 146.1h0M98.5 131.6h0M114.6 154.0h0M125.1 131.6h0M102.9 145.7h0M128.8 145.7h0M118.4 129.9h0M100.4 140.6h0M130.4 145.9h0M129.9 142.3h0M99.9 141.6h0M98.9 129.9h0M129.7 134.7h0M110.7 150.4h0M125.3 130.8h0M121.0 150.3h0M130.1 144.5h0M123.9 131.8h0M111.9 152.3h0M104.7 146.5h0M98.1 134.0h0M97.3 132.7h0M98.2 136.7h0M104.9 128.2h0M130.2 143.5h0M98.0 139.9h0M129.7 136.4h0M116.6 154.2h0M123.9 150.0h0M120.0 152.1h0M103.5 147.3h0M99.4 136.9h0M123.3 151.8h0M130.5 136.7h0M128.5 144.6h0M109.9 148.2h0M105.1 147.5h0M105.3 145.6h0M120.9 131.7h0M106.3 146.5h0M100.3 140.2h0M113.6 152.4h0M99.8 130.9h0M103.0 127.1h0M128.1 148.2h0M102.1 128.8h0M114.2 156.4h0M101.4 129.6h0M110.2 128.0h0M101.9 129.2h0M124.8 148.6h0M118.9 154.3h0M130.0 143.9h0M129.1 141.5h0M129.7 145.6h0M113.7 152.9h0M125.6 147.6h0M125.7 130.8h0M104.9 127.0h0M101.5 128.8h0M114.6 153.5h0M97.9 134.8h0M116.3 125.5h0M131.2 138.2h0M128.9 135.3h0M99.2 140.9h0M113.5 152.7h0M99.0 133.2h0M129.4 144.6h0M102.9 143.9h0M118.2 153.8h0M104.6 127.7h0M120.4 153.1h0M123.1 130.4h0M104.8 149.6h0M95.2 128.3h0M125.3 150.0h0M122.4 134.7h0M97.3 129.9h0M100.8 132.8h0M104.0 123.4h0M105.6 128.2h0M109.7 150.7h0M101.2 128.2h0M124.0 151.0h0"/><path stroke="#F5813F" d="M203.2 101.0h0M184.4 111.0h0M176.4 97.1h0M191.1 85.1h0M205.3 99.2h0M179.7 106.0h0M192.8 110.4h0M199.2 102.6h0M175.6 95.0h0M182.2 108.8h0M186.5 87.9h0M179.8 92.9h0M204.5 98.1h0M192.9 84.4h0M203.3 99.7h0M180.9 108.2h0M189.5 87.0h0M173.9 92.3h0M204.3 98.7h0M193.0 112.9h0M178.7 92.1h0M191.9 85.0h0M186.7 112.4h0M183.5 110.9h0M177.3 98.2h0M200.7 102.2h0M202.5 100.1h0M195.8 107.1h0M181.9 107.1h0M206.6 90.8h0M176.5 96.6h0M177.6 93.0h0M206.6 98.2h0M195.6 83.2h0M187.7 112.5h0M202.6 84.6h0M197.1 82.3h0M185.1 112.6h0M182.0 89.2h0M195.4 110.6h0M195.1 81.2h0M197.4 82.5h0M200.1 81.6h0M175.1 91.1h0M175.7 92.6h0M188.4 87.2h0M206.3 98.0h0M189.1 113.1h0M181.1 106.2h0M194.9 107.5h0M192.5 85.3h0M196.3 105.0h0M194.1 82.4h0M177.7 90.9h0M203.1 87.3h0M177.8 100.1h0M197.4 109.7h0M197.6 83.3h0M206.0 96.0h0M177.7 91.2h0M205.7 91.2h0M201.8 101.2h0M181.7 91.3h0M205.4 90.4h0M191.2 84.8h0M204.2 95.2h0M202.3 100.3h0M181.5 108.0h0M204.2 89.3h0M187.3 111.9h0M202.3 82.7h0M196.1 109.5h0M200.9 83.3h0M203.4 84.2h0M204.6 89.1h0M207.4 94.3h0M182.0 107.1h0M196.1 107.3h0M200.6 101.8h0M192.0 83.7h0M183.6 112.2h0M181.1 107.5h0M175.2 97.6h0M177.7 93.1h0M188.5 113.1h0M190.5 113.0h0M197.0 81.1h0M202.4 101.5h0M175.9 93.9h0M184.4 111.9h0M196.0 109.6h0M182.7 109.8h0M196.0 81.6h0M206.8 97.2h0M190.4 113.0h0M183.7 113.4h0M202.1 82.7h0M179.2 87.3h0M178.4 109.1h0M195.4 110.7h0M183.6 116.4h0M185.8 82.5h0M188.9 108.9h0M203.9 91.6h0M187.4 88.5h0M175.0 89.5h0M193.2 114.9h0M209.3 98.8h0"/><path stroke="#7553AB" d="M128.8 34.0h0M146.1 50.4h0M136.4 51.5h0M143.4 52.2h0M147.3 52.2h0M120.5 47.2h0M139.5 51.3h0M124.7 34.5h0M140.4 40.1h0M142.2 40.9h0M142.2 45.2h0M134.8 50.8h0M139.7 38.2h0M127.0 35.4h0M144.1 37.7h0M138.3 35.0h0M129.7 33.4h0M138.1 54.3h0M126.3 52.2h0M125.5 34.5h0M142.2 43.1h0M124.1 34.0h0M146.6 51.4h0M146.7 47.7h0M130.8 52.5h0M140.4 40.5h0M120.6 37.2h0M134.2 35.8h0M129.8 34.9h0M129.0 36.1h0M140.8 52.6h0M142.2 37.6h0M142.7 52.9h0M138.7 51.2h0M123.8 48.0h0M119.8 45.8h0M140.0 36.1h0M122.5 50.8h0M122.3 39.3h0M119.1 39.5h0M120.5 39.3h0M136.8 50.7h0M141.6 41.0h0M125.9 35.0h0M125.4 54.0h0M123.4 49.3h0M135.6 34.4h0M122.7 48.5h0M141.0 45.2h0M144.5 46.5h0M120.6 38.8h0M146.2 49.9h0M143.0 46.7h0M128.6 34.3h0M142.2 41.9h0M143.1 38.8h0M126.3 34.4h0M141.5 51.7h0M133.0 52.6h0M122.2 49.9h0M120.3 42.8h0M142.5 51.4h0M140.4 44.6h0M131.3 34.2h0M120.8 38.4h0M121.2 48.1h0M136.5 37.6h0M127.8 32.9h0M141.0 41.3h0M119.7 49.0h0M145.4 48.9h0M126.9 52.1h0M141.6 44.0h0M146.0 48.7h0M131.7 34.7h0M140.2 38.5h0M143.1 54.8h0M142.6 57.9h0M134.9 34.2h0M121.5 34.7h0M143.9 42.7h0M139.1 36.7h0M129.9 35.8h0M129.7 51.2h0M132.2 52.9h0"/><path stroke="#C5C5E8" d="M202.0 79.2h0M176.6 63.1h0M183.0 73.6h0M202.5 76.3h0M176.4 68.2h0M201.4 72.3h0M186.9 62.5h0M181.7 63.8h0M182.4 62.2h0M175.7 65.0h0M177.0 67.8h0M191.1 63.6h0M198.4 82.1h0M176.8 69.4h0M195.4 81.3h0M178.5 63.6h0M202.3 78.6h0M178.8 70.8h0M175.4 68.1h0M198.5 82.1h0M182.8 73.9h0M196.7 82.3h0M199.1 69.7h0M201.5 75.0h0M197.9 68.3h0M189.3 63.7h0M192.7 63.9h0M186.4 62.3h0M177.7 70.5h0M192.8 79.2h0M186.6 74.8h0M201.3 78.5h0M176.4 63.8h0M197.0 66.9h0M201.1 80.9h0M201.8 76.7h0M194.2 80.7h0M189.5 76.5h0M199.5 70.8h0M202.5 80.3h0M198.4 72.3h0M186.1 62.7h0M185.6 62.7h0M181.6 63.0h0M201.8 78.8h0M203.6 78.9h0M180.1 72.5h0M181.8 71.9h0M193.2 65.1h0M192.4 78.4h0M175.1 67.6h0M198.7 82.7h0M191.6 79.0h0M185.9 75.4h0M201.2 81.3h0M174.3 64.7h0M187.2 76.3h0M196.4 66.5h0M190.1 77.6h0M200.3 72.1h0M194.1 79.0h0M177.1 66.4h0M195.6 68.7h0M197.2 80.7h0M177.7 68.6h0M194.7 64.5h0M201.5 75.4h0M201.7 79.0h0M202.1 77.9h0M177.9 68.6h0M191.5 79.3h0M200.4 74.3h0M196.1 81.4h0M185.9 60.7h0M177.6 62.0h0M195.2 82.8h0M197.2 80.3h0M200.3 69.8h0M194.4 80.5h0M201.1 83.4h0M181.1 74.7h0"/><path stroke="#C393D1" d="M82.2 109.7h0M110.9 97.9h0M78.6 106.9h0M114.3 104.4h0M113.0 101.7h0M113.9 102.5h0M81.8 110.4h0M84.6 108.4h0M93.6 110.4h0M97.9 110.5h0M89.5 109.2h0M109.6 98.1h0M88.9 108.6h0M88.8 109.6h0M87.8 110.1h0M107.3 109.6h0M106.3 99.5h0M109.1 99.9h0M89.4 110.0h0M96.5 109.8h0M89.4 101.2h0M95.1 109.4h0M108.6 108.5h0M109.2 108.4h0M89.2 102.8h0M79.8 104.2h0M97.0 109.7h0M98.1 110.5h0M103.9 107.3h0M92.3 110.0h0M80.6 109.2h0M85.3 102.0h0M78.8 106.8h0M93.1 108.8h0M95.8 101.2h0M96.8 99.9h0M102.3 98.3h0M107.2 98.7h0M113.8 103.0h0M90.3 111.7h0M107.2 99.7h0M103.2 109.7h0M112.2 107.3h0M105.4 108.1h0M94.7 109.9h0M99.2 101.1h0M110.5 109.3h0M91.0 101.5h0M91.4 111.0h0M113.8 104.9h0M101.5 109.0h0M80.8 105.6h0M84.2 110.0h0M99.8 99.4h0M104.1 98.2h0M89.7 103.9h0M81.1 108.0h0M92.9 111.8h0M89.1 110.8h0M89.6 103.2h0M104.7 99.7h0M90.5 103.5h0M89.7 101.8h0M110.4 108.5h0M85.2 103.5h0M109.6 97.6h0M92.4 109.1h0M91.2 100.7h0M97.7 109.5h0M112.8 108.1h0M83.5 109.0h0M112.1 103.4h0M87.2 103.6h0M98.2 110.2h0M111.1 100.0h0M110.3 99.2h0M96.3 109.4h0M111.4 107.7h0M81.7 104.5h0M99.7 109.2h0M95.3 110.0h0M111.3 100.9h0M99.0 102.4h0M108.0 110.9h0M93.6 110.3h0M85.7 100.0h0M90.2 101.2h0M90.1 105.5h0M88.2 98.6h0"/><path stroke="#F7B3B6" d="M201.9 50.8h0M205.8 44.5h0M210.5 53.4h0M206.3 55.1h0M204.6 47.7h0M202.8 47.9h0M209.5 48.7h0M210.8 49.5h0M203.1 45.3h0M201.9 47.8h0M210.2 49.8h0M208.7 45.9h0M203.7 48.4h0M211.4 49.0h0M210.9 44.9h0M201.7 49.9h0M209.0 52.6h0M201.4 51.4h0M201.8 51.2h0M211.8 46.9h0M209.9 51.8h0M211.4 49.4h0M206.0 45.6h0M210.2 44.9h0M209.9 51.5h0M210.1 46.1h0M205.0 52.6h0M202.0 49.1h0M210.1 45.3h0M209.2 50.8h0M203.7 51.4h0M217.1 67.2h0M216.0 60.0h0M225.6 64.7h0M214.9 65.9h0M223.4 63.8h0M213.6 62.0h0M217.8 62.2h0M218.0 68.0h0M216.8 67.6h0M213.8 62.4h0M224.9 65.5h0M213.6 65.2h0M217.2 67.5h0M224.4 64.4h0M216.4 67.6h0M220.8 67.8h0M214.7 61.7h0M218.8 63.0h0M222.2 67.0h0M222.0 67.4h0M217.2 62.1h0M218.0 61.8h0M213.5 63.2h0M214.2 61.5h0M213.6 65.1h0M223.0 66.2h0M217.9 62.2h0M223.3 66.4h0M220.0 65.1h0M224.7 67.8h0M225.0 68.3h0"/><path stroke="#EFC2A9" d="M39.6 64.2h0M43.1 61.1h0M43.4 66.6h0M44.0 64.6h0M41.6 70.4h0M45.1 67.8h0M41.6 62.1h0M40.8 61.3h0M41.1 62.3h0M43.6 68.9h0M41.5 67.8h0M41.4 67.4h0M38.5 65.8h0M44.4 66.3h0M44.7 61.5h0M43.6 69.1h0M40.7 60.8h0M44.9 65.7h0M40.0 66.2h0M38.5 62.4h0M41.2 61.1h0M42.8 69.0h0M41.8 67.3h0M44.4 59.9h0M42.1 63.3h0"/><path stroke="#1B2470" d="M72.3 52.5h0M67.0 50.8h0M68.5 52.5h0M64.6 46.6h0M60.4 48.3h0M64.8 47.0h0M73.9 51.5h0M63.7 47.3h0M71.1 47.2h0M62.2 48.3h0M73.7 51.3h0M74.9 50.1h0M63.0 47.7h0M61.9 47.1h0M69.5 53.2h0M64.9 47.6h0M62.4 49.4h0M66.5 50.5h0M73.7 49.8h0M66.2 47.5h0M65.4 45.3h0M72.7 50.2h0M66.4 52.1h0M70.2 51.4h0M62.3 48.1h0M71.2 49.0h0M72.1 51.6h0M68.1 49.7h0M63.0 49.8h0M73.4 52.1h0M64.0 53.0h0M64.5 46.4h0M63.4 44.0h0"/><path stroke="#19A5C8" d="M72.8 27.7h0M68.0 32.8h0M73.2 26.8h0M74.6 32.4h0M68.5 29.9h0M73.1 27.7h0M77.1 30.0h0M73.1 32.2h0M72.7 32.4h0M74.8 32.4h0M72.7 28.2h0M67.3 29.0h0M67.2 30.4h0M71.1 33.4h0M64.9 30.1h0M69.0 29.4h0M76.0 31.3h0M75.5 30.1h0M67.1 32.3h0M69.5 33.5h0M73.7 29.1h0M66.4 32.7h0M74.7 32.3h0M67.7 33.9h0M68.6 33.8h0M71.3 29.5h0M71.5 28.6h0M69.9 33.5h0M73.7 27.8h0M71.0 32.7h0"/><path stroke="#A5CF43" d="M83.2 37.2h0M82.9 39.8h0M80.8 39.0h0M81.3 36.8h0M81.0 40.2h0M81.3 38.6h0M81.5 37.8h0M82.1 36.7h0M82.8 39.7h0M79.0 41.8h0"/></g><g fill="none" stroke-width="1.2" stroke-linecap="square"><path stroke="#EE3342" d="M108.1 103.3h0M149.4 103.6h0M134.1 65.6h0M98.2 68.8h0M131.2 102.8h0M95.4 64.8h0"/><path stroke="#F8A62A" d="M120.9 114.0h0M135.1 80.6h0M145.2 77.3h0M107.5 105.1h0M198.2 107.2h0M175.0 88.9h0M177.0 55.5h0M179.9 111.2h0"/><path stroke="#17AE6E" d="M178.9 90.9h0M198.8 60.0h0M127.5 65.2h0M91.6 79.3h0"/><path stroke="#22C4EE" d="M148.0 110.2h0M171.5 61.2h0M147.8 106.0h0M165.4 121.8h0M112.2 107.1h0M156.4 90.3h0M196.0 97.4h0"/><path stroke="#F4E829" d="M130.8 96.0h0M132.5 56.9h0M125.1 123.6h0M104.7 61.6h0M147.8 94.2h0"/><path stroke="#C393D1" d="M105.9 107.6h0M94.1 115.6h0M142.4 112.9h0M147.2 101.1h0M131.3 72.3h0M119.1 77.8h0"/><path stroke="#F5813F" d="M166.3 85.6h0M97.2 112.0h0M107.9 59.9h0M93.8 72.4h0M105.3 105.5h0M108.3 67.9h0"/><path stroke="#C52A97" d="M157.7 57.4h0M139.8 93.6h0M109.9 66.9h0M194.8 118.0h0M103.9 92.7h0M96.6 96.6h0"/><path stroke="#C5C5E8" d="M194.7 80.8h0M192.3 72.2h0M97.6 78.7h0M165.1 107.6h0M110.5 99.9h0"/><path stroke="#F7B3B6" d="M196.6 117.6h0M90.3 59.9h0M172.3 70.5h0M181.7 78.3h0M134.8 124.2h0M177.5 116.7h0M133.6 117.2h0M185.1 82.9h0M194.3 61.9h0M196.4 76.7h0"/><path stroke="#7553AB" d="M175.1 88.8h0M95.7 73.1h0M123.9 92.4h0M183.7 95.9h0M97.9 63.3h0M109.3 104.8h0M116.9 65.9h0"/></g><g fill="none" stroke-width="1.2" stroke-linecap="square"><path stroke="#7553AB" d="M115.5 33.0h0M122.9 47.3h0M124.5 23.6h0"/><path stroke="#22C4EE" d="M92.0 32.7h0M116.4 52.3h0M105.5 57.9h0M102.4 40.5h0M66.3 21.0h0M133.6 49.0h0M124.5 55.6h0M74.6 28.1h0M67.2 32.1h0"/><path stroke="#C52A97" d="M69.7 23.0h0M103.8 45.3h0M115.3 53.0h0"/><path stroke="#17AE6E" d="M63.8 31.0h0M116.4 50.3h0"/><path stroke="#EE3342" d="M131.8 36.0h0M63.4 26.9h0M103.3 39.9h0"/></g><path d="M119.3 116.4h0" stroke="#C52A97" stroke-width="2.2" stroke-linecap="round"/><g fill="none" stroke-width="1.2" stroke-linecap="square"><path stroke="#F4E829" d="M450.7 72.7h0M438.6 56.3h0M464.4 98.0h0M443.0 45.6h0M445.1 56.2h0"/><path stroke="#F5813F" d="M469.3 55.0h0M415.8 67.7h0M407.5 79.2h0M444.4 49.4h0M440.5 82.2h0M464.8 77.3h0"/><path stroke="#F8A62A" d="M410.4 65.1h0M465.9 103.0h0M433.0 59.3h0M444.9 85.2h0M455.8 101.1h0M397.9 81.5h0M462.5 89.8h0M432.1 85.8h0M440.5 83.0h0"/><path stroke="#C5C5E8" d="M466.3 64.3h0M468.1 57.9h0M429.1 98.7h0M415.2 66.2h0M445.9 56.4h0M411.0 47.4h0"/><path stroke="#C393D1" d="M430.0 71.2h0M422.6 49.5h0M428.7 104.4h0M411.9 93.1h0M409.1 48.6h0M421.4 54.7h0M409.9 56.6h0"/><path stroke="#22C4EE" d="M423.8 61.3h0M406.1 103.4h0M434.7 47.9h0M426.3 98.0h0M445.9 85.6h0M425.0 46.9h0M426.8 64.5h0"/></g><path d="M316.5 44.0 318.0 36.0 322.0 30.0 328.0 27.0 335.0 25.5 342.0 25.8 350.0 27.5 357.0 30.5 362.0 33.0 364.5 36.5 363.0 39.5 359.0 38.0 354.0 35.5 348.0 33.5 341.0 32.0 334.0 32.2 329.0 34.5 326.0 38.0 326.0 42.0 328.0 46.0 329.5 49.5 326.0 50.5 321.0 49.5 317.5 47.5Z" fill="#EE3342"/><path d="M360.0 38.0 364.0 35.5 369.0 36.5 371.5 42.0 372.5 50.0 373.0 58.0 374.0 66.0 376.0 72.0 378.0 77.0 372.0 79.0 366.0 78.0 362.0 72.0 360.5 64.0 360.0 55.0 359.5 46.0Z" fill="#17AE6E"/><path d="M372.0 76.0 380.0 72.0 388.0 68.0 393.0 62.0 394.0 57.0 397.0 57.0 400.0 60.0 403.0 63.0 401.0 67.0 396.0 71.0 390.0 75.0 383.0 78.0 376.0 80.0Z" fill="#C393D1"/><path d="M446.0 22.0 452.0 17.0 460.0 10.0 468.0 9.0 475.0 12.0 479.0 16.0 477.0 26.0 478.0 36.0 475.0 43.0 468.0 44.0 466.0 40.0 464.0 32.0 460.0 28.0 452.0 25.0Z" fill="#F8A62A"/><path d="M459.0 54.0 464.0 49.0 472.0 48.0 478.0 51.0 480.0 58.0 477.0 64.0 470.0 67.0 463.0 65.0 459.0 60.0Z" fill="#1FBAA3"/><path d="M405.2 74.0 410.3 67.6 412.8 62.5 416.0 56.0 420.0 53.5 425.0 53.0 429.0 58.0 431.0 65.0 425.0 69.0 417.0 72.0 411.0 75.0 406.0 76.0Z" fill="#F5813F"/><path d="M414.0 72.7 424.3 67.6 433.2 66.4 443.3 70.2 449.7 74.0 451.0 76.5 445.9 79.0 440.8 85.4 435.7 90.5 428.1 90.5 420.4 89.3 415.4 86.7 412.8 80.4Z" fill="#F4E829"/><path d="M447.0 71.0 452.0 64.0 457.0 58.0 459.0 59.0 454.0 66.0 450.0 74.0Z" fill="#F4E829"/><path d="M400.0 55.0 403.0 52.0 405.0 56.0 404.0 60.0 401.0 60.0Z" fill="#F4E829"/><path d="M405.2 94.4 410.3 90.5 420.4 90.5 433.2 90.5 438.3 85.4 443.3 80.4 448.4 77.8 453.5 79.0 458.6 82.9 463.7 84.2 463.7 86.7 456.1 85.4 452.3 88.0 448.4 93.1 443.3 96.9 435.7 100.7 425.5 102.0 415.4 100.7 407.7 98.2Z" fill="#22C4EE"/><path d="M397.5 89.3 402.6 84.2 406.5 79.0 410.3 76.5 412.8 79.0 411.5 84.2 409.0 89.3 405.2 94.4 401.4 96.9 396.3 96.9 395.6 93.1Z" fill="#C5C5E8"/><path d="M396.0 142.0 398.0 138.0 404.0 135.0 410.0 137.0 416.0 141.0 424.0 142.0 426.0 144.0 420.0 146.0 412.0 148.0 408.0 152.0 404.0 154.0 400.0 152.0 396.0 148.0Z" fill="#C52A97"/><path d="M414.0 133.0 419.0 131.5 419.5 133.0 414.5 134.5Z" fill="#C52A97"/><path d="M440.0 120.0 446.0 119.0 453.0 120.0 458.0 123.0 463.0 125.0 460.0 128.0 456.0 130.0 452.0 135.0 448.0 136.0 444.0 133.0 441.0 128.0Z" fill="#7553AB"/><path d="M369.0 109.0 371.0 102.0 374.0 99.0 376.0 104.0 375.0 110.0Z" fill="#F7B3B6"/><path d="M395.0 28.0 397.5 27.0 399.0 29.0 398.5 32.0 398.5 38.0 397.5 39.5 396.8 38.0 396.8 33.0 394.0 32.5 394.5 30.0Z" fill="#F7B3B6"/><path d="M489.0 110.0 495.0 109.5 500.0 111.0 499.0 113.0 490.0 113.0Z" fill="#EFC2A9"/><path d="M465.0 85.0 473.0 87.0 478.0 90.0 477.0 92.0 471.0 90.0 465.0 88.0Z" fill="#1B2470"/><path d="M388.0 123.0 391.0 123.0 391.0 127.0 388.0 127.0Z" fill="#19A5C8"/><path d="M405.0 115.0 407.0 115.0 407.0 117.5 405.0 117.5Z" fill="#A5CF43"/><path d="M316.5 44.0 318.0 36.0 322.0 30.0 328.0 27.0 335.0 25.5 342.0 25.8 350.0 27.5 357.0 30.5 362.0 33.0 364.5 36.5 363.0 39.5 359.0 38.0 354.0 35.5 348.0 33.5 341.0 32.0 334.0 32.2 329.0 34.5 326.0 38.0 326.0 42.0 328.0 46.0 329.5 49.5 326.0 50.5 321.0 49.5 317.5 47.5ZM360.0 38.0 364.0 35.5 369.0 36.5 371.5 42.0 372.5 50.0 373.0 58.0 374.0 66.0 376.0 72.0 378.0 77.0 372.0 79.0 366.0 78.0 362.0 72.0 360.5 64.0 360.0 55.0 359.5 46.0ZM372.0 76.0 380.0 72.0 388.0 68.0 393.0 62.0 394.0 57.0 397.0 57.0 400.0 60.0 403.0 63.0 401.0 67.0 396.0 71.0 390.0 75.0 383.0 78.0 376.0 80.0ZM446.0 22.0 452.0 17.0 460.0 10.0 468.0 9.0 475.0 12.0 479.0 16.0 477.0 26.0 478.0 36.0 475.0 43.0 468.0 44.0 466.0 40.0 464.0 32.0 460.0 28.0 452.0 25.0ZM459.0 54.0 464.0 49.0 472.0 48.0 478.0 51.0 480.0 58.0 477.0 64.0 470.0 67.0 463.0 65.0 459.0 60.0ZM405.2 74.0 410.3 67.6 412.8 62.5 416.0 56.0 420.0 53.5 425.0 53.0 429.0 58.0 431.0 65.0 425.0 69.0 417.0 72.0 411.0 75.0 406.0 76.0ZM414.0 72.7 424.3 67.6 433.2 66.4 443.3 70.2 449.7 74.0 451.0 76.5 445.9 79.0 440.8 85.4 435.7 90.5 428.1 90.5 420.4 89.3 415.4 86.7 412.8 80.4ZM447.0 71.0 452.0 64.0 457.0 58.0 459.0 59.0 454.0 66.0 450.0 74.0ZM400.0 55.0 403.0 52.0 405.0 56.0 404.0 60.0 401.0 60.0ZM405.2 94.4 410.3 90.5 420.4 90.5 433.2 90.5 438.3 85.4 443.3 80.4 448.4 77.8 453.5 79.0 458.6 82.9 463.7 84.2 463.7 86.7 456.1 85.4 452.3 88.0 448.4 93.1 443.3 96.9 435.7 100.7 425.5 102.0 415.4 100.7 407.7 98.2ZM397.5 89.3 402.6 84.2 406.5 79.0 410.3 76.5 412.8 79.0 411.5 84.2 409.0 89.3 405.2 94.4 401.4 96.9 396.3 96.9 395.6 93.1ZM396.0 142.0 398.0 138.0 404.0 135.0 410.0 137.0 416.0 141.0 424.0 142.0 426.0 144.0 420.0 146.0 412.0 148.0 408.0 152.0 404.0 154.0 400.0 152.0 396.0 148.0ZM414.0 133.0 419.0 131.5 419.5 133.0 414.5 134.5ZM440.0 120.0 446.0 119.0 453.0 120.0 458.0 123.0 463.0 125.0 460.0 128.0 456.0 130.0 452.0 135.0 448.0 136.0 444.0 133.0 441.0 128.0ZM489.0 110.0 495.0 109.5 500.0 111.0 499.0 113.0 490.0 113.0ZM465.0 85.0 473.0 87.0 478.0 90.0 477.0 92.0 471.0 90.0 465.0 88.0ZM388.0 123.0 391.0 123.0 391.0 127.0 388.0 127.0ZM405.0 115.0 407.0 115.0 407.0 117.5 405.0 117.5Z" fill="url(#wsp)"/><path d="M369.0 109.0 371.0 102.0 374.0 99.0 376.0 104.0 375.0 110.0ZM395.0 28.0 397.5 27.0 399.0 29.0 398.5 32.0 398.5 38.0 397.5 39.5 396.8 38.0 396.8 33.0 394.0 32.5 394.5 30.0Z" fill="url(#wsp2)"/><g fill="none" stroke-width="1.3" stroke-linecap="square"><path stroke="#EE3342" d="M329.1 25.8h0M328.6 26.0h0M325.6 50.0h0M327.6 36.5h0M326.3 50.3h0M322.5 49.0h0M316.1 43.4h0M347.9 32.3h0M328.6 26.7h0M329.8 52.4h0M354.7 34.4h0M328.7 49.9h0M359.7 32.5h0M325.7 42.1h0M316.2 40.9h0M316.9 40.1h0M322.3 30.4h0M326.9 50.1h0M337.0 26.2h0M327.4 35.2h0M339.1 26.0h0M362.4 40.3h0M365.8 36.6h0M350.9 33.1h0M332.4 33.3h0M359.0 30.9h0M348.7 33.3h0M332.5 27.4h0M325.7 41.5h0M355.4 28.8h0M363.6 37.3h0M348.4 32.3h0M328.7 34.9h0M326.9 35.8h0M333.5 24.6h0M318.8 35.2h0M326.1 27.5h0M337.7 32.6h0M332.4 25.8h0M334.8 24.8h0M342.0 32.7h0M326.4 28.8h0M361.4 33.3h0M342.9 32.3h0M348.6 34.3h0M318.0 49.0h0M343.6 33.2h0M328.2 34.1h0M359.7 39.6h0M316.4 40.7h0M334.6 25.0h0M319.5 33.1h0M325.7 40.3h0M335.2 25.7h0M325.4 26.7h0M336.2 26.2h0M321.0 30.7h0M332.8 25.0h0M319.9 34.3h0M321.0 33.0h0M324.9 42.1h0M316.5 43.5h0M324.0 51.4h0M315.7 39.5h0M326.9 36.2h0M325.0 50.9h0M326.7 36.0h0M327.3 28.0h0M340.3 33.0h0M317.7 37.3h0M349.6 26.1h0M326.1 28.3h0M340.1 32.2h0M356.0 29.2h0M336.1 31.5h0M354.0 36.1h0M361.6 39.8h0M331.7 25.9h0M333.3 26.1h0M328.4 49.3h0M336.3 24.9h0M330.2 33.5h0M342.1 25.3h0M335.9 32.2h0M328.0 49.6h0M338.5 30.9h0M318.9 47.7h0M316.3 45.1h0M317.8 47.7h0M345.3 33.6h0M325.0 38.2h0M327.2 37.2h0M327.4 42.7h0M333.2 32.0h0M340.5 32.6h0M345.9 27.1h0M325.1 28.6h0M364.0 35.6h0M344.7 33.2h0M344.3 27.0h0M359.2 32.9h0M321.5 30.9h0M327.7 44.2h0M345.0 34.1h0M328.3 46.1h0M321.2 50.6h0M325.9 43.6h0M316.3 43.9h0M352.0 28.5h0M326.5 41.2h0M355.5 34.5h0M346.6 34.2h0M321.4 31.6h0M339.9 26.5h0M326.8 37.6h0M331.8 33.9h0M345.1 27.4h0M318.4 45.6h0M323.0 50.4h0M326.6 38.8h0M318.5 45.2h0M319.6 32.4h0M325.9 51.3h0M323.2 28.4h0M317.1 40.3h0M343.9 32.5h0M320.9 48.8h0M351.3 35.7h0M357.1 31.7h0M330.5 27.7h0M337.6 26.3h0M326.9 27.6h0M340.4 26.5h0M322.0 29.8h0M320.0 35.9h0M350.0 33.2h0M336.4 32.8h0M335.9 35.7h0M325.3 33.1h0M346.4 31.8h0M342.7 31.5h0M329.7 53.0h0M341.5 22.8h0M356.9 39.1h0M326.4 44.9h0M320.2 37.0h0M328.9 24.9h0M352.9 35.8h0M326.7 40.4h0M359.2 28.6h0"/><path stroke="#17AE6E" d="M372.4 52.8h0M361.2 37.9h0M370.9 44.7h0M358.5 44.1h0M376.4 76.2h0M365.0 36.4h0M373.3 62.1h0M362.5 71.5h0M371.2 46.9h0M372.6 49.5h0M367.1 77.0h0M369.6 35.9h0M378.3 75.3h0M370.6 44.8h0M377.4 74.5h0M371.0 45.2h0M374.7 74.0h0M373.3 61.7h0M375.8 78.2h0M374.0 62.1h0M362.0 73.6h0M378.6 76.4h0M374.8 66.1h0M374.6 78.9h0M377.0 77.6h0M373.8 66.7h0M361.5 62.1h0M374.9 69.0h0M360.1 59.1h0M377.1 76.7h0M375.9 69.0h0M359.8 61.9h0M360.1 43.4h0M374.1 62.9h0M370.9 56.6h0M368.5 37.6h0M360.4 47.4h0M361.0 60.0h0M372.4 51.5h0M369.3 40.4h0M371.5 46.6h0M358.9 41.5h0M359.6 47.7h0M358.5 59.9h0M358.9 41.9h0M372.4 50.6h0M371.7 43.6h0M365.9 77.4h0M370.8 78.4h0M368.5 36.2h0M361.0 38.7h0M360.1 56.4h0M373.7 67.0h0M377.4 75.6h0M374.5 80.2h0M371.2 78.6h0M361.0 67.2h0M368.7 79.6h0M364.6 34.9h0M361.9 68.3h0M372.4 44.1h0M359.2 54.6h0M360.9 60.0h0M361.9 68.7h0M372.2 62.8h0M371.5 52.6h0M360.0 54.8h0M372.9 49.8h0M362.4 73.0h0M370.8 43.3h0M373.1 53.2h0M373.8 53.9h0M363.4 75.4h0M365.0 77.4h0M359.3 54.9h0M370.1 40.8h0M359.5 43.5h0M372.5 47.5h0M359.4 54.9h0M359.7 52.0h0M363.6 75.1h0M363.6 75.1h0M360.0 36.9h0M360.9 60.1h0M375.1 73.2h0M374.0 78.4h0M372.1 41.1h0M361.9 35.9h0M359.3 40.5h0M359.5 44.8h0M371.5 52.4h0M365.6 37.1h0M374.1 63.5h0M375.6 70.9h0M358.0 57.6h0M360.0 56.8h0M365.7 78.1h0M360.2 48.9h0M357.4 52.0h0M377.7 75.3h0M372.7 65.3h0M375.1 77.3h0M362.3 70.9h0M361.9 36.8h0M374.0 58.9h0M371.5 42.8h0M370.1 41.9h0M364.7 34.2h0M365.6 77.0h0M370.0 34.1h0M368.6 80.7h0M361.2 53.0h0M363.6 53.8h0M361.1 78.8h0M370.3 56.1h0M360.2 37.9h0M370.1 47.0h0"/><path stroke="#C393D1" d="M391.9 74.7h0M398.6 60.0h0M398.4 57.9h0M377.9 78.6h0M376.8 72.0h0M393.3 58.5h0M379.0 72.2h0M400.7 59.0h0M380.9 79.5h0M382.3 70.2h0M380.8 77.4h0M384.7 77.8h0M379.1 72.7h0M392.2 75.6h0M399.2 68.3h0M398.2 58.5h0M372.8 78.0h0M390.9 64.5h0M382.6 78.6h0M399.0 68.1h0M401.4 61.1h0M398.1 57.2h0M396.4 56.5h0M402.4 66.0h0M401.5 62.9h0M386.9 76.5h0M373.9 78.9h0M400.9 58.2h0M385.5 77.3h0M386.2 67.5h0M379.4 73.7h0M394.2 60.6h0M379.5 71.6h0M399.2 68.6h0M387.8 67.1h0M397.5 59.1h0M376.9 78.6h0M373.4 77.4h0M383.8 78.6h0M400.8 59.8h0M382.2 72.8h0M386.1 78.8h0M393.7 56.7h0M381.4 78.4h0M402.2 64.9h0M383.3 77.8h0M393.8 59.6h0M373.2 77.6h0M384.3 70.3h0M395.9 57.1h0M380.1 69.4h0M391.5 64.5h0M402.7 64.4h0M389.8 66.1h0M395.3 71.4h0M374.1 73.2h0M393.1 72.8h0M403.4 63.8h0M373.7 74.6h0M391.3 64.3h0M375.6 76.6h0M374.2 73.9h0M399.6 69.6h0M384.7 77.4h0M377.8 81.1h0M397.5 68.7h0M400.7 68.0h0M393.6 59.5h0M391.1 74.1h0M395.5 56.8h0M401.2 63.1h0M380.6 71.0h0M398.2 70.4h0M374.6 78.1h0M373.6 78.0h0M401.6 61.5h0M389.6 74.8h0M399.6 68.6h0M402.6 64.1h0M403.1 65.1h0M373.2 73.6h0M376.0 77.4h0M391.1 63.8h0M368.9 74.8h0M377.5 77.0h0M396.5 72.6h0M405.9 60.8h0M390.1 77.7h0M377.3 74.3h0"/><path stroke="#F8A62A" d="M473.6 11.0h0M455.3 25.1h0M467.1 9.9h0M475.4 42.4h0M453.2 15.8h0M457.4 28.7h0M475.9 26.1h0M462.0 31.2h0M464.5 34.6h0M459.9 26.5h0M477.0 14.5h0M462.5 30.2h0M445.5 21.0h0M451.9 17.7h0M467.1 43.3h0M468.3 43.5h0M449.7 18.6h0M451.7 18.8h0M465.0 36.9h0M478.2 35.8h0M451.1 17.9h0M477.4 27.0h0M478.8 17.4h0M460.1 9.1h0M463.3 31.1h0M450.7 18.0h0M449.4 24.8h0M456.9 27.9h0M457.5 11.6h0M477.7 28.2h0M478.9 14.9h0M463.3 31.3h0M450.1 23.7h0M449.3 22.6h0M466.6 9.9h0M458.0 13.0h0M451.2 26.2h0M450.1 23.8h0M459.1 12.0h0M460.7 11.1h0M454.4 15.5h0M475.9 39.5h0M459.7 10.4h0M477.9 16.1h0M456.9 13.1h0M477.7 31.6h0M471.5 10.2h0M464.9 8.1h0M446.8 23.0h0M464.0 34.1h0M469.8 42.9h0M479.2 18.2h0M460.2 31.0h0M476.9 15.5h0M455.1 25.3h0M477.9 25.7h0M463.3 31.7h0M450.6 17.7h0M446.1 20.9h0M462.1 10.1h0M451.2 16.4h0M448.7 21.5h0M458.8 10.0h0M479.1 17.8h0M458.4 26.3h0M453.4 16.6h0M469.5 9.5h0M465.3 38.3h0M477.4 40.9h0M478.0 37.9h0M474.8 13.1h0M466.5 42.0h0M478.2 35.6h0M467.4 42.6h0M460.3 28.4h0M459.3 27.2h0M468.5 42.8h0M450.9 24.5h0M472.1 42.0h0M466.7 36.9h0M477.6 27.5h0M451.4 17.9h0M455.4 25.3h0M478.0 37.0h0M479.0 19.7h0M477.9 32.6h0M451.6 16.4h0M476.9 23.3h0M464.4 31.4h0M450.2 19.4h0M475.9 13.2h0M473.0 12.0h0M446.3 21.8h0M468.0 42.5h0M474.6 42.5h0M467.9 43.7h0M477.7 38.7h0M462.0 30.9h0M469.0 41.9h0M473.7 11.8h0M457.1 11.8h0M477.7 26.9h0M447.1 23.0h0M451.2 16.9h0M463.7 7.5h0M467.2 37.2h0M478.0 34.4h0M465.8 9.7h0M463.9 37.0h0M458.2 16.5h0M472.9 28.3h0M481.4 33.3h0M475.5 34.8h0M470.5 13.2h0M480.2 24.3h0M476.0 12.7h0M477.3 36.9h0M476.8 44.2h0M470.8 12.5h0M463.4 17.8h0M457.2 15.4h0"/><path stroke="#1FBAA3" d="M467.7 66.8h0M468.6 48.3h0M459.2 60.2h0M474.9 64.2h0M462.0 51.1h0M475.5 64.7h0M461.5 51.6h0M462.0 51.4h0M478.6 62.9h0M471.4 65.7h0M471.1 48.9h0M474.8 48.8h0M480.5 58.2h0M473.6 49.5h0M465.2 67.0h0M470.0 66.0h0M474.1 48.4h0M460.8 51.9h0M462.1 52.7h0M470.1 67.0h0M478.1 53.3h0M461.2 61.6h0M476.4 64.3h0M462.1 63.3h0M459.1 60.2h0M478.9 54.8h0M473.9 65.6h0M462.4 64.4h0M471.3 49.4h0M458.9 55.3h0M475.5 64.9h0M464.7 49.2h0M480.6 59.5h0M470.3 48.7h0M480.0 57.0h0M480.0 53.8h0M470.5 67.1h0M474.6 65.0h0M459.4 58.9h0M468.1 48.5h0M479.6 58.7h0M462.4 65.8h0M462.6 50.8h0M477.5 64.5h0M479.9 54.9h0M461.8 62.7h0M463.6 64.8h0M480.0 56.7h0M476.3 62.2h0M468.6 48.0h0M462.9 49.4h0M477.7 60.1h0M460.5 60.4h0M459.2 58.2h0M480.3 58.2h0M478.9 61.8h0M469.4 47.3h0M461.7 49.0h0M460.2 54.7h0M475.7 50.7h0M460.9 51.5h0M461.8 63.1h0M477.8 63.3h0M477.8 61.0h0M464.1 54.6h0M465.6 47.4h0M463.2 58.6h0M481.6 53.2h0M474.1 64.2h0M460.3 50.1h0"/><path stroke="#F5813F" d="M413.4 60.4h0M415.6 57.3h0M417.5 71.0h0M427.0 53.9h0M430.8 61.9h0M412.7 58.8h0M428.6 67.5h0M409.0 69.1h0M406.5 73.6h0M427.7 56.2h0M420.4 70.2h0M418.2 71.5h0M415.9 57.8h0M420.8 53.2h0M426.7 56.2h0M418.1 69.8h0M408.6 76.8h0M424.6 68.2h0M407.9 74.5h0M409.8 68.2h0M422.7 69.8h0M418.6 54.0h0M428.5 57.4h0M412.7 60.1h0M430.8 63.6h0M410.4 74.2h0M430.6 62.3h0M415.0 56.1h0M405.8 71.0h0M412.3 73.5h0M423.1 54.0h0M428.9 60.0h0M405.6 76.7h0M421.7 68.4h0M407.2 71.4h0M417.2 55.8h0M410.9 74.2h0M427.7 67.8h0M427.3 55.3h0M416.2 56.7h0M420.9 52.0h0M418.5 53.4h0M410.5 69.6h0M410.6 64.8h0M417.6 70.4h0M410.9 64.2h0M427.3 67.6h0M428.0 55.8h0M419.6 54.4h0M425.1 53.9h0M429.6 57.6h0M415.9 57.7h0M420.4 70.3h0M418.6 55.2h0M425.9 68.6h0M416.6 71.3h0M425.4 53.8h0M421.9 69.8h0M428.0 67.1h0M409.6 68.0h0M429.2 62.7h0M427.7 67.3h0M409.1 74.7h0M422.2 71.7h0M404.1 73.3h0M409.4 74.9h0M430.6 64.5h0M428.7 66.8h0M409.1 70.2h0M411.2 65.0h0M423.0 54.0h0M413.6 73.0h0M423.2 52.4h0M420.5 53.1h0M410.7 72.0h0M416.3 72.4h0M408.9 64.1h0M421.9 57.0h0M412.1 71.8h0M429.0 57.7h0M408.9 72.7h0M406.7 66.5h0"/><path stroke="#F4E829" d="M447.2 72.5h0M425.2 88.9h0M447.2 78.3h0M415.0 72.9h0M434.7 67.3h0M436.0 89.3h0M445.3 72.0h0M438.1 87.2h0M415.7 72.0h0M432.3 90.3h0M428.4 89.6h0M428.5 66.6h0M448.2 79.4h0M444.4 72.5h0M416.3 73.6h0M433.0 90.9h0M433.6 88.1h0M413.1 78.0h0M420.1 89.8h0M417.0 71.8h0M434.6 92.6h0M421.3 68.4h0M422.3 67.9h0M449.0 77.4h0M412.9 78.9h0M448.2 79.0h0M414.3 85.1h0M450.0 77.6h0M442.9 80.6h0M437.2 67.6h0M422.6 91.7h0M429.3 90.3h0M439.4 86.9h0M448.1 78.7h0M434.0 68.6h0M448.3 72.8h0M421.4 68.1h0M420.8 89.1h0M438.7 89.0h0M432.4 66.9h0M416.9 71.5h0M429.7 67.6h0M435.4 65.7h0M423.6 66.1h0M414.9 72.3h0M443.8 70.8h0M432.7 65.7h0M420.5 68.8h0M425.6 89.5h0M448.5 71.4h0M441.0 84.0h0M449.5 77.9h0M440.2 69.3h0M422.2 68.3h0M413.5 77.0h0M412.7 83.3h0M421.8 89.9h0M415.5 71.5h0M423.2 89.3h0M439.6 88.0h0M445.8 79.4h0M444.5 72.7h0M414.5 73.0h0M414.8 87.1h0M441.0 86.7h0M418.3 69.3h0M418.7 69.3h0M446.0 71.0h0M431.0 67.0h0M418.3 88.9h0M421.1 89.7h0M426.6 68.0h0M422.8 89.5h0M444.9 79.5h0M436.9 66.6h0M434.6 66.6h0M430.2 67.9h0M445.5 79.6h0M446.0 78.0h0M414.7 83.8h0M412.4 75.6h0M419.9 88.3h0M448.6 77.4h0M449.5 77.4h0M449.3 77.4h0M423.5 90.2h0M452.2 76.3h0M440.0 71.6h0M415.0 72.0h0M440.2 68.3h0M435.9 91.2h0M415.1 87.4h0M442.0 83.9h0M420.1 90.5h0M415.0 83.4h0M446.6 79.0h0M420.3 87.8h0M413.6 78.5h0M433.5 88.6h0M416.8 72.1h0M420.0 75.2h0M435.9 91.1h0M434.6 91.4h0M424.9 71.9h0M429.1 88.5h0M436.6 71.3h0M437.8 70.9h0M413.5 74.2h0M424.7 67.4h0M453.9 62.9h0M449.8 72.1h0M456.9 63.8h0M449.6 71.1h0M449.4 64.4h0M452.3 65.2h0M453.4 64.1h0M454.4 60.1h0M451.7 63.0h0M453.6 65.6h0M452.1 64.4h0M453.3 67.4h0M448.4 69.1h0M452.4 62.3h0M448.8 70.3h0M452.1 70.6h0M454.0 61.2h0M455.1 61.5h0M449.3 73.2h0M457.0 59.0h0M447.2 69.1h0M452.4 67.7h0M456.8 59.6h0M458.1 60.7h0M454.1 63.6h0M459.7 59.7h0M454.6 61.1h0M451.1 70.4h0M456.4 63.7h0M454.4 67.4h0M451.1 73.4h0M450.9 72.2h0M453.6 62.6h0M448.5 69.9h0M454.8 59.0h0M454.5 59.5h0M458.2 56.7h0M449.7 75.5h0M449.2 73.6h0M452.7 67.5h0M439.9 73.2h0M457.8 58.8h0M449.7 71.6h0M454.6 53.4h0M402.2 59.2h0M405.4 56.8h0M406.1 56.1h0M400.4 59.0h0M404.4 57.1h0M404.8 54.6h0M400.3 55.7h0M403.1 53.4h0M406.2 55.6h0M400.0 60.3h0M401.0 59.8h0M401.4 53.2h0M402.0 60.9h0M403.5 58.8h0M405.8 56.9h0M403.8 55.9h0M405.9 56.7h0M404.0 56.4h0M405.1 57.4h0M401.1 58.3h0M402.2 57.6h0M398.5 58.2h0"/><path stroke="#22C4EE" d="M453.8 85.5h0M457.7 86.6h0M463.8 86.1h0M419.4 102.8h0M457.6 85.6h0M407.1 97.7h0M410.1 90.6h0M450.8 88.9h0M419.5 103.0h0M448.0 93.7h0M433.0 91.0h0M420.1 92.0h0M442.2 97.8h0M416.1 90.8h0M423.5 90.5h0M426.0 102.1h0M409.2 90.2h0M421.9 102.7h0M451.2 78.5h0M443.9 79.2h0M430.6 90.7h0M451.0 77.7h0M437.2 85.7h0M422.9 90.3h0M418.8 91.2h0M441.2 98.7h0M454.7 86.1h0M432.2 101.5h0M444.9 92.8h0M436.5 84.9h0M460.4 85.8h0M439.9 83.7h0M419.0 91.3h0M462.7 86.3h0M436.3 99.7h0M418.6 91.1h0M455.2 80.0h0M432.8 88.9h0M436.8 85.6h0M436.6 86.8h0M411.4 101.1h0M417.0 101.2h0M440.3 83.5h0M437.7 86.7h0M404.8 97.0h0M448.5 93.6h0M444.9 80.2h0M434.2 89.6h0M457.8 83.6h0M447.1 78.8h0M428.2 100.5h0M456.5 81.3h0M450.0 90.7h0M461.1 85.0h0M455.2 80.4h0M448.6 93.0h0M455.0 86.2h0M443.9 94.6h0M458.6 84.7h0M434.4 90.6h0M426.3 90.8h0M417.9 100.3h0M438.7 99.6h0M451.0 89.9h0M440.7 98.8h0M428.8 91.2h0M437.1 99.7h0M440.8 80.4h0M457.7 80.4h0M435.6 101.2h0M430.9 102.2h0M453.9 79.2h0M434.9 90.6h0M433.6 89.3h0M420.3 100.4h0M447.6 79.5h0M431.2 91.4h0M424.0 102.2h0M415.9 90.9h0M432.1 100.9h0M453.3 78.9h0M463.9 84.5h0M426.7 90.2h0M405.8 96.5h0M433.2 102.6h0M413.1 100.1h0M436.6 85.1h0M417.8 101.6h0M448.4 92.1h0M449.3 89.6h0M462.6 87.1h0M447.2 79.3h0M406.8 95.9h0M453.6 79.3h0M413.9 92.1h0M460.0 83.3h0M436.7 87.2h0M407.9 92.6h0M441.2 81.6h0M417.1 101.3h0M454.9 88.0h0M427.7 90.3h0M432.2 101.1h0M430.9 101.1h0M406.0 93.6h0M415.8 90.3h0M409.3 97.3h0M414.1 99.8h0M455.7 81.9h0M443.6 95.5h0M436.8 101.0h0M435.8 88.6h0M463.5 85.0h0M440.1 98.3h0M451.9 78.3h0M449.5 91.8h0M439.9 84.5h0M436.1 100.7h0M425.8 88.8h0M442.4 98.2h0M419.3 90.9h0M463.3 84.4h0M436.5 99.6h0M455.3 80.0h0M443.2 95.5h0M460.0 82.3h0M422.0 102.3h0M421.8 90.4h0M406.0 95.3h0M440.8 83.7h0M435.0 90.0h0M439.0 99.2h0M412.8 90.7h0M442.8 98.9h0M406.8 93.2h0M435.0 92.5h0M431.3 91.9h0M455.4 83.5h0M425.9 92.1h0M456.5 82.3h0M442.3 83.8h0M439.5 82.5h0M428.7 105.2h0M444.5 87.9h0M455.3 76.8h0M461.8 84.5h0M463.9 86.2h0M457.8 83.0h0M460.6 87.9h0M428.0 101.7h0M403.2 96.0h0"/><path stroke="#C5C5E8" d="M404.3 95.5h0M404.9 80.9h0M401.5 96.0h0M394.9 93.8h0M401.0 85.6h0M404.0 95.0h0M409.7 86.2h0M412.7 82.5h0M410.9 79.8h0M408.5 91.0h0M401.2 95.3h0M396.8 89.4h0M409.9 86.8h0M404.3 94.3h0M409.4 77.0h0M395.7 93.1h0M409.1 89.2h0M406.4 79.0h0M399.0 87.8h0M400.8 85.1h0M403.3 83.3h0M411.1 81.5h0M404.9 94.3h0M405.6 78.7h0M410.5 77.1h0M396.0 94.9h0M394.4 91.4h0M397.3 90.5h0M407.0 81.0h0M402.9 83.7h0M402.0 95.6h0M408.1 79.4h0M410.9 87.9h0M412.4 78.1h0M412.4 78.7h0M396.7 93.2h0M406.7 93.4h0M398.2 89.8h0M411.6 85.7h0M399.5 86.2h0M396.4 92.8h0M401.6 83.4h0M396.2 96.3h0M404.1 95.3h0M408.1 77.7h0M402.0 95.3h0M411.8 81.2h0M409.9 76.1h0M411.0 82.6h0M401.6 84.8h0M408.9 76.2h0M407.6 91.2h0M401.9 85.3h0M409.7 77.5h0M395.3 97.9h0M398.0 88.3h0M398.9 91.2h0M410.8 75.1h0M397.5 89.0h0M412.6 83.7h0M400.7 74.6h0M396.7 99.1h0"/><path stroke="#C52A97" d="M422.9 143.1h0M421.4 142.1h0M410.0 136.9h0M395.6 142.4h0M410.3 149.0h0M399.3 137.7h0M405.8 152.9h0M398.8 137.4h0M427.1 144.8h0M397.1 138.8h0M419.0 142.7h0M400.6 138.3h0M412.9 138.6h0M410.2 150.6h0M420.3 141.3h0M411.2 147.1h0M404.3 135.9h0M402.1 152.5h0M425.5 142.2h0M414.1 148.0h0M402.8 137.7h0M412.2 136.5h0M403.7 134.9h0M399.8 137.0h0M411.7 148.5h0M395.9 145.5h0M412.3 139.1h0M425.6 143.6h0M406.9 152.6h0M413.8 148.0h0M407.8 151.7h0M408.3 151.8h0M415.0 141.1h0M423.5 142.5h0M400.9 135.5h0M416.5 145.1h0M426.7 143.8h0M425.4 142.7h0M423.6 141.8h0M421.6 146.5h0M416.6 140.7h0M423.2 141.9h0M416.6 145.6h0M418.8 140.6h0M425.2 142.5h0M408.4 151.1h0M395.6 147.9h0M425.1 143.6h0M409.0 136.2h0M400.3 151.1h0M407.4 153.4h0M419.7 144.8h0M425.2 143.8h0M414.4 139.6h0M407.8 151.3h0M418.4 141.7h0M395.2 144.9h0M397.7 139.1h0M420.5 141.4h0M397.4 146.8h0M401.0 137.0h0M424.0 143.9h0M408.3 135.7h0M409.4 148.9h0M421.4 143.1h0M409.1 150.6h0M410.6 139.1h0M396.2 147.2h0M413.9 140.0h0M409.5 135.9h0M424.4 144.0h0M405.5 137.2h0M406.6 136.4h0M401.7 135.7h0M419.1 142.2h0M412.2 137.9h0M391.6 147.9h0M411.5 150.6h0M402.3 135.3h0M400.4 157.8h0M395.8 136.9h0M404.1 154.8h0M409.3 151.8h0M397.8 144.1h0M416.4 142.2h0M416.7 131.4h0M417.9 132.1h0M418.2 134.6h0M418.0 134.2h0M416.6 130.6h0M419.3 132.0h0M414.5 134.2h0M419.9 130.9h0M419.0 131.3h0M414.3 133.1h0M414.2 133.6h0M420.1 131.8h0M418.2 134.1h0M417.7 130.4h0"/><path stroke="#7553AB" d="M456.0 132.3h0M463.6 125.5h0M454.8 122.5h0M458.5 123.4h0M441.5 128.7h0M440.2 121.2h0M461.8 124.6h0M454.4 120.3h0M460.1 127.8h0M455.2 130.8h0M441.6 129.0h0M439.4 123.6h0M442.2 130.5h0M442.8 119.8h0M444.7 134.4h0M441.4 120.1h0M449.5 119.7h0M454.4 119.5h0M447.8 118.8h0M447.6 136.2h0M449.6 119.2h0M463.7 123.9h0M446.9 119.6h0M459.8 124.4h0M444.6 135.2h0M449.2 118.5h0M454.2 130.9h0M461.9 125.5h0M453.3 133.1h0M458.7 129.7h0M446.8 135.7h0M442.3 131.4h0M454.2 131.8h0M451.5 134.9h0M458.4 122.3h0M458.7 122.9h0M458.2 122.9h0M453.1 119.6h0M457.7 128.9h0M440.7 124.2h0M446.6 119.7h0M442.2 130.7h0M451.9 134.9h0M440.3 125.1h0M444.4 132.9h0M445.4 135.1h0M460.4 126.5h0M462.3 123.4h0M447.7 135.2h0M454.2 131.4h0M461.8 127.3h0M458.5 124.0h0M458.4 128.0h0M444.5 135.4h0M455.7 121.2h0M461.4 124.4h0M446.7 135.5h0M446.6 135.0h0M443.0 119.6h0M444.7 119.3h0M439.5 127.6h0M442.6 120.9h0M454.4 132.7h0M437.8 126.9h0M457.0 128.5h0M455.2 125.3h0M451.5 121.0h0M446.5 134.0h0M448.7 118.0h0"/><path stroke="#F7B3B6" d="M372.6 98.8h0M374.2 100.4h0M370.4 107.3h0M375.9 109.7h0M373.3 108.7h0M369.9 109.6h0M375.1 101.0h0M371.7 102.0h0M369.2 108.8h0M377.2 105.8h0M374.8 109.1h0M370.1 106.8h0M376.3 105.6h0M374.2 108.9h0M371.1 100.0h0M375.2 107.7h0M374.5 110.0h0M368.9 106.8h0M371.3 104.9h0M370.4 104.4h0M369.9 102.2h0M372.9 99.8h0M372.9 99.0h0M370.1 109.7h0M373.9 99.6h0M375.5 106.7h0M372.3 109.6h0M373.0 100.1h0M369.7 106.3h0M372.8 108.4h0M369.8 108.3h0M370.7 108.4h0M398.9 33.6h0M396.0 35.9h0M394.5 31.3h0M397.8 31.3h0M398.0 27.3h0M396.8 36.7h0M397.1 30.5h0M395.8 27.6h0M399.7 38.5h0M396.6 34.6h0M397.6 27.5h0M397.1 30.3h0M397.4 27.9h0M397.3 34.0h0M398.7 27.3h0M398.3 39.2h0M397.5 39.5h0M396.5 28.5h0M398.4 35.9h0M397.1 28.4h0M397.6 38.8h0M395.2 28.7h0M398.9 33.1h0M397.0 38.4h0M399.0 37.7h0M394.7 30.4h0M398.4 25.8h0M397.1 32.1h0M398.4 36.5h0M396.8 36.4h0M397.2 34.1h0M396.3 29.8h0M395.9 30.9h0"/><path stroke="#EFC2A9" d="M494.9 108.9h0M497.1 113.3h0M490.9 112.0h0M491.3 109.8h0M488.6 113.8h0M500.8 111.6h0M492.1 110.3h0M491.8 111.0h0M499.5 109.9h0M489.1 108.8h0M494.7 110.1h0M493.1 113.6h0M497.5 113.1h0M493.7 113.3h0M493.9 113.6h0M489.3 109.3h0M499.9 112.7h0M494.2 110.4h0M490.7 112.7h0M493.1 109.9h0M492.0 112.6h0M488.8 109.6h0M493.8 109.3h0M498.1 112.1h0M495.7 111.9h0M492.6 111.5h0M487.4 111.7h0M489.1 118.0h0"/><path stroke="#1B2470" d="M470.0 88.2h0M468.7 86.6h0M465.8 85.5h0M466.2 85.8h0M472.8 90.0h0M476.9 92.1h0M476.7 92.1h0M474.8 87.2h0M470.5 90.0h0M471.8 86.5h0M473.4 86.2h0M471.9 89.6h0M465.7 86.4h0M467.1 85.3h0M479.4 90.1h0M474.0 90.1h0M470.1 87.4h0M467.0 88.6h0M477.4 87.6h0M473.4 91.0h0M476.5 92.7h0M476.0 88.6h0M466.2 88.5h0M470.8 86.2h0M477.2 91.1h0M467.3 84.7h0M474.4 87.4h0M476.9 92.2h0M472.6 86.3h0M467.1 85.3h0M467.0 86.3h0M477.8 90.1h0M479.4 86.2h0M466.7 88.0h0"/><path stroke="#19A5C8" d="M388.2 122.1h0M388.2 125.7h0M387.4 126.6h0M388.9 123.1h0M390.6 127.3h0M387.7 125.3h0M387.1 122.2h0M388.2 125.3h0M388.7 124.9h0M390.7 122.7h0M388.1 123.9h0M388.6 125.7h0M391.3 127.3h0M391.4 124.8h0M392.1 126.0h0"/><path stroke="#A5CF43" d="M405.3 116.2h0M404.8 117.3h0M404.9 117.5h0M405.9 118.1h0M405.3 117.5h0M406.3 116.3h0M404.2 117.7h0M406.9 118.0h0M405.1 115.3h0M404.6 117.6h0"/></g><path d="M131.6 451.2 135.3 449.4 144.4 456.7 155.3 459.4 163.5 465.8 166.2 474.9 164.4 484.0 158.9 491.2 153.5 498.5 146.2 500.3 138.9 493.1 133.5 485.8 129.8 476.7 128.0 464.0 128.9 454.9ZM142.5 378.1 149.8 374.4 158.9 375.3 168.0 379.9 177.1 383.5 181.6 390.8 182.5 398.1 180.7 405.3 177.1 410.8 171.6 411.7 167.1 409.0 164.4 403.5 162.5 398.1 157.1 392.6 149.8 387.2 144.4 383.5ZM59.6 436.4 63.3 429.0 70.5 423.6 79.6 420.0 88.7 416.4 96.0 412.7 98.7 415.5 94.2 420.0 86.9 425.5 79.6 429.0 74.2 434.5 72.4 441.8 76.0 450.9 83.3 456.4 94.2 458.2 105.1 456.4 110.5 458.2 108.7 463.6 97.8 466.4 83.3 465.5 72.4 461.8 63.3 454.5 58.7 445.5ZM136.7 426.5 143.8 425.3 150.9 425.3 160.4 427.7 167.5 434.8 172.2 441.9 169.8 450.2 162.7 452.5 150.9 452.5 141.5 449.0 134.4 441.9 132.0 434.8ZM94.2 375.3 101.5 369.9 112.4 367.2 121.5 369.0 126.0 374.4 125.1 379.9 117.8 384.4 112.4 389.0 105.1 394.4 101.5 400.8 97.8 401.7 96.9 396.2 97.8 389.0 94.2 381.7ZM120.9 394.4 124.5 391.7 130.9 391.2 137.3 392.6 141.8 395.3 140.9 399.9 144.5 404.4 147.3 407.2 143.6 409.0 137.3 408.1 131.8 409.0 126.4 409.0 121.8 406.2 120.0 401.7 120.0 398.1ZM201.8 406.4 204.7 402.7 207.6 400.9 210.6 402.4 211.3 404.9 209.9 408.6 207.6 410.1 204.7 410.1 202.5 408.6ZM212.8 418.9 215.7 417.8 219.4 418.9 223.1 420.4 224.6 421.8 222.4 424.1 217.9 424.4 215.0 422.6 213.2 420.7ZM39.6 418.3 43.3 417.6 45.5 421.2 44.0 425.6 41.1 426.3 39.6 422.7ZM61.5 404.4 65.1 403.2 70.5 405.3 74.2 407.2 72.4 409.9 67.8 408.1 62.4 406.8ZM66.0 386.7 70.0 384.7 76.0 385.2 77.0 387.7 72.0 389.2 68.0 390.7ZM81.5 394.2 83.5 394.2 83.5 396.7 81.5 396.7Z" fill="url(#bdot)"/><path d="M95.3 440.7 100.0 431.7 105.4 425.4 113.0 420.7 123.3 417.8 143.6 415.3 164.0 416.5 169.0 420.4 161.4 424.2 143.6 424.2 128.3 428.0 115.6 435.6 108.0 443.3 100.4 445.8Z" fill="url(#bdot_m)"/><path d="M97.8 489.4 103.3 484.0 110.5 482.2 117.8 485.7 125.0 487.7 130.5 493.1 129.6 502.2 125.0 505.7 119.6 509.4 116.0 513.1 108.7 505.7 99.6 498.5Z" fill="url(#bdot_m)"/><path d="M175.3 449.4 182.5 445.8 191.6 442.2 197.1 438.5 202.5 439.4 204.4 445.8 207.1 454.0 200.7 458.5 195.3 465.8 189.8 470.3 182.5 468.5 180.7 462.2 177.1 456.7Z" fill="url(#bdot_s)"/><path d="M174.6 421.8 181.7 418.7 191.1 420.6 198.2 425.3 202.9 434.8 200.6 439.5 193.5 436.0 186.4 432.4 179.3 427.7Z" fill="url(#bdot_s)"/><path d="M74.2 434.5 79.6 429.0 86.9 425.5 94.2 422.7 100.0 428.7 104.0 438.7 108.0 448.7 105.1 456.4 94.2 458.2 83.3 456.4 76.0 450.9 72.4 441.8Z" fill="url(#bdot_xs)"/><path d="M100.0 445.7 108.0 443.3 115.6 435.6 128.3 428.0 132.0 434.7 130.0 444.7 120.0 445.7Z" fill="url(#bdot_s)"/><path fill="none" stroke-width="1.3" stroke-linecap="square" stroke="#1B87D2" d="M164.0 467.5h0M160.0 462.6h0M135.5 488.1h0M163.0 468.1h0M136.6 449.2h0M130.0 453.2h0M165.8 476.6h0M153.4 497.1h0M142.8 456.5h0M142.8 497.5h0M129.8 474.2h0M139.7 494.7h0M163.8 470.8h0M130.5 475.9h0M138.0 452.5h0M148.5 498.4h0M160.6 490.7h0M129.5 471.1h0M133.8 486.0h0M159.0 491.2h0M156.3 460.4h0M142.2 453.8h0M157.1 459.0h0M128.8 463.3h0M157.5 461.8h0M144.6 500.5h0M146.4 500.8h0M144.4 456.4h0M129.4 457.6h0M146.8 502.1h0M141.6 452.9h0M127.9 455.0h0M148.1 458.4h0M164.9 476.8h0M143.2 496.0h0M164.1 484.5h0M129.8 470.3h0M135.8 449.3h0M159.9 463.9h0M129.2 469.4h0M162.7 463.8h0M140.0 453.3h0M163.3 466.0h0M142.7 456.0h0M127.1 460.1h0M148.8 458.4h0M145.3 499.4h0M138.5 453.0h0M155.4 495.2h0M143.7 455.0h0M140.9 454.6h0M145.7 458.6h0M142.8 495.4h0M139.9 492.2h0M154.4 495.6h0M145.6 457.3h0M148.5 457.7h0M163.1 466.0h0M138.3 491.0h0M166.0 472.9h0M129.1 463.9h0M134.6 486.2h0M165.8 476.2h0M136.2 489.0h0M154.3 497.3h0M150.1 499.8h0M160.7 486.9h0M144.1 499.9h0M135.0 449.9h0M150.4 458.8h0M153.3 458.1h0M152.6 457.8h0M128.6 468.4h0M165.4 471.2h0M129.1 454.0h0M132.0 479.9h0M165.2 473.4h0M165.3 474.7h0M155.0 494.9h0M131.1 474.0h0M137.9 450.1h0M130.6 479.7h0M163.7 483.9h0M143.4 459.8h0M138.9 454.8h0M139.7 453.7h0M153.7 458.2h0M154.8 501.1h0M155.1 458.4h0M158.5 492.6h0M132.4 484.2h0M145.9 454.6h0M133.3 492.3h0M160.9 489.9h0M146.5 461.9h0M95.1 438.8h0M134.3 415.7h0M95.6 440.6h0M143.7 415.0h0M112.6 439.1h0M99.8 444.6h0M117.3 435.0h0M105.6 443.7h0M107.9 423.1h0M157.1 424.4h0M102.1 426.4h0M131.8 426.4h0M150.1 424.2h0M122.0 416.1h0M120.6 433.6h0M104.0 427.1h0M110.3 442.0h0M100.4 446.1h0M166.2 418.6h0M130.6 427.7h0M149.8 417.3h0M154.3 415.4h0M168.3 420.1h0M132.2 415.7h0M137.7 425.7h0M123.8 431.0h0M145.2 423.9h0M167.2 421.8h0M160.3 423.2h0M110.4 421.6h0M119.2 433.1h0M105.5 426.3h0M168.4 421.4h0M116.9 419.6h0M132.4 416.5h0M159.0 424.4h0M156.6 415.2h0M163.9 417.2h0M130.0 417.0h0M162.4 423.6h0M135.2 416.8h0M153.0 424.2h0M112.2 422.9h0M143.9 415.4h0M146.6 416.6h0M129.3 426.3h0M140.1 423.6h0M95.0 441.1h0M108.5 441.6h0M101.5 429.4h0M164.0 418.4h0M152.7 423.3h0M124.5 429.5h0M116.2 421.7h0M118.5 420.5h0M93.7 440.5h0M106.9 444.0h0M110.7 440.2h0M165.6 417.6h0M123.6 417.1h0M112.9 437.4h0M149.3 416.8h0M126.6 428.4h0M122.2 432.8h0M127.3 418.5h0M157.1 416.4h0M124.8 429.8h0M120.6 434.4h0M103.8 428.4h0M96.0 435.3h0M134.0 416.8h0M124.7 430.7h0M159.1 415.9h0M112.6 421.2h0M155.7 424.1h0M154.7 416.0h0M117.3 419.0h0M111.1 422.5h0M123.5 417.8h0M135.6 427.0h0M163.6 422.5h0M104.7 428.6h0M133.0 427.5h0M168.2 418.9h0M124.5 429.7h0M156.2 416.5h0M103.7 427.4h0M97.0 438.0h0M134.2 427.2h0M152.4 414.8h0M122.0 431.5h0M111.7 421.7h0M110.9 440.0h0M121.2 418.7h0M99.9 433.3h0M100.2 444.5h0M117.0 434.4h0M116.2 420.8h0M129.6 417.6h0M115.3 436.0h0M167.9 423.5h0M158.1 425.6h0M149.5 417.6h0M107.9 440.2h0M160.2 421.3h0M143.6 431.1h0M111.1 443.3h0M109.6 445.3h0M145.9 419.1h0M145.9 413.4h0M138.9 424.0h0M142.5 414.0h0M121.0 420.1h0M135.3 415.9h0M152.5 427.5h0M135.7 416.0h0M181.3 400.1h0M181.0 400.9h0M163.8 376.4h0M166.0 408.9h0M144.0 379.5h0M181.4 389.1h0M164.0 401.1h0M153.4 391.1h0M157.8 375.4h0M182.3 393.4h0M168.8 408.1h0M168.6 380.3h0M177.0 411.0h0M152.1 388.5h0M179.4 386.5h0M159.6 395.2h0M180.7 402.1h0M158.1 376.0h0M160.1 394.7h0M173.0 410.1h0M163.7 403.1h0M163.2 401.3h0M182.1 402.4h0M159.4 397.3h0M152.8 389.1h0M153.7 390.0h0M179.5 408.1h0M176.1 408.7h0M182.5 400.1h0M169.5 409.0h0M175.3 382.2h0M162.4 378.0h0M148.8 388.0h0M157.1 393.1h0M181.5 391.8h0M165.5 402.8h0M159.2 394.4h0M162.8 400.1h0M149.8 386.5h0M158.4 375.4h0M150.0 386.8h0M179.2 387.6h0M153.9 391.2h0M142.4 382.1h0M164.5 401.4h0M180.6 400.9h0M171.6 383.0h0M159.0 375.9h0M165.3 377.9h0M163.5 402.6h0M182.5 393.4h0M171.7 383.2h0M182.4 393.9h0M169.3 408.3h0M181.6 396.0h0M164.9 405.3h0M177.9 409.0h0M160.0 395.3h0M181.7 391.2h0M181.9 405.5h0M144.7 380.2h0M166.1 381.6h0M163.9 400.7h0M164.4 405.8h0M166.1 409.6h0M157.6 375.2h0M175.2 411.7h0M160.7 396.7h0M182.4 398.6h0M167.1 407.5h0M180.3 388.7h0M150.0 375.6h0M180.4 384.8h0M186.0 388.9h0M168.6 381.0h0M166.2 405.4h0M171.5 411.1h0M182.4 393.4h0M167.3 373.6h0M154.7 370.2h0M146.1 377.1h0M159.4 375.5h0M92.4 465.7h0M74.3 436.8h0M60.9 449.5h0M83.6 456.4h0M93.1 420.3h0M91.8 415.2h0M99.2 458.5h0M68.8 458.1h0M98.1 415.0h0M85.0 426.2h0M95.8 418.5h0M72.4 440.2h0M61.2 450.1h0M73.5 436.8h0M92.7 414.3h0M107.4 465.2h0M90.7 414.8h0M107.5 464.7h0M66.8 425.7h0M80.4 464.7h0M77.6 420.6h0M77.1 431.7h0M85.7 457.9h0M75.0 434.7h0M84.2 417.7h0M65.8 455.5h0M80.1 430.0h0M84.8 466.2h0M106.8 465.1h0M88.6 457.6h0M88.1 458.4h0M58.9 444.3h0M77.4 452.5h0M109.7 457.9h0M70.9 461.2h0M75.7 445.2h0M74.9 434.1h0M74.7 461.2h0M83.6 418.5h0M76.1 452.9h0M72.7 421.0h0M80.7 464.0h0M73.5 463.3h0M70.9 461.1h0M73.8 441.1h0M75.8 421.0h0M74.9 446.1h0M87.1 426.1h0M98.5 415.2h0M78.2 453.9h0M86.0 418.8h0M84.4 466.2h0M94.1 413.8h0M94.2 457.9h0M75.7 449.2h0M80.1 428.6h0M102.1 465.3h0M98.0 417.1h0M106.1 456.7h0M58.9 435.9h0M93.6 421.7h0M80.4 452.7h0M89.9 422.7h0M59.4 439.4h0M91.8 422.2h0M72.6 446.7h0M84.7 465.1h0M95.5 465.9h0M60.5 448.1h0M104.1 465.4h0M63.5 427.5h0M105.0 465.7h0M109.3 462.3h0M77.0 434.2h0M95.6 413.4h0M67.2 426.9h0M107.6 463.9h0M63.1 428.9h0M74.9 450.1h0M56.5 440.8h0M87.4 417.6h0M93.7 466.0h0M93.5 420.1h0M101.4 456.9h0M90.9 421.4h0M64.2 455.1h0M58.9 437.3h0M100.5 457.0h0M97.3 414.3h0M87.7 427.2h0M79.0 419.6h0M85.4 456.1h0M59.4 447.3h0M83.9 455.7h0M74.1 438.3h0M75.4 433.0h0M66.9 459.5h0M101.7 464.6h0M59.6 436.4h0M71.3 459.5h0M77.8 452.2h0M77.8 451.5h0M72.5 441.4h0M74.9 449.3h0M87.8 465.7h0M86.8 455.9h0M84.0 419.6h0M78.8 464.4h0M75.1 432.5h0M83.3 427.3h0M67.1 423.6h0M90.0 465.3h0M90.1 423.1h0M87.6 456.6h0M89.6 423.4h0M91.5 466.1h0M70.9 424.9h0M92.4 414.3h0M64.6 427.1h0M90.8 458.2h0M86.8 465.2h0M84.8 465.2h0M59.7 451.1h0M109.1 462.9h0M65.7 456.3h0M61.4 448.3h0M62.0 427.6h0M72.3 433.0h0M78.0 468.3h0M79.5 447.8h0M88.8 413.4h0M71.0 424.0h0M93.7 458.5h0M58.7 452.2h0M71.9 423.4h0M86.0 422.8h0M101.3 466.3h0M89.0 420.0h0M103.9 464.1h0M75.6 462.1h0M67.2 424.7h0M75.5 451.7h0M57.3 456.5h0M64.8 454.1h0M96.2 457.6h0M170.1 438.9h0M167.2 434.6h0M139.8 426.9h0M154.0 426.8h0M134.7 431.3h0M163.4 430.7h0M137.1 444.7h0M164.8 432.9h0M167.5 433.6h0M134.7 430.0h0M162.0 427.1h0M169.3 435.8h0M141.8 448.6h0M135.9 429.7h0M137.3 425.5h0M172.1 441.0h0M156.7 451.9h0M143.3 449.0h0M171.6 444.7h0M169.8 439.4h0M170.1 437.0h0M143.2 451.1h0M139.8 448.3h0M160.9 450.3h0M151.4 427.2h0M161.6 428.4h0M170.5 450.7h0M146.1 451.1h0M163.2 452.6h0M162.4 429.5h0M148.1 425.9h0M160.1 453.6h0M168.5 435.5h0M152.4 427.4h0M153.0 453.5h0M161.2 452.1h0M132.6 433.9h0M171.7 446.9h0M162.9 427.7h0M152.4 425.8h0M155.2 428.1h0M135.8 428.7h0M160.5 454.8h0M134.5 443.3h0M139.5 427.0h0M160.6 451.2h0M165.9 433.6h0M136.5 426.8h0M134.6 430.0h0M161.2 428.5h0M137.2 427.1h0M167.9 435.4h0M163.7 451.8h0M164.9 432.7h0M132.3 437.1h0M166.1 432.4h0M167.8 449.6h0M148.6 423.8h0M148.8 424.1h0M141.9 447.1h0M138.6 424.0h0M164.4 451.8h0M137.8 427.6h0M146.5 425.5h0M160.6 428.7h0M141.8 422.0h0M142.2 426.8h0M171.7 438.1h0M163.8 442.7h0M170.9 436.5h0M132.8 441.2h0M169.0 443.0h0M159.8 422.9h0M150.6 454.5h0M109.4 369.6h0M101.4 400.4h0M98.4 402.3h0M97.0 394.7h0M97.5 394.4h0M97.0 388.2h0M112.7 367.0h0M103.5 371.3h0M116.9 386.4h0M95.2 378.0h0M95.0 380.1h0M111.8 389.6h0M117.2 385.7h0M124.1 371.9h0M102.3 399.3h0M102.7 400.7h0M122.1 382.4h0M117.7 384.3h0M120.9 369.8h0M97.3 393.7h0M124.7 373.3h0M121.7 382.1h0M97.6 386.4h0M124.7 380.4h0M127.7 375.9h0M96.4 393.9h0M117.6 369.7h0M104.9 395.3h0M113.0 389.6h0M123.1 381.9h0M120.7 368.1h0M120.9 368.5h0M104.9 396.2h0M96.7 387.7h0M95.5 379.9h0M118.2 383.3h0M114.6 386.0h0M111.0 367.9h0M97.5 398.1h0M110.5 389.5h0M126.1 378.3h0M100.5 400.0h0M121.1 381.0h0M113.2 367.8h0M103.1 397.1h0M125.3 375.5h0M112.1 390.1h0M98.1 402.6h0M116.9 386.7h0M126.2 379.8h0M101.0 400.5h0M123.9 377.3h0M98.6 390.4h0M103.7 396.8h0M121.7 370.9h0M97.7 392.9h0M97.2 373.9h0M116.7 385.6h0M100.5 370.0h0M120.4 383.5h0M98.2 370.7h0M100.3 372.8h0M118.2 385.1h0M111.4 366.2h0M111.4 381.7h0M96.6 398.0h0M112.4 367.0h0M99.4 369.6h0M121.6 368.9h0M99.9 398.2h0M96.1 372.1h0M97.0 386.3h0M95.6 389.1h0M109.0 480.3h0M108.7 504.5h0M100.7 498.6h0M117.6 487.1h0M101.2 485.5h0M117.1 511.1h0M116.3 485.0h0M120.7 509.5h0M115.8 512.3h0M117.9 510.7h0M100.1 497.3h0M127.8 501.9h0M114.0 485.4h0M107.1 482.8h0M116.3 511.5h0M110.6 481.9h0M101.8 486.0h0M123.0 486.0h0M130.2 492.8h0M102.7 484.5h0M121.2 509.1h0M104.7 483.0h0M126.4 487.7h0M110.9 482.7h0M107.7 507.2h0M113.9 483.5h0M130.7 501.1h0M119.5 511.5h0M104.6 482.9h0M109.9 507.0h0M119.8 508.2h0M121.1 487.3h0M101.8 500.5h0M116.8 511.5h0M118.1 485.4h0M115.3 485.2h0M115.9 484.6h0M114.8 512.7h0M107.0 482.3h0M114.2 481.7h0M114.7 484.2h0M118.3 511.1h0M121.1 486.3h0M97.8 488.0h0M124.3 505.5h0M98.8 496.5h0M129.2 492.1h0M113.5 511.2h0M122.8 505.5h0M118.0 511.1h0M111.2 508.1h0M130.1 496.3h0M109.0 483.0h0M109.1 506.0h0M103.5 483.5h0M130.7 501.7h0M122.5 487.5h0M98.0 486.2h0M128.0 485.3h0M122.1 510.6h0M127.1 489.6h0M94.2 494.3h0M125.5 504.3h0M116.5 511.1h0M103.4 501.0h0M101.7 495.2h0M178.1 459.4h0M185.7 444.6h0M188.8 443.9h0M195.2 439.3h0M179.5 447.0h0M181.2 463.2h0M203.1 439.0h0M187.3 444.7h0M194.2 465.2h0M180.7 445.8h0M205.0 451.5h0M206.5 450.8h0M181.8 468.4h0M181.6 447.8h0M206.3 456.0h0M188.0 442.8h0M186.0 468.8h0M205.8 449.9h0M204.9 454.8h0M191.0 440.7h0M189.4 470.5h0M184.3 445.5h0M203.3 444.6h0M181.7 461.8h0M182.0 466.7h0M191.4 468.3h0M190.7 469.0h0M176.7 451.7h0M191.0 467.1h0M190.8 468.1h0M203.5 451.0h0M196.6 438.0h0M206.1 451.4h0M185.0 469.7h0M204.7 444.9h0M193.1 441.9h0M188.9 471.6h0M187.2 469.7h0M179.9 461.0h0M207.3 451.3h0M182.6 462.3h0M205.4 448.5h0M175.4 452.8h0M186.4 442.7h0M193.0 467.4h0M189.4 470.2h0M191.6 469.7h0M189.9 470.7h0M186.7 443.1h0M183.1 444.8h0M183.4 465.2h0M202.7 437.8h0M203.1 457.7h0M191.6 442.9h0M194.1 441.4h0M181.4 460.9h0M203.0 438.7h0M189.0 470.8h0M182.4 463.9h0M207.0 448.0h0M192.3 468.3h0M189.0 471.3h0M174.8 451.7h0M200.1 465.3h0M208.7 441.8h0M193.9 438.2h0M195.3 462.2h0M134.3 408.5h0M142.8 395.7h0M126.2 391.5h0M134.9 409.1h0M139.7 397.8h0M125.6 391.7h0M138.1 394.5h0M120.2 397.9h0M136.1 393.1h0M139.1 392.7h0M125.6 409.2h0M118.9 399.2h0M141.7 396.2h0M134.6 407.5h0M123.5 390.2h0M120.7 398.9h0M121.3 396.2h0M144.0 403.9h0M137.5 392.2h0M121.1 405.4h0M141.2 399.4h0M126.5 409.6h0M122.9 392.5h0M139.0 408.5h0M123.2 404.9h0M135.8 408.7h0M129.1 391.0h0M129.5 391.4h0M121.4 403.9h0M139.1 393.2h0M148.5 407.1h0M123.6 393.1h0M143.8 403.6h0M135.8 393.0h0M123.0 407.7h0M137.7 406.9h0M126.2 390.7h0M127.1 390.1h0M127.7 390.5h0M134.1 391.7h0M125.9 391.6h0M141.4 394.1h0M133.2 392.0h0M119.9 400.4h0M126.9 409.1h0M121.5 394.2h0M123.3 391.5h0M138.7 404.7h0M143.8 407.8h0M140.7 403.1h0M122.6 398.8h0M125.6 389.0h0M175.6 423.8h0M201.6 438.9h0M196.4 425.1h0M201.8 432.2h0M201.4 437.2h0M176.3 421.6h0M198.5 439.3h0M191.9 421.2h0M199.9 439.4h0M197.5 436.7h0M182.3 430.0h0M199.7 438.6h0M192.4 434.7h0M174.8 422.9h0M176.0 420.6h0M183.5 430.6h0M180.4 428.0h0M178.1 425.0h0M200.4 427.7h0M191.0 419.8h0M200.0 431.0h0M202.7 432.4h0M200.1 430.5h0M198.2 424.7h0M196.6 422.4h0M198.2 424.4h0M175.9 421.2h0M189.2 419.4h0M183.0 429.0h0M199.9 431.2h0M189.7 419.7h0M190.6 435.8h0M187.2 419.4h0M180.5 419.2h0M184.4 420.1h0M186.7 434.1h0M181.4 418.3h0M200.0 429.7h0M177.0 424.0h0M198.1 439.3h0M194.9 423.9h0M177.2 422.0h0M200.9 436.9h0M180.6 419.5h0M192.2 435.9h0M199.0 439.4h0M188.5 422.7h0M182.7 433.8h0M195.2 420.5h0M194.1 436.5h0M173.2 427.2h0M205.2 410.9h0M201.3 406.9h0M206.1 401.9h0M204.9 402.7h0M207.7 411.5h0M207.5 410.5h0M203.2 403.8h0M209.4 401.8h0M211.4 406.5h0M202.6 406.3h0M203.3 405.4h0M209.0 404.2h0M209.5 401.3h0M206.2 410.5h0M200.0 405.8h0M204.2 402.7h0M203.5 411.5h0M201.7 415.8h0M203.2 406.8h0M223.3 422.9h0M218.3 425.8h0M217.2 419.4h0M221.9 423.1h0M213.7 419.1h0M223.7 420.3h0M220.6 422.2h0M216.2 417.8h0M218.9 418.8h0M222.9 422.4h0M217.7 418.4h0M223.1 421.7h0M213.6 418.2h0M214.9 417.0h0M214.9 417.7h0M218.8 425.4h0M222.9 424.6h0M214.4 421.9h0M218.7 425.0h0M44.2 423.3h0M41.6 426.2h0M40.8 424.0h0M43.1 425.1h0M41.2 416.5h0M45.3 422.8h0M40.1 416.9h0M39.2 416.6h0M44.3 426.8h0M38.6 420.8h0M41.6 423.8h0M41.5 416.8h0M38.0 419.9h0M39.5 416.7h0M40.8 426.9h0M47.1 421.8h0M70.4 404.6h0M71.4 409.4h0M66.9 404.1h0M63.7 408.3h0M66.6 403.5h0M68.3 409.1h0M70.1 407.7h0M62.4 404.2h0M72.2 403.6h0M69.8 405.0h0M71.8 410.6h0M72.2 410.8h0M63.9 403.7h0M65.3 403.3h0M62.3 406.0h0M60.8 405.7h0M72.1 404.7h0M70.8 408.4h0M65.5 397.1h0M64.2 409.0h0M71.7 408.0h0M72.2 385.5h0M65.3 387.8h0M66.8 385.9h0M74.0 384.4h0M76.0 385.7h0M66.6 390.0h0M68.7 384.5h0M75.6 384.7h0M67.9 386.5h0M69.7 385.1h0M70.6 384.9h0M76.0 387.9h0M71.2 389.6h0M75.8 386.3h0M73.0 388.6h0M75.5 385.3h0M76.3 383.8h0M74.5 386.3h0M82.2 396.4h0M81.8 393.6h0M81.5 394.7h0M82.9 395.3h0M80.3 395.4h0"/><path d="M316.5 400.7 318.0 392.7 322.0 386.7 328.0 383.7 335.0 382.2 342.0 382.5 350.0 384.2 357.0 387.2 362.0 389.7 364.5 393.2 363.0 396.2 359.0 394.7 354.0 392.2 348.0 390.2 341.0 388.7 334.0 388.9 329.0 391.2 326.0 394.7 326.0 398.7 328.0 402.7 329.5 406.2 326.0 407.2 321.0 406.2 317.5 404.2ZM360.0 394.7 364.0 392.2 369.0 393.2 371.5 398.7 372.5 406.7 373.0 414.7 374.0 422.7 376.0 428.7 378.0 433.7 372.0 435.7 366.0 434.7 362.0 428.7 360.5 420.7 360.0 411.7 359.5 402.7ZM372.0 432.7 380.0 428.7 388.0 424.7 393.0 418.7 394.0 413.7 397.0 413.7 400.0 416.7 403.0 419.7 401.0 423.7 396.0 427.7 390.0 431.7 383.0 434.7 376.0 436.7ZM446.0 378.7 452.0 373.7 460.0 366.7 468.0 365.7 475.0 368.7 479.0 372.7 477.0 382.7 478.0 392.7 475.0 399.7 468.0 400.7 466.0 396.7 464.0 388.7 460.0 384.7 452.0 381.7ZM459.0 410.7 464.0 405.7 472.0 404.7 478.0 407.7 480.0 414.7 477.0 420.7 470.0 423.7 463.0 421.7 459.0 416.7ZM405.2 430.7 410.3 424.3 412.8 419.2 416.0 412.7 420.0 410.2 425.0 409.7 429.0 414.7 431.0 421.7 425.0 425.7 417.0 428.7 411.0 431.7 406.0 432.7ZM447.0 427.7 452.0 420.7 457.0 414.7 459.0 415.7 454.0 422.7 450.0 430.7ZM400.0 411.7 403.0 408.7 405.0 412.7 404.0 416.7 401.0 416.7ZM405.2 451.1 410.3 447.2 420.4 447.2 433.2 447.2 438.3 442.1 443.3 437.1 448.4 434.5 453.5 435.7 458.6 439.6 463.7 440.9 463.7 443.4 456.1 442.1 452.3 444.7 448.4 449.8 443.3 453.6 435.7 457.4 425.5 458.7 415.4 457.4 407.7 454.9ZM397.5 446.0 402.6 440.9 406.5 435.7 410.3 433.2 412.8 435.7 411.5 440.9 409.0 446.0 405.2 451.1 401.4 453.6 396.3 453.6 395.6 449.8ZM396.0 498.7 398.0 494.7 404.0 491.7 410.0 493.7 416.0 497.7 424.0 498.7 426.0 500.7 420.0 502.7 412.0 504.7 408.0 508.7 404.0 510.7 400.0 508.7 396.0 504.7ZM414.0 489.7 419.0 488.2 419.5 489.7 414.5 491.2ZM440.0 476.7 446.0 475.7 453.0 476.7 458.0 479.7 463.0 481.7 460.0 484.7 456.0 486.7 452.0 491.7 448.0 492.7 444.0 489.7 441.0 484.7ZM369.0 465.7 371.0 458.7 374.0 455.7 376.0 460.7 375.0 466.7ZM395.0 384.7 397.5 383.7 399.0 385.7 398.5 388.7 398.5 394.7 397.5 396.2 396.8 394.7 396.8 389.7 394.0 389.2 394.5 386.7ZM489.0 466.7 495.0 466.2 500.0 467.7 499.0 469.7 490.0 469.7ZM465.0 441.7 473.0 443.7 478.0 446.7 477.0 448.7 471.0 446.7 465.0 444.7ZM388.0 479.7 391.0 479.7 391.0 483.7 388.0 483.7ZM405.0 471.7 407.0 471.7 407.0 474.2 405.0 474.2Z" fill="url(#bdot2)"/><path d="M414.0 429.4 424.3 424.3 433.2 423.1 443.3 426.9 449.7 430.7 451.0 433.2 445.9 435.7 440.8 442.1 435.7 447.2 428.1 447.2 420.4 446.0 415.4 443.4 412.8 437.1Z" fill="url(#bdot_m)"/><path fill="none" stroke-width="1.3" stroke-linecap="square" stroke="#1B87D2" d="M317.1 401.2h0M345.6 383.3h0M318.7 406.0h0M344.9 384.2h0M326.5 402.0h0M317.1 395.3h0M348.1 382.9h0M321.6 387.7h0M343.2 388.3h0M328.1 402.6h0M330.0 406.1h0M331.3 383.3h0M327.0 394.3h0M349.1 388.8h0M345.5 384.0h0M329.1 405.2h0M323.1 405.6h0M335.4 388.6h0M335.4 387.7h0M325.9 395.8h0M355.5 385.9h0M339.8 381.8h0M317.0 393.8h0M317.8 400.4h0M319.7 390.7h0M323.7 385.2h0M350.3 384.3h0M328.2 399.3h0M352.8 391.5h0M326.3 398.5h0M329.9 383.6h0M330.8 391.4h0M337.9 381.7h0M334.0 388.4h0M362.6 390.0h0M316.4 401.2h0M355.0 392.9h0M344.2 382.8h0M351.3 390.9h0M357.2 392.2h0M328.5 393.3h0M345.1 390.0h0M334.6 389.5h0M342.8 388.6h0M328.3 402.8h0M349.0 384.9h0M356.7 392.5h0M325.5 399.2h0M331.4 388.9h0M328.2 404.7h0M334.5 389.8h0M328.7 405.9h0M362.9 392.3h0M344.2 388.7h0M363.9 393.1h0M351.1 391.3h0M361.6 396.4h0M334.0 388.7h0M361.9 395.7h0M347.8 389.6h0M347.4 390.3h0M316.1 398.6h0M360.7 388.0h0M317.1 403.9h0M334.1 389.8h0M327.3 408.4h0M343.4 389.8h0M348.2 383.2h0M325.6 406.1h0M340.1 382.6h0M326.4 395.0h0M323.7 406.2h0M327.0 406.2h0M319.2 405.3h0M348.6 383.1h0M347.8 383.5h0M321.7 406.7h0M331.2 389.2h0M359.2 395.2h0M327.1 383.5h0M361.1 389.7h0M331.4 393.0h0M364.3 395.2h0M345.9 389.8h0M327.9 392.5h0M321.3 404.0h0M325.4 405.8h0M341.0 386.2h0M317.4 396.1h0M337.3 385.0h0M317.3 403.6h0M341.5 382.6h0M349.7 387.4h0M375.9 427.6h0M371.2 403.8h0M372.0 405.1h0M359.2 399.2h0M372.2 404.1h0M369.9 397.0h0M371.5 408.0h0M360.9 424.5h0M364.3 391.4h0M360.6 421.3h0M360.3 408.9h0M364.4 431.1h0M372.0 399.3h0M373.3 420.9h0M361.1 422.8h0M365.6 392.6h0M359.7 394.5h0M361.8 429.2h0M361.1 393.1h0M362.2 431.4h0M372.2 410.9h0M374.6 423.9h0M361.4 423.4h0M378.1 431.8h0M361.3 428.3h0M371.5 410.3h0M373.0 412.8h0M374.5 434.4h0M370.6 436.3h0M373.0 401.6h0M371.1 397.5h0M375.2 429.0h0M377.2 435.1h0M359.7 402.8h0M360.2 424.4h0M376.9 432.1h0M372.1 404.6h0M361.2 422.0h0M372.5 421.0h0M360.5 411.4h0M371.5 400.2h0M370.3 396.1h0M360.6 411.2h0M371.4 394.7h0M367.7 434.4h0M371.4 435.6h0M370.2 435.3h0M362.2 426.3h0M357.7 400.7h0M360.7 422.1h0M360.3 418.1h0M360.9 399.5h0M366.3 392.4h0M360.5 423.9h0M377.3 431.1h0M359.9 414.2h0M367.8 434.2h0M372.8 401.5h0M360.1 412.7h0M360.6 420.7h0M371.4 405.9h0M370.3 394.9h0M374.5 427.8h0M359.5 426.7h0M371.1 392.2h0M374.2 404.4h0M364.7 432.0h0M361.0 392.8h0M356.0 412.4h0M368.2 434.9h0M376.1 419.1h0M362.3 398.0h0M379.6 425.7h0M380.5 427.4h0M377.0 436.5h0M386.8 430.9h0M403.3 418.5h0M394.7 414.2h0M390.2 421.3h0M383.4 426.5h0M382.2 427.8h0M394.8 428.6h0M387.1 424.6h0M400.0 424.1h0M398.1 426.4h0M398.3 426.4h0M386.7 425.0h0M390.1 426.6h0M392.7 416.9h0M389.5 431.5h0M372.3 431.3h0M391.0 421.0h0M375.4 435.7h0M394.2 430.9h0M392.5 430.4h0M379.3 433.9h0M401.2 423.2h0M371.9 432.9h0M374.6 432.5h0M376.0 433.3h0M394.4 413.4h0M379.7 429.0h0M374.7 431.7h0M374.1 432.2h0M390.1 423.4h0M380.8 426.9h0M380.2 436.1h0M384.4 433.3h0M402.4 420.2h0M380.1 435.3h0M391.4 421.5h0M372.4 433.1h0M376.6 431.4h0M396.5 412.8h0M388.1 433.0h0M374.9 436.3h0M390.0 421.2h0M397.4 425.8h0M382.6 434.3h0M402.2 423.4h0M399.8 426.4h0M400.7 422.5h0M378.8 435.3h0M385.9 430.6h0M391.8 423.7h0M371.7 434.4h0M397.9 427.9h0M385.6 425.3h0M398.9 416.2h0M474.4 399.2h0M468.2 400.4h0M466.8 401.1h0M466.7 396.9h0M463.0 392.3h0M465.8 399.4h0M467.5 367.9h0M448.7 377.0h0M450.3 381.8h0M477.8 387.7h0M465.4 388.2h0M456.9 369.0h0M475.0 368.6h0M451.0 374.9h0M462.2 367.1h0M477.9 395.0h0M456.1 370.8h0M472.5 367.2h0M458.6 367.9h0M467.0 365.2h0M470.0 365.9h0M478.7 379.4h0M451.3 373.2h0M479.0 390.2h0M469.8 365.3h0M467.4 399.0h0M476.9 382.3h0M464.2 390.5h0M471.8 366.2h0M477.6 380.3h0M477.9 381.3h0M454.6 373.7h0M450.9 373.3h0M471.2 366.9h0M466.9 398.3h0M464.4 389.5h0M448.7 378.6h0M452.0 372.6h0M457.0 368.8h0M466.2 398.0h0M476.2 391.0h0M475.9 386.4h0M471.4 367.7h0M453.8 372.0h0M462.7 391.6h0M450.6 380.9h0M474.3 398.6h0M457.1 384.8h0M465.9 388.6h0M445.0 379.1h0M460.1 383.7h0M457.1 369.9h0M468.9 366.9h0M477.2 388.5h0M464.4 391.1h0M444.2 379.3h0M477.2 370.0h0M475.9 397.3h0M455.1 382.9h0M475.7 384.7h0M467.3 364.2h0M447.7 379.5h0M448.0 376.9h0M466.8 397.7h0M478.5 383.7h0M452.4 373.4h0M460.6 367.6h0M465.7 395.7h0M481.1 395.1h0M473.1 369.3h0M469.7 403.2h0M461.2 367.4h0M470.2 367.8h0M477.2 373.6h0M468.2 363.4h0M473.4 405.9h0M470.9 404.5h0M476.2 405.9h0M460.1 415.1h0M457.8 412.5h0M458.6 412.3h0M476.3 406.1h0M460.4 416.1h0M476.2 405.1h0M475.2 421.9h0M457.7 412.0h0M468.3 405.4h0M466.2 422.8h0M479.1 419.0h0M475.6 420.2h0M469.6 424.4h0M466.3 422.6h0M476.9 407.9h0M461.9 407.5h0M465.1 405.6h0M460.9 416.9h0M469.5 405.0h0M465.6 422.7h0M475.1 407.6h0M460.8 408.9h0M457.9 411.6h0M459.0 415.0h0M458.3 416.5h0M480.5 413.9h0M459.1 416.7h0M479.4 414.4h0M478.3 419.0h0M459.7 418.1h0M460.4 417.5h0M461.8 420.5h0M479.6 415.5h0M471.6 421.4h0M480.4 407.4h0M480.0 406.8h0M475.2 418.2h0M479.9 410.9h0M476.8 421.4h0M478.1 407.5h0M407.7 429.1h0M419.0 427.1h0M408.0 431.7h0M412.1 419.7h0M419.2 412.0h0M408.2 430.7h0M431.2 422.3h0M406.8 432.3h0M419.4 408.4h0M416.1 412.4h0M428.5 418.2h0M410.4 424.6h0M414.5 413.4h0M429.0 414.3h0M416.4 429.8h0M429.6 417.1h0M419.7 429.0h0M418.2 411.6h0M405.5 429.8h0M428.7 425.9h0M415.2 413.5h0M426.9 411.7h0M415.1 428.4h0M404.2 430.0h0M431.5 421.4h0M411.9 431.9h0M409.3 431.0h0M408.9 426.5h0M406.1 433.5h0M427.8 415.7h0M410.9 422.8h0M408.7 426.5h0M408.6 432.7h0M412.0 419.9h0M420.2 428.7h0M412.9 430.2h0M430.5 419.6h0M414.5 416.7h0M424.9 425.3h0M417.0 428.2h0M421.0 426.2h0M417.7 429.6h0M423.0 410.3h0M409.4 425.4h0M422.1 427.4h0M423.6 431.7h0M408.8 430.5h0M419.6 408.6h0M407.1 432.2h0M432.1 414.0h0M431.2 419.3h0M436.1 446.7h0M426.6 424.6h0M416.7 428.6h0M412.6 430.2h0M429.9 423.1h0M435.3 423.1h0M429.0 423.3h0M445.2 426.7h0M442.9 428.7h0M448.3 431.9h0M416.7 442.5h0M417.9 426.7h0M441.1 426.5h0M450.2 435.0h0M420.1 445.8h0M420.5 426.6h0M413.8 435.6h0M431.7 446.2h0M439.6 443.9h0M416.9 428.7h0M420.2 426.6h0M417.7 444.6h0M448.2 434.4h0M417.8 446.3h0M433.4 425.0h0M418.1 444.5h0M426.9 426.0h0M427.2 423.7h0M445.2 427.2h0M413.2 435.4h0M425.4 446.9h0M441.2 426.3h0M426.1 424.3h0M413.5 434.7h0M428.0 424.2h0M413.6 441.4h0M423.0 445.9h0M425.4 446.6h0M426.0 424.6h0M426.5 424.4h0M437.7 423.7h0M442.0 427.9h0M425.9 446.8h0M423.5 425.1h0M442.7 440.3h0M412.5 437.5h0M417.6 444.3h0M437.4 424.0h0M447.0 433.7h0M428.6 447.4h0M425.0 425.3h0M432.8 423.2h0M413.2 430.5h0M414.0 430.5h0M437.7 444.1h0M443.5 427.1h0M422.8 446.0h0M415.6 441.0h0M443.2 442.9h0M444.0 426.4h0M443.4 439.5h0M426.1 448.0h0M425.9 425.5h0M412.7 429.5h0M442.4 436.7h0M414.9 435.1h0M445.3 427.9h0M452.2 424.4h0M447.5 426.0h0M456.7 414.7h0M449.7 427.7h0M452.6 424.9h0M455.2 418.5h0M452.7 425.4h0M448.0 428.1h0M451.4 421.6h0M455.8 416.6h0M453.1 424.7h0M459.3 417.5h0M457.8 418.0h0M451.0 429.8h0M451.0 429.6h0M453.7 423.3h0M455.5 417.3h0M458.6 419.8h0M454.4 423.9h0M449.6 422.6h0M456.0 416.9h0M451.2 423.0h0M452.6 423.1h0M456.1 417.4h0M448.5 428.6h0M453.8 425.3h0M450.3 421.4h0M454.3 431.5h0M400.8 416.7h0M399.8 414.5h0M403.7 413.9h0M402.2 409.0h0M401.7 409.2h0M401.4 410.9h0M403.9 409.4h0M403.3 408.7h0M401.2 415.2h0M400.5 414.8h0M404.2 415.2h0M399.8 411.7h0M397.8 419.2h0M404.0 415.7h0M414.1 455.5h0M410.4 446.8h0M427.9 457.5h0M431.6 457.5h0M451.5 434.1h0M446.3 436.1h0M446.6 435.4h0M459.4 440.4h0M439.7 454.9h0M446.8 434.2h0M461.8 440.0h0M412.4 447.8h0M421.0 457.8h0M456.7 436.7h0M448.8 449.4h0M450.4 446.5h0M426.5 459.2h0M419.6 446.2h0M452.4 444.8h0M460.8 439.9h0M449.9 448.0h0M423.7 448.1h0M407.3 448.2h0M428.9 447.3h0M454.2 436.7h0M414.3 457.1h0M413.8 447.6h0M456.6 439.0h0M458.9 442.7h0M447.7 435.8h0M461.3 443.4h0M431.4 446.8h0M461.9 441.0h0M450.9 435.8h0M423.1 457.3h0M421.8 457.1h0M456.7 437.9h0M425.2 458.9h0M463.6 440.7h0M452.8 444.0h0M464.3 442.1h0M462.3 440.3h0M436.7 445.1h0M407.3 448.4h0M428.5 446.6h0M435.6 444.7h0M425.9 446.3h0M408.7 446.7h0M433.3 446.9h0M438.7 455.7h0M459.1 439.6h0M456.5 441.5h0M439.8 441.4h0M408.4 449.8h0M439.6 454.3h0M407.4 448.5h0M442.6 437.7h0M454.2 442.6h0M439.2 442.1h0M464.6 442.1h0M408.2 453.9h0M409.6 448.9h0M450.9 444.5h0M438.4 453.6h0M442.6 437.6h0M433.3 447.7h0M412.5 447.4h0M439.3 455.5h0M428.9 447.7h0M422.0 448.1h0M449.4 434.6h0M459.0 439.5h0M453.4 437.2h0M450.4 448.6h0M435.1 444.9h0M415.3 456.4h0M414.5 446.4h0M434.3 458.5h0M413.0 447.6h0M449.7 448.0h0M445.8 436.5h0M461.0 435.6h0M453.1 447.9h0M409.9 445.0h0M408.9 449.5h0M417.1 457.6h0M413.8 459.6h0M427.4 444.8h0M413.2 459.0h0M459.9 441.7h0M463.7 439.7h0M455.5 442.2h0M447.8 435.5h0M428.0 457.9h0M405.8 449.4h0M410.9 433.1h0M405.3 451.8h0M396.0 451.9h0M410.5 443.7h0M410.4 444.2h0M408.5 444.9h0M410.5 433.0h0M396.1 447.8h0M400.2 453.7h0M400.0 444.2h0M406.2 448.9h0M409.7 447.7h0M403.4 441.0h0M411.5 436.6h0M409.6 445.9h0M410.0 445.0h0M399.8 441.5h0M408.0 448.8h0M406.6 449.4h0M399.1 454.7h0M411.3 442.9h0M409.3 434.8h0M407.0 435.6h0M408.8 434.5h0M409.0 434.2h0M407.3 448.7h0M410.5 442.4h0M403.4 440.1h0M410.7 443.6h0M403.5 442.0h0M398.0 453.1h0M399.8 453.5h0M407.3 445.5h0M396.9 447.1h0M402.5 444.2h0M399.6 453.8h0M399.3 444.2h0M404.0 451.4h0M420.7 502.5h0M407.0 509.6h0M420.1 497.8h0M405.5 509.7h0M417.5 497.8h0M398.4 495.3h0M398.6 493.7h0M413.1 503.3h0M397.4 496.1h0M397.5 508.2h0M409.1 494.0h0M398.3 506.7h0M396.5 495.1h0M397.7 507.0h0M402.5 491.8h0M420.5 499.5h0M418.7 503.2h0M414.5 504.8h0M412.2 495.4h0M403.5 492.9h0M402.6 492.6h0M420.4 501.9h0M398.5 494.6h0M416.6 497.7h0M400.6 509.1h0M412.0 505.9h0M423.4 498.4h0M420.8 497.8h0M408.0 508.9h0M400.5 508.2h0M421.6 498.4h0M405.1 491.9h0M394.8 499.6h0M412.7 505.0h0M412.3 495.5h0M405.3 492.3h0M402.6 492.0h0M395.1 502.5h0M401.8 509.0h0M426.5 501.7h0M409.2 506.0h0M396.1 503.2h0M402.4 491.4h0M396.1 505.0h0M419.4 497.9h0M421.9 503.7h0M422.7 494.7h0M418.7 505.0h0M422.3 498.0h0M412.0 505.8h0M413.5 497.9h0M417.5 497.0h0M418.8 487.9h0M413.5 491.0h0M419.8 489.6h0M418.1 488.9h0M416.7 489.0h0M413.4 489.9h0M418.3 488.9h0M416.9 488.1h0M421.0 486.5h0M456.5 478.3h0M447.1 475.0h0M452.2 490.1h0M443.6 489.6h0M445.6 491.4h0M448.7 492.5h0M447.8 476.7h0M448.0 490.9h0M447.8 475.7h0M463.9 481.8h0M442.4 485.0h0M452.5 490.3h0M441.4 483.0h0M441.6 481.6h0M442.6 476.0h0M441.5 485.1h0M440.1 476.4h0M457.8 484.5h0M447.7 476.4h0M441.8 481.6h0M462.1 483.9h0M454.7 479.4h0M444.9 489.3h0M458.5 479.1h0M447.1 475.8h0M448.8 492.3h0M440.7 480.8h0M444.3 475.0h0M451.3 476.1h0M455.1 487.2h0M461.2 480.2h0M439.7 476.1h0M444.7 491.6h0M438.7 482.6h0M454.0 488.3h0M453.1 490.4h0M441.3 480.2h0M454.9 491.5h0M456.6 486.2h0M455.1 476.3h0M464.2 479.4h0M444.9 488.6h0M442.2 479.6h0M373.1 467.1h0M375.0 460.8h0M376.2 462.3h0M373.7 462.5h0M371.3 458.3h0M370.2 465.7h0M371.7 464.7h0M371.9 465.7h0M371.0 458.0h0M375.0 458.0h0M374.1 455.3h0M373.6 456.7h0M371.0 465.2h0M370.9 458.4h0M375.7 458.5h0M372.6 467.8h0M375.5 467.0h0M372.9 457.4h0M372.9 457.3h0M397.0 390.8h0M397.4 394.1h0M396.8 394.4h0M399.5 395.3h0M398.9 390.7h0M398.5 385.4h0M398.2 393.1h0M399.6 388.6h0M397.4 384.5h0M398.4 386.0h0M395.7 384.7h0M399.8 389.3h0M395.0 389.1h0M399.4 390.0h0M398.2 391.3h0M395.5 390.3h0M400.2 385.5h0M397.4 393.3h0M398.2 386.9h0M396.8 385.7h0M390.8 389.0h0M495.2 469.5h0M495.1 469.8h0M496.2 469.8h0M493.0 470.2h0M499.5 466.8h0M499.0 468.3h0M490.5 469.5h0M499.7 468.8h0M499.2 469.0h0M491.9 469.7h0M493.5 468.7h0M494.3 470.9h0M488.1 466.8h0M496.0 471.0h0M491.9 467.2h0M490.0 470.4h0M493.1 471.0h0M466.3 445.8h0M465.9 442.6h0M477.0 447.7h0M472.4 447.9h0M466.5 445.2h0M465.1 442.4h0M468.5 443.1h0M471.3 447.1h0M468.4 442.8h0M466.8 441.9h0M471.2 447.1h0M477.9 446.5h0M475.5 447.5h0M472.6 444.7h0M475.1 448.8h0M478.0 447.0h0M465.7 443.1h0M467.5 443.2h0M474.3 445.3h0M468.7 449.0h0M478.6 450.1h0M462.2 444.0h0M390.8 480.3h0M389.8 483.8h0M389.8 483.0h0M386.1 482.2h0M391.3 478.6h0M390.3 479.5h0M389.0 479.5h0M387.9 477.2h0M390.3 483.5h0M404.5 473.0h0M407.6 471.7h0M403.8 471.9h0M403.8 471.4h0M406.5 474.4h0"/><path d="M61.5 404.4 65.1 403.2 70.5 405.3 74.2 407.2 72.4 409.9 67.8 408.1 62.4 406.8ZM195.0 422.7 200.0 426.7 204.0 434.7 205.0 442.7 207.0 451.7 203.0 457.7 197.0 464.7 190.0 470.7 184.0 468.7 188.0 464.7 195.0 456.7 200.0 450.7 200.0 442.7 198.0 434.7 194.0 428.7ZM180.0 451.7 185.0 446.7 190.0 444.7 188.0 451.7 184.0 456.7 186.0 464.7 182.0 466.7 180.0 460.7ZM98.0 494.7 104.0 500.7 112.0 506.7 118.0 512.7 122.0 508.7 114.0 502.7 106.0 496.7 100.0 491.7ZM150.0 494.7 158.0 489.7 163.0 482.7 160.0 490.7 154.0 497.7ZM410.0 420.7 413.0 414.7 417.0 410.7 422.0 409.2 427.0 410.7 430.0 414.7 426.0 417.2 420.0 416.7 415.0 419.7 412.0 423.7ZM401.0 444.7 404.0 436.7 407.0 428.7 410.0 421.7 413.0 422.7 410.0 430.7 407.0 438.7 405.0 446.7ZM471.0 405.7 478.0 407.7 480.0 414.7 477.0 420.7 471.0 422.7 473.0 414.7ZM452.0 438.7 458.0 439.7 465.0 441.7 473.0 443.7 478.0 446.7 477.0 448.7 470.0 446.7 460.0 443.7 452.0 442.7ZM474.0 376.7 478.0 374.7 477.0 386.7 478.0 396.7 474.0 398.7 472.0 386.7Z" fill="url(#rdot)"/><path d="M433.0 434.7 442.0 430.7 450.0 432.7 452.0 440.7 448.0 448.7 440.0 451.7 434.0 448.7 432.0 441.7ZM100.0 440.7 104.0 432.7 110.0 426.7 118.0 422.7 128.0 420.7 132.0 422.7 126.0 426.7 118.0 429.7 112.0 434.7 108.0 442.7ZM98.0 444.7 108.0 442.7 116.0 435.7 128.0 428.7 131.0 436.7 128.0 444.7 115.0 445.7Z" fill="url(#mdot)"/><text x="145.3" y="120.5" font-size="9" text-anchor="middle">0</text><text x="122.6" y="71.8" font-size="9" text-anchor="middle">1</text><text x="165.3" y="37.3" font-size="9" text-anchor="middle">2</text><text x="71.6" y="85.9" font-size="9" text-anchor="middle">3</text><text x="152.3" y="88.5" font-size="9" text-anchor="middle">4</text><text x="109.6" y="25.5" font-size="9" text-anchor="middle">5</text><text x="113.3" y="141.4" font-size="9" text-anchor="middle">6</text><text x="193.5" y="99.6" font-size="9" text-anchor="middle">7</text><text x="129.5" y="46.8" font-size="9" text-anchor="middle">8</text><text x="186.4" y="73.7" font-size="9" text-anchor="middle">9</text><text x="99.6" y="109.6" font-size="9" text-anchor="middle">10</text><text x="213.2" y="56.2" font-size="9" text-anchor="middle">11</text><text x="47.3" y="67.0" font-size="9" text-anchor="middle">12</text><text x="62.5" y="59.0" font-size="9" text-anchor="middle">13</text><text x="71.5" y="34.6" font-size="9" text-anchor="middle">14</text><text x="86.5" y="41.5" font-size="9" text-anchor="middle">15</text><text x="468.0" y="28.2" font-size="9" text-anchor="middle">0</text><text x="329.5" y="36.8" font-size="9" text-anchor="middle">2</text><text x="365.5" y="61.0" font-size="9" text-anchor="middle">3</text><text x="393.0" y="73.2" font-size="9" text-anchor="middle">10</text><text x="419.5" y="66.2" font-size="9" text-anchor="middle">7</text><text x="428.0" y="75.2" font-size="9" text-anchor="middle">4</text><text x="468.0" y="61.2" font-size="9" text-anchor="middle">6</text><text x="404.0" y="89.7" font-size="9" text-anchor="middle">9</text><text x="438.3" y="93.2" font-size="9" text-anchor="middle">1</text><text x="477.0" y="92.2" font-size="9" text-anchor="middle">13</text><text x="376.4" y="102.4" font-size="9" text-anchor="middle">11</text><text x="410.0" y="119.2" font-size="9" text-anchor="middle">15</text><text x="392.5" y="128.2" font-size="9" text-anchor="middle">14</text><text x="494.0" y="113.2" font-size="9" text-anchor="middle">12</text><text x="450.4" y="129.8" font-size="9" text-anchor="middle">8</text><text x="405.0" y="146.9" font-size="9" text-anchor="middle">5</text><rect x="36.0" y="6.0" width="192.2" height="153.2" fill="none" stroke="#1a1a1a" stroke-width="1.3"/><path d="M41.6 159.2v2" stroke="#1a1a1a" stroke-width="1"/><text x="41.6" y="169.0" font-size="9" text-anchor="middle">-50</text><path d="M87.8 159.2v2" stroke="#1a1a1a" stroke-width="1"/><text x="87.8" y="169.0" font-size="9" text-anchor="middle">-25</text><path d="M134.0 159.2v2" stroke="#1a1a1a" stroke-width="1"/><text x="134.0" y="169.0" font-size="9" text-anchor="middle">0</text><path d="M180.2 159.2v2" stroke="#1a1a1a" stroke-width="1"/><text x="180.2" y="169.0" font-size="9" text-anchor="middle">25</text><path d="M33.5 43.2h2.5" stroke="#1a1a1a" stroke-width="1"/><text x="32.0" y="46.4" font-size="9" text-anchor="end">25</text><path d="M33.5 79.2h2.5" stroke="#1a1a1a" stroke-width="1"/><text x="32.0" y="82.4" font-size="9" text-anchor="end">0</text><path d="M33.5 115.2h2.5" stroke="#1a1a1a" stroke-width="1"/><text x="32.0" y="118.4" font-size="9" text-anchor="end">-25</text><path d="M33.5 151.2h2.5" stroke="#1a1a1a" stroke-width="1"/><text x="32.0" y="154.4" font-size="9" text-anchor="end">-50</text><text x="135.9" y="181.8" font-size="12.5" text-anchor="middle">t-SNE_1</text><text transform="translate(17.2,82.0) rotate(-90)" font-size="12.5" text-anchor="middle">t-SNE_2</text><rect x="313.5" y="6.0" width="190.0" height="152.0" fill="none" stroke="#1a1a1a" stroke-width="1.3"/><path d="M340.2 158.0v2.5" stroke="#1a1a1a" stroke-width="1"/><text x="340.2" y="169.4" font-size="9" text-anchor="middle">-10</text><path d="M378.8 158.0v2.5" stroke="#1a1a1a" stroke-width="1"/><text x="378.8" y="169.4" font-size="9" text-anchor="middle">-5</text><path d="M417.4 158.0v2.5" stroke="#1a1a1a" stroke-width="1"/><text x="417.4" y="169.4" font-size="9" text-anchor="middle">0</text><path d="M456.0 158.0v2.5" stroke="#1a1a1a" stroke-width="1"/><text x="456.0" y="169.4" font-size="9" text-anchor="middle">5</text><path d="M494.6 158.0v2.5" stroke="#1a1a1a" stroke-width="1"/><text x="494.6" y="169.4" font-size="9" text-anchor="middle">10</text><path d="M311 39.0h2.5" stroke="#1a1a1a" stroke-width="1"/><text x="308.2" y="42.2" font-size="9" text-anchor="end">5</text><path d="M311 72.0h2.5" stroke="#1a1a1a" stroke-width="1"/><text x="308.2" y="75.2" font-size="9" text-anchor="end">0</text><path d="M311 105.0h2.5" stroke="#1a1a1a" stroke-width="1"/><text x="308.2" y="108.2" font-size="9" text-anchor="end">-5</text><path d="M311 138.0h2.5" stroke="#1a1a1a" stroke-width="1"/><text x="308.2" y="141.2" font-size="9" text-anchor="end">-10</text><text x="417.1" y="180.5" font-size="12.5" text-anchor="middle">UMAP1</text><text transform="translate(298.3,79.8) rotate(-90)" font-size="12.5" text-anchor="middle">UMAP2</text><rect x="36.0" y="362.7" width="192.2" height="153.2" fill="none" stroke="#1a1a1a" stroke-width="1.3"/><path d="M41.6 515.9v2" stroke="#1a1a1a" stroke-width="1"/><text x="41.6" y="525.7" font-size="9" text-anchor="middle">-50</text><path d="M87.8 515.9v2" stroke="#1a1a1a" stroke-width="1"/><text x="87.8" y="525.7" font-size="9" text-anchor="middle">-25</text><path d="M134.0 515.9v2" stroke="#1a1a1a" stroke-width="1"/><text x="134.0" y="525.7" font-size="9" text-anchor="middle">0</text><path d="M180.2 515.9v2" stroke="#1a1a1a" stroke-width="1"/><text x="180.2" y="525.7" font-size="9" text-anchor="middle">25</text><path d="M33.5 399.9h2.5" stroke="#1a1a1a" stroke-width="1"/><text x="32.0" y="403.1" font-size="9" text-anchor="end">25</text><path d="M33.5 435.9h2.5" stroke="#1a1a1a" stroke-width="1"/><text x="32.0" y="439.1" font-size="9" text-anchor="end">0</text><path d="M33.5 471.9h2.5" stroke="#1a1a1a" stroke-width="1"/><text x="32.0" y="475.1" font-size="9" text-anchor="end">-25</text><path d="M33.5 507.9h2.5" stroke="#1a1a1a" stroke-width="1"/><text x="32.0" y="511.1" font-size="9" text-anchor="end">-50</text><text x="126.8" y="538.5" font-size="12.5" text-anchor="middle">t-SNE_1</text><text transform="translate(17.2,446.0) rotate(-90)" font-size="12.5" text-anchor="middle">t-SNE_2</text><rect x="313.5" y="362.7" width="190.0" height="152.0" fill="none" stroke="#1a1a1a" stroke-width="1.3"/><path d="M340.2 514.7v2.5" stroke="#1a1a1a" stroke-width="1"/><text x="340.2" y="526.1" font-size="9" text-anchor="middle">-10</text><path d="M378.8 514.7v2.5" stroke="#1a1a1a" stroke-width="1"/><text x="378.8" y="526.1" font-size="9" text-anchor="middle">-5</text><path d="M417.4 514.7v2.5" stroke="#1a1a1a" stroke-width="1"/><text x="417.4" y="526.1" font-size="9" text-anchor="middle">0</text><path d="M456.0 514.7v2.5" stroke="#1a1a1a" stroke-width="1"/><text x="456.0" y="526.1" font-size="9" text-anchor="middle">5</text><path d="M494.6 514.7v2.5" stroke="#1a1a1a" stroke-width="1"/><text x="494.6" y="526.1" font-size="9" text-anchor="middle">10</text><path d="M311 395.7h2.5" stroke="#1a1a1a" stroke-width="1"/><text x="308.2" y="398.9" font-size="9" text-anchor="end">5</text><path d="M311 428.7h2.5" stroke="#1a1a1a" stroke-width="1"/><text x="308.2" y="431.9" font-size="9" text-anchor="end">0</text><path d="M311 461.7h2.5" stroke="#1a1a1a" stroke-width="1"/><text x="308.2" y="464.9" font-size="9" text-anchor="end">-5</text><path d="M311 494.7h2.5" stroke="#1a1a1a" stroke-width="1"/><text x="308.2" y="497.9" font-size="9" text-anchor="end">-10</text><text x="406.4" y="537.2" font-size="12.5" text-anchor="middle">UMAP1</text><text transform="translate(296.4,435.6) rotate(-90)" font-size="12.5" text-anchor="middle">UMAP2</text><rect x="234.3" y="6.1" width="4.2" height="4" fill="#F8A62A"/><text x="242.0" y="10.8" font-size="9" text-anchor="start">0</text><rect x="234.3" y="21.1" width="4.2" height="4" fill="#22C4EE"/><text x="242.0" y="25.8" font-size="9" text-anchor="start">1</text><rect x="234.3" y="36.1" width="4.2" height="4" fill="#EE3342"/><text x="242.0" y="40.9" font-size="9" text-anchor="start">2</text><rect x="234.3" y="51.2" width="4.2" height="4" fill="#17AE6E"/><text x="242.0" y="55.9" font-size="9" text-anchor="start">3</text><rect x="234.3" y="66.2" width="4.2" height="4" fill="#F4E829"/><text x="242.0" y="70.9" font-size="9" text-anchor="start">4</text><rect x="234.3" y="81.2" width="4.2" height="4" fill="#C52A97"/><text x="242.0" y="85.9" font-size="9" text-anchor="start">5</text><rect x="234.3" y="96.2" width="4.2" height="4" fill="#1FBAA3"/><text x="242.0" y="100.9" font-size="9" text-anchor="start">6</text><rect x="234.3" y="111.2" width="4.2" height="4" fill="#F5813F"/><text x="242.0" y="116.0" font-size="9" text-anchor="start">7</text><rect x="234.3" y="126.3" width="4.2" height="4" fill="#7553AB"/><text x="242.0" y="131.0" font-size="9" text-anchor="start">8</text><rect x="234.3" y="141.3" width="4.2" height="4" fill="#C5C5E8"/><text x="242.0" y="146.0" font-size="9" text-anchor="start">9</text><rect x="234.3" y="156.3" width="4.2" height="4" fill="#C393D1"/><text x="242.0" y="161.0" font-size="9" text-anchor="start">10</text><rect x="254.0" y="6.1" width="4.2" height="4" fill="#F7B3B6"/><text x="262.0" y="10.8" font-size="9" text-anchor="start">11</text><rect x="254.0" y="21.1" width="4.2" height="4" fill="#EFC2A9"/><text x="262.0" y="25.8" font-size="9" text-anchor="start">12</text><rect x="254.0" y="36.1" width="4.2" height="4" fill="#1B2470"/><text x="262.0" y="40.9" font-size="9" text-anchor="start">13</text><rect x="254.0" y="51.2" width="4.2" height="4" fill="#19A5C8"/><text x="262.0" y="55.9" font-size="9" text-anchor="start">14</text><rect x="254.0" y="66.2" width="4.2" height="4" fill="#A5CF43"/><text x="262.0" y="70.9" font-size="9" text-anchor="start">15</text><rect x="508.8" y="4.9" width="4.2" height="4" fill="#F8A62A"/><text x="517.0" y="10.1" font-size="9" text-anchor="start">0</text><rect x="508.8" y="19.9" width="4.2" height="4" fill="#22C4EE"/><text x="517.0" y="25.1" font-size="9" text-anchor="start">1</text><rect x="508.8" y="34.9" width="4.2" height="4" fill="#EE3342"/><text x="517.0" y="40.2" font-size="9" text-anchor="start">2</text><rect x="508.8" y="50.0" width="4.2" height="4" fill="#17AE6E"/><text x="517.0" y="55.2" font-size="9" text-anchor="start">3</text><rect x="508.8" y="65.0" width="4.2" height="4" fill="#F4E829"/><text x="517.0" y="70.2" font-size="9" text-anchor="start">4</text><rect x="508.8" y="80.0" width="4.2" height="4" fill="#C52A97"/><text x="517.0" y="85.2" font-size="9" text-anchor="start">5</text><rect x="508.8" y="95.0" width="4.2" height="4" fill="#1FBAA3"/><text x="517.0" y="100.2" font-size="9" text-anchor="start">6</text><rect x="508.8" y="110.0" width="4.2" height="4" fill="#F5813F"/><text x="517.0" y="115.3" font-size="9" text-anchor="start">7</text><rect x="508.8" y="125.1" width="4.2" height="4" fill="#7553AB"/><text x="517.0" y="130.3" font-size="9" text-anchor="start">8</text><rect x="508.8" y="140.1" width="4.2" height="4" fill="#C5C5E8"/><text x="517.0" y="145.3" font-size="9" text-anchor="start">9</text><rect x="508.8" y="155.1" width="4.2" height="4" fill="#C393D1"/><text x="517.0" y="160.3" font-size="9" text-anchor="start">10</text><rect x="528.2" y="4.9" width="4.2" height="4" fill="#F7B3B6"/><text x="536.5" y="10.1" font-size="9" text-anchor="start">11</text><rect x="528.2" y="19.9" width="4.2" height="4" fill="#EFC2A9"/><text x="536.5" y="25.1" font-size="9" text-anchor="start">12</text><rect x="528.2" y="34.9" width="4.2" height="4" fill="#1B2470"/><text x="536.5" y="40.2" font-size="9" text-anchor="start">13</text><rect x="528.2" y="50.0" width="4.2" height="4" fill="#19A5C8"/><text x="536.5" y="55.2" font-size="9" text-anchor="start">14</text><rect x="528.2" y="65.0" width="4.2" height="4" fill="#A5CF43"/><text x="536.5" y="70.2" font-size="9" text-anchor="start">15</text><text x="5.0" y="14.8" font-size="13" text-anchor="start">A</text><text x="285.0" y="14.6" font-size="13" text-anchor="start">B</text><text x="5.5" y="197.4" font-size="13" text-anchor="start">C</text><text x="199.0" y="197.6" font-size="13" text-anchor="start">D</text><text x="5.5" y="368.5" font-size="13" text-anchor="start">E</text><text x="281.8" y="368.2" font-size="13" text-anchor="start">F</text><rect x="60.6" y="196.73" width="19" height="23.80" fill="#F8A62A"/><rect x="60.6" y="220.53" width="19" height="17.55" fill="#22C4EE"/><rect x="60.6" y="238.08" width="19" height="16.72" fill="#EE3342"/><rect x="60.6" y="254.80" width="19" height="14.64" fill="#17AE6E"/><rect x="60.6" y="269.44" width="19" height="13.95" fill="#F4E829"/><rect x="60.6" y="283.39" width="19" height="12.98" fill="#C52A97"/><rect x="60.6" y="296.37" width="19" height="10.16" fill="#1FBAA3"/><rect x="60.6" y="306.52" width="19" height="9.30" fill="#F5813F"/><rect x="60.6" y="315.83" width="19" height="8.08" fill="#7553AB"/><rect x="60.6" y="323.90" width="19" height="6.84" fill="#C5C5E8"/><rect x="60.6" y="330.74" width="19" height="5.82" fill="#C393D1"/><rect x="60.6" y="336.56" width="19" height="3.64" fill="#F7B3B6"/><rect x="60.6" y="340.20" width="19" height="1.85" fill="#EFC2A9"/><rect x="60.6" y="342.05" width="19" height="1.75" fill="#1B2470"/><rect x="60.6" y="343.80" width="19" height="1.04" fill="#19A5C8"/><rect x="60.6" y="344.84" width="19" height="0.46" fill="#A5CF43"/><rect x="58.6" y="197.1" width="23.8" height="148.2" fill="none" stroke="#1a1a1a" stroke-width="1.3"/><path d="M70.3 345.3v3" stroke="#1a1a1a" stroke-width="1"/><path d="M55.8 345.3h2.9" stroke="#1a1a1a" stroke-width="1"/><text x="53.2" y="348.7" font-size="9.4" text-anchor="end">0</text><path d="M55.8 324.5h2.9" stroke="#1a1a1a" stroke-width="1"/><text x="53.2" y="327.9" font-size="9.4" text-anchor="end">2,000</text><path d="M55.8 303.7h2.9" stroke="#1a1a1a" stroke-width="1"/><text x="53.2" y="307.0" font-size="9.4" text-anchor="end">4,000</text><path d="M55.8 282.9h2.9" stroke="#1a1a1a" stroke-width="1"/><text x="53.2" y="286.2" font-size="9.4" text-anchor="end">6,000</text><path d="M55.8 262.0h2.9" stroke="#1a1a1a" stroke-width="1"/><text x="53.2" y="265.4" font-size="9.4" text-anchor="end">8,000</text><path d="M55.8 241.2h2.9" stroke="#1a1a1a" stroke-width="1"/><text x="53.2" y="244.6" font-size="9.4" text-anchor="end">10,000</text><path d="M55.8 220.4h2.9" stroke="#1a1a1a" stroke-width="1"/><text x="53.2" y="223.8" font-size="9.4" text-anchor="end">12,000</text><path d="M55.8 199.6h2.9" stroke="#1a1a1a" stroke-width="1"/><text x="53.2" y="203.0" font-size="9.4" text-anchor="end">14,000</text><text transform="translate(21,264.4) rotate(-90)" font-size="12.8" text-anchor="middle">Number of cells</text><text x="87.6" y="219.7" font-size="9.5" text-anchor="start">2,287</text><rect x="114.2" y="212.5" width="6.2" height="6" fill="#F8A62A"/><text x="124.2" y="220.5" font-size="9.5" text-anchor="start">0</text><text x="87.6" y="234.6" font-size="9.5" text-anchor="start">1,686</text><rect x="114.2" y="227.4" width="6.2" height="6" fill="#22C4EE"/><text x="124.2" y="235.4" font-size="9.5" text-anchor="start">1</text><text x="87.6" y="249.6" font-size="9.5" text-anchor="start">1,607</text><rect x="114.2" y="242.4" width="6.2" height="6" fill="#EE3342"/><text x="124.2" y="250.4" font-size="9.5" text-anchor="start">2</text><text x="87.6" y="264.5" font-size="9.5" text-anchor="start">1,407</text><rect x="114.2" y="257.3" width="6.2" height="6" fill="#17AE6E"/><text x="124.2" y="265.3" font-size="9.5" text-anchor="start">3</text><text x="87.6" y="279.4" font-size="9.5" text-anchor="start">1,340</text><rect x="114.2" y="272.2" width="6.2" height="6" fill="#F4E829"/><text x="124.2" y="280.2" font-size="9.5" text-anchor="start">4</text><text x="87.6" y="294.4" font-size="9.5" text-anchor="start">1,247</text><rect x="114.2" y="287.2" width="6.2" height="6" fill="#C52A97"/><text x="124.2" y="295.2" font-size="9.5" text-anchor="start">5</text><text x="87.6" y="309.3" font-size="9.5" text-anchor="start">976</text><rect x="114.2" y="302.1" width="6.2" height="6" fill="#1FBAA3"/><text x="124.2" y="310.1" font-size="9.5" text-anchor="start">6</text><text x="87.6" y="324.2" font-size="9.5" text-anchor="start">894</text><rect x="114.2" y="317.0" width="6.2" height="6" fill="#F5813F"/><text x="124.2" y="325.0" font-size="9.5" text-anchor="start">7</text><text x="148.6" y="219.4" font-size="9.5" text-anchor="start">776</text><rect x="170.0" y="212.2" width="6.2" height="6" fill="#7553AB"/><text x="180.0" y="220.2" font-size="9.5" text-anchor="start">8</text><text x="148.6" y="234.3" font-size="9.5" text-anchor="start">657</text><rect x="170.0" y="227.1" width="6.2" height="6" fill="#C5C5E8"/><text x="180.0" y="235.1" font-size="9.5" text-anchor="start">9</text><text x="148.6" y="249.3" font-size="9.5" text-anchor="start">559</text><rect x="170.0" y="242.1" width="6.2" height="6" fill="#C393D1"/><text x="180.0" y="250.1" font-size="9.5" text-anchor="start">10</text><text x="148.6" y="264.2" font-size="9.5" text-anchor="start">350</text><rect x="170.0" y="257.0" width="6.2" height="6" fill="#F7B3B6"/><text x="180.0" y="265.0" font-size="9.5" text-anchor="start">11</text><text x="148.6" y="279.1" font-size="9.5" text-anchor="start">178</text><rect x="170.0" y="271.9" width="6.2" height="6" fill="#EFC2A9"/><text x="180.0" y="279.9" font-size="9.5" text-anchor="start">12</text><text x="148.6" y="294.1" font-size="9.5" text-anchor="start">168</text><rect x="170.0" y="286.8" width="6.2" height="6" fill="#1B2470"/><text x="180.0" y="294.9" font-size="9.5" text-anchor="start">13</text><text x="148.6" y="309.0" font-size="9.5" text-anchor="start">100</text><rect x="170.0" y="301.8" width="6.2" height="6" fill="#19A5C8"/><text x="180.0" y="309.8" font-size="9.5" text-anchor="start">14</text><text x="148.6" y="323.9" font-size="9.5" text-anchor="start">44</text><rect x="170.0" y="316.7" width="6.2" height="6" fill="#A5CF43"/><text x="180.0" y="324.7" font-size="9.5" text-anchor="start">15</text><rect x="244.90" y="221.25" width="11" height="118.05" fill="#F8A62A"/><text x="250.4" y="218.9" font-size="8.7" text-anchor="middle">16.02</text><path d="M250.40 339.3v3.8" stroke="#1a1a1a" stroke-width="1.2"/><text x="250.4" y="351.8" font-size="9" text-anchor="middle">0</text><rect x="263.65" y="252.41" width="11" height="86.89" fill="#22C4EE"/><text x="269.2" y="244.2" font-size="8.7" text-anchor="middle">11.81</text><path d="M269.15 339.3v3.8" stroke="#1a1a1a" stroke-width="1.2"/><text x="269.1" y="351.8" font-size="9" text-anchor="middle">1</text><rect x="282.40" y="256.48" width="11" height="82.82" fill="#EE3342"/><text x="287.2" y="254.0" font-size="8.7" text-anchor="middle">11.26</text><path d="M287.90 339.3v3.8" stroke="#1a1a1a" stroke-width="1.2"/><text x="287.9" y="351.8" font-size="9" text-anchor="middle">2</text><rect x="301.15" y="266.91" width="11" height="72.39" fill="#17AE6E"/><text x="305.7" y="262.7" font-size="8.7" text-anchor="middle">9.85</text><path d="M306.65 339.3v3.8" stroke="#1a1a1a" stroke-width="1.2"/><text x="306.6" y="351.8" font-size="9" text-anchor="middle">3</text><rect x="319.90" y="270.31" width="11" height="68.99" fill="#F4E829"/><text x="324.0" y="269.1" font-size="8.7" text-anchor="middle">9.39</text><path d="M325.40 339.3v3.8" stroke="#1a1a1a" stroke-width="1.2"/><text x="325.4" y="351.8" font-size="9" text-anchor="middle">4</text><rect x="338.65" y="275.20" width="11" height="64.10" fill="#C52A97"/><text x="344.5" y="272.5" font-size="8.7" text-anchor="middle">8.73</text><path d="M344.15 339.3v3.8" stroke="#1a1a1a" stroke-width="1.2"/><text x="344.1" y="351.8" font-size="9" text-anchor="middle">5</text><rect x="357.40" y="289.18" width="11" height="50.12" fill="#1FBAA3"/><text x="362.0" y="286.2" font-size="8.7" text-anchor="middle">6.84</text><path d="M362.90 339.3v3.8" stroke="#1a1a1a" stroke-width="1.2"/><text x="362.9" y="351.8" font-size="9" text-anchor="middle">6</text><rect x="376.15" y="293.48" width="11" height="45.82" fill="#F5813F"/><text x="380.0" y="292.8" font-size="8.7" text-anchor="middle">6.26</text><path d="M381.65 339.3v3.8" stroke="#1a1a1a" stroke-width="1.2"/><text x="381.6" y="351.8" font-size="9" text-anchor="middle">7</text><rect x="394.90" y="299.54" width="11" height="39.76" fill="#7553AB"/><text x="399.0" y="299.1" font-size="8.7" text-anchor="middle">5.44</text><path d="M400.40 339.3v3.8" stroke="#1a1a1a" stroke-width="1.2"/><text x="400.4" y="351.8" font-size="9" text-anchor="middle">8</text><rect x="413.65" y="305.76" width="11" height="33.54" fill="#C5C5E8"/><text x="418.6" y="303.8" font-size="8.7" text-anchor="middle">4.6</text><path d="M419.15 339.3v3.8" stroke="#1a1a1a" stroke-width="1.2"/><text x="419.1" y="351.8" font-size="9" text-anchor="middle">9</text><rect x="432.40" y="310.87" width="11" height="28.43" fill="#C393D1"/><text x="439.2" y="308.1" font-size="8.7" text-anchor="middle">3.91</text><path d="M437.90 339.3v3.8" stroke="#1a1a1a" stroke-width="1.2"/><text x="437.9" y="351.8" font-size="9" text-anchor="middle">10</text><rect x="451.15" y="321.67" width="11" height="17.63" fill="#F7B3B6"/><text x="456.4" y="318.7" font-size="8.7" text-anchor="middle">2.45</text><path d="M456.65 339.3v3.8" stroke="#1a1a1a" stroke-width="1.2"/><text x="456.6" y="351.8" font-size="9" text-anchor="middle">11</text><rect x="469.90" y="330.55" width="11" height="8.75" fill="#EFC2A9"/><text x="474.4" y="327.7" font-size="8.7" text-anchor="middle">1.25</text><path d="M475.40 339.3v3.8" stroke="#1a1a1a" stroke-width="1.2"/><text x="475.4" y="351.8" font-size="9" text-anchor="middle">12</text><rect x="488.65" y="331.07" width="11" height="8.23" fill="#1B2470"/><text x="494.3" y="329.0" font-size="8.7" text-anchor="middle">1.18</text><path d="M494.15 339.3v3.8" stroke="#1a1a1a" stroke-width="1.2"/><text x="494.1" y="351.8" font-size="9" text-anchor="middle">13</text><rect x="507.40" y="334.62" width="11" height="4.68" fill="#19A5C8"/><text x="512.3" y="331.5" font-size="8.7" text-anchor="middle">0.7</text><path d="M512.90 339.3v3.8" stroke="#1a1a1a" stroke-width="1.2"/><text x="512.9" y="351.8" font-size="9" text-anchor="middle">14</text><rect x="526.15" y="337.51" width="11" height="1.79" fill="#A5CF43"/><text x="532.1" y="334.8" font-size="8.7" text-anchor="middle">0.31</text><path d="M531.65 339.3v3.8" stroke="#1a1a1a" stroke-width="1.2"/><text x="531.6" y="351.8" font-size="9" text-anchor="middle">15</text><path d="M237.6 190.5V339.3H544.5" fill="none" stroke="#1a1a1a" stroke-width="1.4"/><path d="M234.2 339.2h3.4" stroke="#1a1a1a" stroke-width="1"/><text x="232.2" y="342.6" font-size="9.5" text-anchor="end">0</text><path d="M234.2 302.2h3.4" stroke="#1a1a1a" stroke-width="1"/><text x="232.2" y="305.6" font-size="9.5" text-anchor="end">5</text><path d="M234.2 265.2h3.4" stroke="#1a1a1a" stroke-width="1"/><text x="232.2" y="268.6" font-size="9.5" text-anchor="end">10</text><path d="M234.2 228.2h3.4" stroke="#1a1a1a" stroke-width="1"/><text x="232.2" y="231.6" font-size="9.5" text-anchor="end">15</text><path d="M234.2 191.2h3.4" stroke="#1a1a1a" stroke-width="1"/><text x="232.2" y="194.6" font-size="9.5" text-anchor="end">20</text><text transform="translate(215.2,258.5) rotate(-90)" font-size="13" text-anchor="middle">Percentage(%)</text><defs><linearGradient id="cb" x1="0" y1="1" x2="0" y2="0"><stop offset="0" stop-color="#1088D8"/><stop offset="0.3" stop-color="#5F82BF"/><stop offset="0.55" stop-color="#9A7290"/><stop offset="0.75" stop-color="#C86068"/><stop offset="1" stop-color="#EA4848"/></linearGradient></defs><rect x="233.1" y="411.1" width="8" height="54.9" fill="url(#cb)"/><path d="M233.1 463.0h1.6M239.5 463.0h1.6" stroke="#fff" stroke-width="0.8"/><text x="242.7" y="466.2" font-size="9" text-anchor="start">0</text><path d="M233.1 445.3h1.6M239.5 445.3h1.6" stroke="#fff" stroke-width="0.8"/><text x="242.7" y="448.5" font-size="9" text-anchor="start">5,000</text><path d="M233.1 427.6h1.6M239.5 427.6h1.6" stroke="#fff" stroke-width="0.8"/><text x="242.7" y="430.8" font-size="9" text-anchor="start">10,000</text><rect x="509.0" y="411.0" width="8" height="55.0" fill="url(#cb)"/><path d="M509.0 463.0h1.6M515.4 463.0h1.6" stroke="#fff" stroke-width="0.8"/><text x="518.0" y="466.2" font-size="9" text-anchor="start">0</text><path d="M509.0 445.3h1.6M515.4 445.3h1.6" stroke="#fff" stroke-width="0.8"/><text x="518.0" y="448.5" font-size="9" text-anchor="start">5,000</text><path d="M509.0 427.6h1.6M515.4 427.6h1.6" stroke="#fff" stroke-width="0.8"/><text x="518.0" y="430.8" font-size="9" text-anchor="start">10,000</text></svg></body></html>
